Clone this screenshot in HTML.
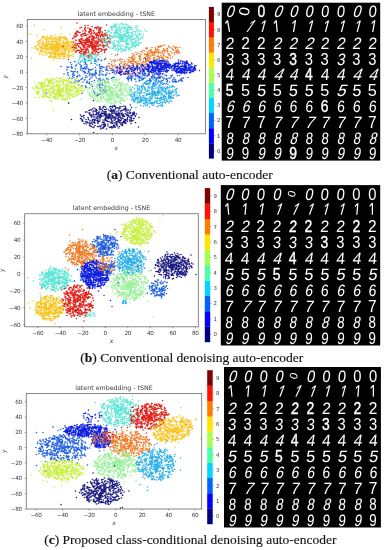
<!DOCTYPE html><html><head><meta charset="utf-8"><style>html,body{margin:0;padding:0;background:#fff;width:384px;height:550px;overflow:hidden}svg{display:block}.t{font-family:"DejaVu Sans",sans-serif;fill:#3a3a3a}.c{font-family:"Liberation Serif",serif;fill:#151515;stroke:#151515;stroke-width:.15px}.d{font-family:"Liberation Sans",sans-serif;fill:#fff;font-size:15.5px}</style></head><body>
<svg width="384" height="550" viewBox="0 0 384 550">
<text class="t" x="116.35" y="15.8" font-size="6.3" text-anchor="middle">latent embedding - tSNE</text>
<clipPath id="cp0"><rect x="27.3" y="19.5" width="178.1" height="114.3"/></clipPath>
<g stroke-linecap="round" fill="none" clip-path="url(#cp0)"><g transform="scale(.5)" stroke-width="3.2">
<path stroke="#f8c420" d="M131 101h0M91 104h0M105 95h0M119 97h0M115 108h0M142 92h0M137 101h0M100 115h0M118 88h0M99 89h0M139 103h0M114 98h0M86 82h0M103 107h0M81 82h0M132 86h0M135 109h0M115 79h0M106 87h0M81 82h0M82 79h0M81 96h0M94 73h0M110 90h0M103 112h0M102 82h0M115 96h0M113 90h0M121 90h0M103 95h0M134 83h0M96 97h0M125 106h0M113 101h0M110 103h0M111 94h0M106 83h0M94 82h0M121 75h0M126 74h0M98 83h0M119 96h0M127 98h0M112 94h0M119 91h0M129 110h0M124 102h0M151 97h0M132 104h0M109 106h0M148 92h0M128 108h0M142 95h0M101 73h0M115 85h0M119 79h0M133 95h0M128 74h0M76 88h0M133 98h0M111 92h0M71 97h0M80 109h0M113 103h0M125 90h0M72 93h0M96 77h0M122 74h0M122 77h0M120 84h0M150 91h0M127 113h0M117 88h0M119 88h0M74 83h0M123 96h0M149 89h0M129 86h0M100 113h0M97 87h0M127 90h0M90 95h0M140 88h0M86 88h0M122 110h0M112 93h0M100 90h0M91 90h0M86 85h0M108 103h0M116 76h0M74 98h0M103 78h0M87 88h0M133 85h0M107 115h0M131 109h0M102 95h0M108 90h0M142 85h0M119 100h0M148 94h0M95 93h0M134 77h0M105 99h0M105 101h0M77 98h0M110 95h0M143 96h0M148 94h0M114 89h0M124 103h0M109 108h0M123 92h0M139 103h0M82 99h0M115 90h0M118 91h0M107 97h0M138 90h0M112 105h0M117 100h0M109 97h0M101 112h0M139 99h0M130 97h0M79 93h0M142 111h0M131 79h0M88 91h0M131 79h0M91 78h0M127 105h0M112 89h0M123 87h0M95 73h0M93 95h0M99 95h0M93 89h0M129 94h0M96 100h0M86 91h0M110 102h0M104 96h0M112 97h0M83 88h0M138 84h0M101 104h0M87 73h0M116 91h0M128 77h0M101 92h0M127 82h0M135 87h0M144 101h0M104 98h0M105 89h0M101 78h0M113 78h0M86 88h0M110 113h0M111 99h0M147 95h0M89 102h0M94 83h0M137 104h0M107 100h0M144 99h0M110 90h0M101 112h0M130 106h0M122 116h0M71 96h0M148 94h0M136 92h0M98 88h0M119 99h0M76 89h0M144 85h0M137 99h0M112 95h0M104 99h0M113 83h0M138 111h0M100 114h0M95 99h0M75 100h0M129 99h0M122 93h0M109 103h0M139 93h0M130 75h0M80 85h0M142 103h0M94 78h0M130 99h0M87 110h0M112 83h0M97 114h0M86 102h0M124 91h0M116 110h0M137 114h0M124 100h0M110 106h0M136 86h0M79 88h0M99 104h0M117 97h0M92 80h0M110 115h0M88 96h0M154 102h0M111 91h0M148 98h0M134 90h0M110 116h0M117 99h0M109 79h0M116 79h0M119 81h0M127 91h0M110 111h0M103 76h0M102 90h0M115 107h0M81 95h0M89 74h0M111 114h0M103 71h0M103 83h0M109 107h0M144 101h0M93 98h0M112 75h0M119 110h0M114 116h0M114 84h0M119 105h0M97 97h0M85 103h0M128 94h0M102 97h0M143 83h0M92 111h0M126 92h0M84 105h0M100 104h0M103 99h0M139 113h0M132 75h0M76 99h0M118 93h0M101 99h0M130 75h0M146 103h0M111 97h0M142 85h0M97 85h0M109 83h0M114 83h0M87 75h0M70 93h0M152 92h0M89 92h0M127 117h0M119 75h0M98 106h0M129 101h0M113 85h0M96 89h0M133 95h0M146 109h0M102 93h0M83 100h0M99 77h0M137 111h0M100 112h0M119 109h0M111 104h0M105 100h0M135 96h0M97 80h0M147 113h0M136 89h0M110 97h0M102 90h0M79 108h0M120 75h0M143 111h0M91 104h0M115 101h0M116 103h0M111 95h0M120 113h0M77 84h0M105 92h0M138 107h0M108 101h0M131 93h0M95 98h0M149 97h0M117 107h0M114 94h0M132 87h0M124 107h0M115 93h0M106 90h0M106 105h0M138 90h0M122 94h0M122 101h0M151 106h0M80 105h0M130 113h0M116 113h0M121 108h0M99 98h0M111 109h0M141 85h0M117 95h0M137 110h0M101 108h0M92 85h0M89 97h0M109 92h0M119 80h0M123 109h0M87 98h0M103 95h0M137 105h0M120 76h0M90 103h0M137 114h0M130 75h0M127 95h0M126 110h0M145 89h0M116 98h0M103 116h0M146 87h0M110 103h0M122 109h0M125 92h0M121 77h0M102 92h0M85 86h0M137 85h0M103 97h0M107 113h0M118 73h0M122 107h0M109 115h0M145 96h0M141 97h0M115 96h0M136 87h0M113 101h0M91 106h0M105 98h0M116 103h0M82 93h0M119 100h0M106 89h0M106 115h0M111 93h0M85 97h0M110 70h0M95 90h0M112 107h0M105 92h0M135 114h0M103 87h0M126 113h0M128 89h0M106 74h0M110 94h0M81 96h0M128 98h0M113 82h0M107 113h0M86 97h0M92 77h0M118 117h0M113 116h0M145 91h0M95 108h0M128 90h0M143 95h0M126 84h0M108 75h0M100 107h0M126 91h0M124 96h0M118 99h0M116 95h0M111 77h0M106 91h0M131 88h0M117 92h0M121 116h0M122 96h0M132 77h0M104 109h0M114 100h0M92 97h0M111 92h0M101 105h0M86 77h0M108 95h0M106 80h0M116 109h0M130 116h0M112 94h0M76 91h0M121 81h0M120 88h0M129 92h0M93 92h0M105 88h0M115 89h0M93 105h0M130 102h0M152 102h0M96 92h0M132 87h0M113 85h0M92 76h0M125 85h0M112 76h0M101 89h0M100 94h0M98 113h0M133 80h0M105 100h0M126 109h0M110 82h0M123 94h0M115 90h0M76 99h0M115 102h0M134 99h0M88 91h0M83 95h0M112 87h0M77 99h0M114 110h0M137 84h0M99 75h0M84 96h0M94 97h0M106 74h0M81 96h0M83 101h0M95 77h0M84 104h0M86 87h0M115 87h0M78 81h0M108 78h0M87 89h0M134 92h0M114 86h0M123 95h0M93 99h0M109 95h0M108 107h0M112 85h0M126 75h0M116 107h0M105 88h0M91 87h0M102 86h0M129 77h0M129 106h0M86 109h0M109 114h0M121 108h0M112 95h0M93 93h0M96 102h0M137 80h0M114 90h0M118 89h0M143 92h0M110 112h0M114 89h0M124 105h0M144 84h0M120 79h0M132 80h0M108 86h0M134 86h0M108 109h0M128 99h0M128 108h0M130 85h0M113 93h0M126 84h0M92 98h0M85 73h0M109 92h0M146 95h0M85 93h0M84 75h0M127 86h0M116 83h0M97 96h0M105 105h0M81 102h0M139 94h0M123 77h0M95 86h0M121 77h0M107 93h0M110 97h0M111 93h0M69 50h0M74 71h0M51 56h0M61 68h0M88 59h0M64 96h0M122 55h0M162 106h0M122 68h0M63 116h0M140 68h0M107 120h0"/>
<path stroke="#e02018" d="M168 92h0M197 74h0M176 82h0M177 82h0M148 100h0M184 82h0M145 95h0M191 101h0M194 82h0M183 83h0M187 77h0M184 92h0M198 105h0M185 78h0M209 91h0M206 69h0M196 78h0M160 65h0M213 91h0M192 69h0M205 86h0M171 70h0M184 74h0M167 94h0M184 66h0M178 114h0M188 81h0M155 71h0M195 54h0M200 65h0M171 68h0M180 108h0M182 84h0M195 69h0M184 79h0M182 112h0M189 56h0M211 92h0M186 61h0M185 94h0M168 67h0M179 63h0M151 96h0M184 90h0M199 67h0M152 73h0M189 93h0M170 81h0M161 85h0M174 93h0M174 78h0M167 110h0M209 81h0M177 84h0M184 105h0M181 59h0M215 70h0M191 94h0M190 84h0M206 71h0M215 89h0M207 73h0M166 80h0M161 103h0M197 97h0M220 84h0M174 96h0M220 86h0M170 59h0M203 99h0M209 68h0M179 59h0M179 91h0M192 94h0M194 92h0M197 106h0M186 80h0M193 72h0M172 88h0M174 78h0M173 101h0M205 100h0M197 85h0M199 61h0M169 93h0M178 93h0M169 86h0M200 78h0M186 79h0M180 108h0M190 96h0M201 70h0M181 91h0M177 115h0M220 80h0M214 78h0M147 84h0M186 92h0M203 98h0M188 93h0M189 85h0M193 103h0M171 62h0M213 89h0M159 101h0M169 110h0M201 57h0M156 91h0M184 113h0M191 91h0M164 77h0M181 83h0M178 75h0M169 57h0M179 66h0M175 84h0M159 83h0M191 106h0M194 88h0M196 88h0M196 105h0M179 83h0M208 94h0M210 99h0M158 87h0M195 92h0M197 62h0M189 90h0M210 67h0M163 84h0M201 73h0M170 109h0M204 77h0M198 55h0M176 83h0M151 104h0M167 104h0M155 87h0M185 85h0M153 64h0M201 63h0M184 115h0M182 109h0M186 106h0M161 95h0M156 63h0M172 80h0M149 95h0M200 97h0M174 89h0M185 98h0M175 80h0M164 68h0M168 82h0M157 92h0M164 85h0M162 77h0M182 85h0M154 89h0M182 68h0M194 85h0M160 106h0M177 64h0M180 75h0M177 94h0M191 68h0M151 86h0M152 92h0M170 60h0M220 77h0M150 73h0M161 98h0M201 60h0M158 93h0M178 110h0M176 100h0M197 58h0M177 103h0M171 80h0M173 107h0M196 54h0M210 61h0M184 83h0M182 63h0M208 78h0M167 99h0M164 77h0M161 84h0M177 89h0M194 69h0M147 92h0M173 99h0M188 64h0M186 73h0M206 94h0M215 75h0M156 101h0M170 85h0M190 93h0M209 77h0M210 84h0M171 67h0M182 84h0M197 106h0M159 80h0M198 80h0M163 98h0M191 87h0M188 89h0M187 61h0M188 82h0M167 107h0M183 94h0M178 90h0M168 98h0M188 81h0M164 73h0M191 69h0M196 71h0M212 71h0M205 72h0M187 95h0M193 69h0M196 99h0M192 97h0M213 98h0M164 102h0M189 65h0M186 100h0M195 83h0M169 107h0M182 93h0M208 99h0M198 98h0M176 69h0M201 74h0M189 103h0M184 104h0M148 72h0M190 99h0M212 100h0M182 63h0M168 71h0M206 90h0M188 73h0M164 80h0M162 86h0M187 98h0M178 75h0M182 70h0M202 55h0M176 76h0M168 106h0M185 100h0M167 108h0M204 66h0M170 58h0M184 87h0M171 96h0M185 86h0M147 76h0M166 62h0M203 79h0M216 85h0M154 70h0M183 78h0M193 75h0M159 105h0M193 56h0M167 93h0M163 55h0M153 96h0M179 79h0M198 92h0M213 85h0M152 81h0M155 64h0M169 103h0M192 99h0M170 71h0M185 97h0M171 100h0M194 70h0M185 74h0M180 61h0M171 88h0M193 58h0M186 90h0M182 89h0M194 89h0M165 89h0M202 81h0M176 51h0M174 82h0M174 85h0M205 80h0M154 62h0M186 108h0M194 91h0M181 87h0M173 77h0M184 53h0M176 56h0M176 99h0M160 81h0M203 84h0M162 71h0M211 69h0M160 87h0M193 86h0M202 103h0M205 84h0M193 99h0M199 57h0M155 100h0M169 92h0M166 92h0M202 102h0M168 90h0M206 90h0M164 90h0M220 71h0M153 68h0M151 69h0M164 79h0M176 112h0M195 70h0M178 85h0M176 78h0M162 83h0M164 100h0M172 82h0M188 75h0M184 97h0M157 80h0M167 85h0M207 90h0M194 66h0M172 62h0M171 55h0M186 75h0M160 79h0M209 102h0M163 107h0M179 82h0M170 90h0M151 66h0M200 60h0M180 73h0M188 67h0M176 90h0M215 85h0M206 92h0M203 69h0M185 107h0M170 80h0M192 82h0M172 82h0M173 71h0M160 82h0M189 56h0M209 105h0M197 65h0M191 55h0M162 103h0M165 99h0M150 68h0M187 78h0M210 85h0M171 80h0M171 100h0M184 83h0M204 77h0M182 88h0M164 86h0M196 77h0M219 83h0M182 60h0M162 70h0M194 69h0M160 56h0M164 85h0M170 103h0M172 104h0M201 79h0M188 102h0M197 93h0M180 84h0M177 105h0M179 94h0M151 80h0M150 74h0M187 89h0M182 59h0M195 67h0M182 88h0M198 82h0M186 93h0M192 100h0M195 104h0M209 72h0M200 62h0M197 93h0M173 77h0M195 110h0M168 95h0M171 105h0M177 80h0M163 87h0M209 80h0M145 77h0M170 51h0M200 89h0M194 87h0M153 102h0M166 68h0M173 105h0M180 57h0M174 112h0M181 112h0M204 71h0M174 76h0M165 107h0M217 94h0M185 85h0M185 87h0M162 110h0M192 76h0M195 83h0M150 89h0M168 109h0M205 64h0M180 75h0M186 78h0M176 82h0M163 72h0M184 95h0M189 95h0M158 65h0M164 79h0M188 74h0M192 55h0M175 98h0M169 66h0M158 94h0M200 64h0M183 66h0M217 76h0M201 82h0M189 77h0M179 73h0M190 86h0M198 71h0M216 83h0M184 71h0M190 109h0M202 91h0M184 81h0M172 85h0M211 117h0M154 46h0M126 93h0M235 109h0M223 54h0M157 126h0M213 50h0M159 13h0M184 116h0M230 92h0M137 119h0"/>
<path stroke="#5ae6d4" d="M227 90h0M244 75h0M236 58h0M211 92h0M229 81h0M213 89h0M259 75h0M246 76h0M226 88h0M255 65h0M276 62h0M242 72h0M235 92h0M272 51h0M223 65h0M244 47h0M240 59h0M237 62h0M232 65h0M243 94h0M205 80h0M252 96h0M257 71h0M256 59h0M254 85h0M262 55h0M272 55h0M248 72h0M253 82h0M252 63h0M219 81h0M243 70h0M219 78h0M231 53h0M225 73h0M234 83h0M247 77h0M240 55h0M238 86h0M235 66h0M257 99h0M229 87h0M241 76h0M228 83h0M257 56h0M264 69h0M261 73h0M231 94h0M246 69h0M263 67h0M280 79h0M261 59h0M222 78h0M210 73h0M228 53h0M232 54h0M249 56h0M278 86h0M276 90h0M255 77h0M239 55h0M222 84h0M276 75h0M227 97h0M273 76h0M230 100h0M258 65h0M272 81h0M259 65h0M257 99h0M240 74h0M228 68h0M253 61h0M261 78h0M227 72h0M243 90h0M237 98h0M213 82h0M211 84h0M221 54h0M250 72h0M253 73h0M255 57h0M239 92h0M254 67h0M256 80h0M248 69h0M244 100h0M230 50h0M259 77h0M236 100h0M231 71h0M257 70h0M252 62h0M215 92h0M247 78h0M271 86h0M235 59h0M251 69h0M258 72h0M240 92h0M265 69h0M237 76h0M276 88h0M244 83h0M281 63h0M242 73h0M225 54h0M242 79h0M257 90h0M235 100h0M239 73h0M217 61h0M268 86h0M267 91h0M231 58h0M253 83h0M272 57h0M263 91h0M236 75h0M266 88h0M220 74h0M253 90h0M247 91h0M207 75h0M203 77h0M214 65h0M265 93h0M265 78h0M263 65h0M238 72h0M242 65h0M246 80h0M224 61h0M259 55h0M265 68h0M248 74h0M247 91h0M231 54h0M250 83h0M238 85h0M202 79h0M251 57h0M258 100h0M262 59h0M224 96h0M260 73h0M261 56h0M278 60h0M216 62h0M256 61h0M281 69h0M271 69h0M246 83h0M250 100h0M232 75h0M231 51h0M254 55h0M278 67h0M225 55h0M226 96h0M277 76h0M270 77h0M238 71h0M234 89h0M235 68h0M264 82h0M236 65h0M271 91h0M260 97h0M264 72h0M229 65h0M213 93h0M274 74h0M253 66h0M252 83h0M208 83h0M275 90h0M265 60h0M266 64h0M277 86h0M229 89h0M224 58h0M263 67h0M229 89h0M228 48h0M218 81h0M246 50h0M244 78h0M254 82h0M221 66h0M242 72h0M248 62h0M264 73h0M256 55h0M239 56h0M240 99h0M249 67h0M259 86h0M244 56h0M241 83h0M252 74h0M262 101h0M237 88h0M265 85h0M263 72h0M251 87h0M223 57h0M232 98h0M234 72h0M246 54h0M229 73h0M232 65h0M254 64h0M229 90h0M282 86h0M247 55h0M269 88h0M233 64h0M252 49h0M266 70h0M257 54h0M255 89h0M229 54h0M271 94h0M224 75h0M227 52h0M242 94h0M255 50h0M247 49h0M269 63h0M223 54h0M269 92h0M241 97h0M240 72h0M252 99h0M242 69h0M233 48h0M250 71h0M260 86h0M263 80h0M268 79h0M273 90h0M238 84h0M252 94h0M259 52h0M276 79h0M213 87h0M241 71h0M214 73h0M250 94h0M286 68h0M266 74h0M239 77h0M238 54h0M226 85h0M253 87h0M256 96h0M257 96h0M262 73h0M278 68h0M281 85h0M260 76h0M243 100h0M256 87h0M277 81h0M237 82h0M277 91h0M252 80h0M271 64h0M210 79h0M212 65h0M253 93h0M241 62h0M286 72h0M255 60h0M269 93h0M244 76h0M247 74h0M273 60h0M271 83h0M227 76h0M254 94h0M260 82h0M266 89h0M237 68h0M215 84h0M238 76h0M235 61h0M234 54h0M263 90h0M249 101h0M251 102h0M230 63h0M276 80h0M256 77h0M246 79h0M282 63h0M275 64h0M247 63h0M256 74h0M264 95h0M269 87h0M284 75h0M214 67h0M218 62h0M277 86h0M241 78h0M246 74h0M242 76h0M240 69h0M261 73h0M229 91h0M251 70h0M240 80h0M231 67h0M251 48h0M245 74h0M216 72h0M232 62h0M242 48h0M238 49h0M244 72h0M260 96h0M207 85h0M227 93h0M264 83h0M270 68h0M264 55h0M246 103h0M269 77h0M237 86h0M251 53h0M277 91h0M233 97h0M275 71h0M232 73h0M223 85h0M232 51h0M236 102h0M285 77h0M254 86h0M238 62h0M246 97h0M262 77h0M278 70h0M219 63h0M236 94h0M253 77h0M248 76h0M273 71h0M260 95h0M243 82h0M243 59h0M254 72h0M256 62h0M256 66h0M281 76h0M258 70h0M239 68h0M254 82h0M240 69h0M251 94h0M252 79h0M220 96h0M246 99h0M223 73h0M244 82h0M248 58h0M234 82h0M232 63h0M233 60h0M249 100h0M242 76h0M274 88h0M247 82h0M264 86h0M253 73h0M273 84h0M203 63h0M297 38h0M308 110h0M293 63h0M273 109h0M275 53h0M242 104h0M290 60h0M311 98h0"/>
<path stroke="#5ae6d4" d="M178 121h0M190 117h0M161 115h0M175 114h0M182 114h0M165 114h0M174 107h0M184 110h0M171 121h0M165 107h0M204 120h0M190 118h0M184 110h0M176 106h0M185 114h0M193 113h0M200 114h0M189 123h0M159 118h0M176 117h0M178 109h0M185 113h0M184 114h0M182 109h0M184 118h0M188 117h0M170 110h0M195 124h0M167 117h0M193 108h0M181 125h0M204 108h0M190 114h0M191 110h0M168 113h0M162 113h0M184 117h0M198 109h0M192 124h0M186 116h0M183 123h0M180 110h0M184 112h0M189 106h0M183 114h0M192 122h0M223 109h0"/>
<path stroke="#5ae6d4" d="M181 118h0M157 122h0M162 110h0M159 116h0M168 128h0M173 121h0M169 121h0M178 117h0M152 123h0M157 120h0M163 121h0M166 111h0M159 112h0M170 129h0M171 112h0M173 114h0M182 121h0M162 113h0M168 124h0M180 120h0M172 120h0M165 121h0M154 128h0M158 126h0M175 122h0M166 122h0M164 122h0M162 112h0"/>
<path stroke="#f07c28" d="M331 101h0M344 106h0M304 106h0M313 103h0M329 121h0M320 94h0M282 103h0M334 114h0M295 108h0M308 117h0M336 106h0M319 122h0M289 109h0M324 121h0M323 114h0M309 103h0M318 93h0M300 118h0M349 109h0M300 112h0M291 115h0M322 111h0M299 101h0M311 98h0M294 113h0M295 106h0M302 105h0M278 128h0M280 108h0M296 114h0M347 100h0M345 114h0M338 108h0M311 95h0M337 110h0M359 105h0M328 111h0M314 112h0M327 117h0M270 124h0M335 103h0M308 115h0M262 123h0M268 109h0M304 103h0M314 113h0M282 131h0M309 118h0M327 97h0M322 115h0M272 125h0M337 92h0M274 109h0M355 95h0M307 119h0M291 120h0M314 118h0M267 128h0M312 123h0M321 93h0M325 91h0M295 107h0M279 114h0M318 100h0M328 99h0M321 105h0M349 105h0M264 115h0M312 99h0M323 123h0M297 120h0M309 108h0M305 104h0M289 115h0M298 122h0M334 97h0M297 123h0M265 112h0M296 112h0M281 121h0M279 128h0M334 102h0M353 104h0M272 123h0M266 117h0M316 93h0M315 100h0M324 102h0M292 97h0M327 122h0M319 115h0M269 118h0M352 101h0M317 95h0M308 104h0M280 128h0M258 120h0M347 92h0M265 114h0M297 109h0M308 124h0M287 118h0M342 103h0M301 103h0M264 118h0M292 110h0M295 96h0M294 98h0M344 96h0M317 107h0M315 98h0M336 115h0M295 121h0M312 122h0M292 109h0M323 114h0M301 118h0M324 117h0M279 117h0M256 124h0M318 113h0M304 108h0M265 127h0M296 104h0M279 112h0M309 109h0M343 96h0M280 120h0M304 103h0M341 116h0M282 110h0M290 125h0M331 120h0M318 105h0M261 122h0M287 123h0M350 94h0M267 121h0M312 101h0M293 119h0M281 114h0M297 120h0M357 102h0M327 108h0M353 106h0M304 103h0M262 115h0M349 109h0M304 95h0M273 128h0M297 110h0M356 104h0M305 108h0M340 112h0M299 107h0M276 131h0M310 126h0M329 104h0M333 120h0M299 116h0M286 101h0M302 112h0M338 94h0M291 124h0M335 99h0M332 114h0M325 107h0M316 93h0M277 123h0M269 112h0M345 99h0M265 107h0M328 101h0M316 93h0M290 129h0M308 125h0M267 120h0M330 101h0M316 112h0M268 112h0M350 95h0M309 106h0M316 105h0M301 101h0M327 110h0M300 101h0M295 117h0M352 95h0M323 92h0M265 123h0M266 121h0M307 105h0M324 106h0M303 99h0M309 115h0M352 104h0M335 97h0M301 112h0M292 122h0M329 120h0M315 113h0M293 123h0M311 104h0M326 102h0M329 104h0M276 106h0M340 110h0M321 92h0M268 122h0M351 97h0M258 115h0M326 115h0M307 115h0M280 113h0M339 94h0M335 102h0M360 95h0M278 113h0M328 112h0M290 108h0M284 125h0M272 105h0M286 124h0M299 123h0M357 106h0M305 110h0M317 103h0M289 102h0M292 96h0M309 110h0M278 112h0M306 111h0M354 102h0M317 114h0M306 127h0M256 119h0M297 104h0M312 106h0M305 129h0M298 116h0M355 99h0M285 105h0M298 116h0M310 125h0M294 110h0M336 117h0M281 121h0M241 118h0M255 131h0M316 126h0M329 90h0M317 132h0M252 139h0"/>
<path stroke="#f07c28" d="M258 123h0M240 134h0M279 127h0M284 139h0M275 137h0M224 131h0M258 150h0M267 129h0M223 139h0M265 127h0M275 144h0M238 144h0M255 128h0M239 120h0M242 123h0M258 136h0M264 142h0M251 135h0M248 126h0M241 135h0M269 135h0M283 140h0M228 133h0M262 126h0M274 129h0M219 134h0M251 127h0M286 136h0M267 119h0M246 130h0M235 144h0M250 145h0M214 139h0M257 132h0M275 144h0M227 143h0M290 132h0M262 132h0M276 127h0M295 129h0M286 128h0M225 133h0M239 139h0M251 143h0M228 132h0M231 130h0M258 124h0M256 147h0M217 131h0M250 123h0M215 134h0M233 144h0M242 139h0M260 147h0M235 120h0M251 145h0M251 134h0M253 130h0M270 116h0M261 125h0M219 133h0M250 123h0M281 118h0M241 146h0M274 148h0M264 128h0M271 124h0M262 116h0M274 139h0M223 123h0M275 133h0M239 139h0M237 145h0M290 134h0M230 123h0M274 127h0M239 128h0M242 143h0M229 124h0M245 143h0M239 140h0M259 151h0M258 150h0M265 120h0M251 148h0M286 136h0M259 142h0M224 128h0M263 123h0M246 134h0M296 143h0M279 138h0M249 135h0M249 122h0M285 131h0M246 136h0M266 148h0M226 121h0M249 145h0M263 135h0M223 129h0M245 139h0M283 129h0M244 124h0M223 137h0M232 135h0M226 144h0M292 128h0M240 119h0M269 142h0M244 119h0M242 127h0M242 132h0M235 133h0M221 119h0M231 111h0"/>
<path stroke="#1020e0" d="M303 127h0M297 138h0M296 129h0M338 132h0M303 123h0M323 133h0M314 120h0M322 128h0M334 135h0M309 122h0M329 126h0M327 135h0M329 137h0M320 136h0M315 141h0M344 133h0M321 126h0M316 127h0M325 137h0M332 124h0M315 130h0M322 143h0M312 148h0M310 122h0M319 142h0M306 134h0M333 136h0M303 144h0M312 138h0M296 132h0M324 132h0M322 142h0M304 144h0M301 124h0M305 141h0M336 134h0M316 148h0M302 125h0M318 130h0M311 127h0M297 139h0M334 141h0M302 133h0M311 137h0M321 139h0M299 131h0M301 134h0M325 148h0M317 132h0M320 124h0M315 127h0M310 138h0M332 138h0M298 130h0M334 141h0M317 148h0M317 137h0M315 137h0M306 141h0M321 147h0M316 135h0M323 134h0M326 135h0M302 141h0M329 137h0M295 139h0M328 123h0M330 128h0M309 126h0M318 144h0M329 126h0M322 134h0M316 133h0M331 143h0M314 127h0M305 124h0M338 136h0M309 141h0M313 130h0M305 132h0M333 142h0M340 136h0M302 143h0M310 137h0M310 133h0M305 137h0M327 133h0M307 138h0M313 145h0M322 131h0M308 136h0M295 132h0M332 131h0M296 141h0M314 135h0M311 121h0M321 133h0M323 134h0M328 140h0M320 144h0M322 136h0M321 129h0M317 143h0M316 128h0M323 133h0M328 139h0M315 132h0M298 134h0M309 136h0M315 141h0M334 140h0M333 142h0M300 134h0M333 127h0M329 133h0M316 150h0M300 126h0M321 128h0M333 139h0M299 125h0M308 135h0M335 142h0M307 126h0M338 131h0M304 138h0M309 128h0M305 131h0M335 132h0M342 133h0M316 124h0M336 130h0M323 121h0M311 143h0M325 127h0M326 143h0M313 138h0M321 137h0M307 145h0M309 148h0M307 137h0M331 135h0M340 131h0M317 140h0M315 133h0M317 144h0M330 134h0M334 144h0M326 120h0M297 130h0M315 148h0M323 142h0M304 126h0M333 129h0M337 128h0M328 139h0M309 128h0M334 130h0M318 122h0M327 139h0M309 124h0M333 144h0M324 133h0M293 139h0M339 132h0M325 136h0M303 139h0M295 142h0M319 148h0M305 134h0M311 141h0M335 134h0M325 137h0M313 135h0M329 123h0M303 129h0M316 133h0M312 133h0M328 139h0M324 122h0M331 126h0M318 118h0M316 136h0M328 122h0M299 144h0M318 127h0M334 129h0M334 128h0M299 137h0M314 124h0M301 123h0M312 125h0M336 123h0M318 131h0M317 136h0M319 142h0M308 144h0M335 131h0M294 133h0M309 141h0M321 121h0M343 136h0M322 139h0M298 142h0M308 143h0M322 138h0M326 139h0M296 133h0M319 139h0M325 122h0M322 128h0M318 130h0M338 133h0M323 128h0M307 121h0M294 128h0M325 139h0M336 125h0M325 138h0M319 122h0M319 127h0M324 125h0M323 131h0M325 136h0M337 141h0M311 128h0M339 137h0M318 142h0M295 131h0M330 142h0M316 126h0M312 139h0M305 135h0M329 130h0M332 124h0M316 141h0M320 137h0M332 133h0M329 128h0M328 140h0M307 124h0M306 133h0M327 131h0M339 128h0M332 129h0M331 126h0M326 127h0M301 143h0M294 137h0M322 143h0M339 132h0M310 138h0M330 131h0M291 117h0M344 141h0M287 132h0M355 132h0M289 144h0M333 151h0"/>
<path stroke="#1020e0" d="M348 128h0M362 143h0M353 138h0M390 139h0M364 138h0M372 124h0M354 133h0M360 127h0M354 142h0M389 140h0M359 128h0M378 136h0M354 127h0M372 140h0M371 131h0M373 128h0M359 128h0M381 134h0M350 133h0M370 145h0M390 136h0M365 127h0M369 141h0M357 143h0M348 130h0M390 134h0M369 134h0M368 134h0M371 141h0M349 136h0M368 133h0M367 140h0M370 125h0M360 127h0M359 134h0M362 144h0M378 139h0M374 141h0M382 142h0M368 146h0M366 144h0M368 123h0M351 131h0M379 136h0M363 141h0M376 136h0M360 146h0M368 136h0M364 137h0M362 133h0M363 143h0M359 142h0M373 124h0M379 141h0M351 127h0M374 136h0M369 145h0M351 135h0M374 144h0M374 143h0M388 138h0M357 134h0M370 131h0M372 137h0M369 130h0M355 140h0M355 145h0M345 131h0M385 143h0M350 128h0M373 134h0M366 138h0M353 140h0M351 143h0M347 137h0M388 137h0M382 139h0M389 133h0M389 132h0M364 133h0M370 135h0M366 142h0M370 134h0M379 135h0M373 146h0M361 133h0M362 137h0M391 140h0M387 143h0M391 138h0M350 135h0M373 127h0M373 132h0M354 137h0M351 131h0M389 134h0M377 136h0M358 138h0M371 134h0M366 126h0M362 145h0M351 129h0M379 145h0M381 134h0M369 138h0M364 132h0M349 134h0M358 127h0M351 135h0M350 140h0M355 138h0M353 139h0M381 134h0M363 137h0M356 131h0M377 130h0M363 147h0M380 130h0M369 147h0M358 136h0M369 142h0M385 143h0M384 134h0M386 139h0M386 140h0M384 128h0M352 127h0M368 138h0M365 123h0M362 133h0M356 138h0M357 145h0M392 131h0M358 138h0M357 128h0M356 132h0M365 139h0M367 145h0M365 144h0M348 139h0M380 146h0M364 139h0M369 128h0M370 128h0M348 141h0M345 133h0M352 143h0M361 140h0M348 138h0M360 143h0M349 132h0M369 135h0M370 140h0M368 146h0M366 141h0M364 128h0M356 126h0M368 138h0M375 127h0M385 134h0M357 144h0M370 133h0M364 132h0M379 139h0M371 131h0M363 147h0M377 138h0M353 146h0M360 137h0M352 126h0M349 134h0M372 139h0M358 135h0M379 130h0M382 137h0M382 144h0M372 126h0M366 132h0M365 132h0M357 126h0M376 140h0M362 138h0M352 132h0M361 142h0M383 126h0M373 123h0M380 141h0M363 140h0M354 133h0M370 132h0M360 145h0M363 138h0M374 140h0M358 144h0M356 134h0M361 124h0M377 130h0M365 145h0M375 124h0M380 134h0M369 133h0M355 139h0M382 140h0M357 124h0M374 126h0M387 136h0M370 130h0M372 138h0M381 130h0M365 145h0M373 122h0M350 136h0M353 144h0M348 130h0M348 133h0M362 121h0M377 128h0M371 132h0M382 135h0M385 140h0M361 143h0M377 132h0M348 131h0M360 141h0M392 131h0M382 143h0M377 140h0M383 133h0M370 140h0M399 141h0M343 133h0M341 129h0M334 122h0M357 120h0"/>
<path stroke="#1020e0" d="M234 142h0M244 142h0M280 148h0M284 129h0M279 146h0M281 143h0M267 140h0M279 135h0M285 137h0M287 139h0M282 132h0M275 140h0M298 147h0M290 138h0M285 141h0M243 149h0M296 136h0M285 129h0M265 140h0M234 134h0M264 135h0M298 144h0M248 148h0M272 136h0M275 132h0M262 152h0M294 139h0M242 145h0M283 134h0M254 139h0M285 147h0M237 146h0M242 144h0M269 140h0M274 135h0M305 140h0M241 134h0M270 147h0M297 139h0M281 143h0M253 142h0M230 142h0M257 142h0M280 148h0M261 138h0M267 133h0M247 147h0M258 141h0M259 133h0M240 142h0M290 135h0M275 151h0M266 131h0M256 143h0M239 144h0M250 148h0M303 145h0M256 136h0M249 130h0M267 140h0M264 140h0M241 145h0M241 150h0M273 132h0M268 140h0M288 141h0M254 137h0M239 147h0M243 144h0M291 136h0M258 131h0M262 137h0M256 148h0M286 141h0M256 145h0M271 138h0M267 140h0M270 137h0M291 147h0M269 139h0M271 148h0M306 140h0M233 146h0M303 139h0M297 136h0M274 152h0M257 145h0M297 149h0M227 140h0M253 148h0M267 133h0M287 132h0M239 136h0M286 144h0M282 144h0M263 139h0M266 136h0M236 136h0M265 147h0M280 138h0M267 144h0M241 138h0M290 136h0M274 132h0M288 140h0M298 148h0M260 136h0M280 140h0M255 144h0M269 145h0M251 143h0M279 135h0M235 140h0M267 140h0M275 135h0M232 136h0M263 143h0M247 134h0M287 143h0M271 139h0M269 138h0M276 137h0M286 131h0M248 137h0M271 149h0M277 146h0M308 154h0M239 130h0M201 137h0"/>
<path stroke="#2462e0" d="M134 140h0M181 156h0M192 140h0M215 158h0M199 148h0M169 143h0M182 169h0M142 142h0M155 153h0M199 129h0M169 117h0M216 141h0M134 134h0M184 163h0M135 148h0M171 128h0M196 118h0M169 135h0M158 162h0M175 147h0M145 148h0M185 151h0M150 143h0M200 159h0M179 148h0M169 160h0M219 147h0M184 154h0M206 143h0M151 138h0M203 121h0M204 149h0M223 157h0M150 164h0M154 162h0M200 137h0M200 145h0M184 154h0M190 119h0M192 122h0M186 138h0M205 134h0M147 146h0M184 150h0M205 166h0M149 150h0M178 139h0M151 132h0M228 155h0M204 169h0M161 140h0M147 150h0M174 154h0M220 137h0M141 165h0M179 164h0M136 145h0M218 127h0M147 144h0M198 171h0M162 137h0M180 139h0M203 133h0M200 149h0M192 145h0M174 130h0M185 148h0M145 153h0M200 157h0M191 148h0M200 144h0M210 163h0M225 145h0M206 160h0M165 137h0M230 148h0M180 148h0M216 164h0M143 129h0M178 145h0M209 161h0M169 137h0M183 140h0M157 163h0M135 135h0M149 166h0M163 134h0M165 141h0M204 148h0M166 164h0M153 130h0M179 159h0M183 127h0M159 161h0M202 141h0M198 151h0M161 124h0M155 152h0M190 122h0M143 133h0M193 147h0M143 136h0M137 151h0M173 165h0M214 146h0M189 161h0M213 137h0M217 159h0M177 143h0M211 150h0M212 151h0M191 142h0M213 136h0M149 123h0M198 120h0M197 158h0M224 157h0M214 140h0M145 136h0M171 155h0M171 138h0M213 133h0M134 139h0M128 148h0M191 145h0M208 135h0M172 128h0M175 165h0M196 161h0M163 131h0M179 151h0M163 173h0M182 140h0M178 142h0M144 143h0M174 136h0M167 143h0M171 125h0M212 149h0M207 150h0M210 173h0M171 172h0M178 121h0M191 135h0M179 167h0M163 158h0M169 146h0M205 133h0M171 145h0M178 167h0M199 142h0M226 141h0M165 156h0M170 146h0M172 175h0M225 155h0M225 138h0M150 160h0M200 134h0M158 170h0M178 145h0M189 149h0M226 141h0M167 137h0M185 150h0M222 141h0M170 119h0M194 130h0M199 168h0M169 159h0M228 145h0M188 148h0M162 159h0M199 132h0M147 151h0M172 174h0M201 162h0M190 127h0M202 161h0M228 154h0M144 157h0M139 156h0M174 162h0M199 174h0M177 138h0M177 142h0M154 153h0M155 143h0M174 133h0M158 150h0M148 155h0M188 150h0M172 138h0M203 137h0M193 156h0M143 134h0M160 152h0M160 129h0M211 140h0M161 133h0M172 151h0M155 145h0M171 134h0M214 140h0M209 119h0M183 148h0M141 125h0M154 154h0M191 152h0M138 134h0M172 173h0M193 173h0M213 157h0M148 143h0M164 171h0M185 173h0M170 124h0M206 159h0M93 187h0M122 133h0M256 158h0M230 120h0M164 187h0"/>
<path stroke="#2462e0" d="M329 156h0M262 155h0M333 159h0M361 159h0M313 159h0M288 151h0M346 159h0M361 161h0M257 160h0M290 156h0M303 153h0M305 154h0M295 168h0M330 150h0M266 152h0M338 156h0M322 153h0M263 161h0M319 152h0M351 160h0M306 158h0M321 156h0M326 161h0M270 152h0M348 155h0M278 162h0M346 164h0M260 155h0M335 161h0M318 156h0M310 154h0M328 167h0M279 157h0M342 151h0M280 161h0M296 161h0M263 158h0M306 158h0M326 169h0M317 156h0M350 160h0M301 163h0M257 162h0M286 157h0M348 163h0M280 153h0M262 150h0M318 154h0M300 159h0M287 156h0M315 148h0M284 159h0M290 151h0M302 162h0M363 157h0M341 156h0M332 159h0M363 158h0M299 161h0M309 156h0M348 156h0M355 151h0M264 156h0M317 162h0M289 166h0M350 163h0M258 157h0M272 163h0M264 153h0M327 158h0M263 155h0M263 159h0M357 163h0M308 166h0M313 163h0M305 148h0M283 156h0M313 158h0M271 158h0M277 152h0M315 156h0M345 150h0M364 163h0M289 148h0M343 153h0M257 153h0M286 149h0M317 164h0M325 154h0M257 157h0M290 151h0M311 158h0M345 162h0M318 153h0M345 150h0M284 160h0M255 155h0M306 167h0M317 155h0M320 163h0M290 167h0M320 149h0M294 150h0M308 152h0M339 164h0M334 159h0M334 163h0M326 147h0M280 156h0M367 156h0M334 157h0M294 153h0M289 147h0M287 158h0M352 165h0M289 150h0M300 158h0M285 159h0M276 154h0M332 168h0M319 155h0M359 151h0M366 156h0M310 170h0M350 159h0M323 162h0M302 161h0M314 155h0M364 161h0M293 168h0M353 163h0M318 157h0M358 161h0M303 156h0M315 167h0M284 152h0M272 151h0M299 158h0M269 158h0M262 157h0M333 158h0M321 166h0M278 154h0M295 151h0M254 157h0M307 168h0M293 163h0M306 151h0M298 151h0M258 147h0M376 155h0M344 138h0"/>
<path stroke="#2462e0" d="M205 185h0M187 182h0M211 174h0M190 188h0M200 181h0M206 185h0M189 185h0M207 181h0M200 170h0M195 170h0M205 179h0M197 189h0M209 179h0M205 179h0M205 171h0M213 182h0M210 184h0M201 176h0M208 179h0M202 176h0M201 177h0M211 182h0M199 177h0M198 188h0M203 176h0M213 182h0M200 188h0M204 189h0"/>
<path stroke="#2cb0ea" d="M304 185h0M342 174h0M283 186h0M269 186h0M269 189h0M305 191h0M313 202h0M286 191h0M335 203h0M284 199h0M322 186h0M334 200h0M281 198h0M269 178h0M333 203h0M325 211h0M305 183h0M270 190h0M283 172h0M356 190h0M271 184h0M314 184h0M298 188h0M350 179h0M315 202h0M304 180h0M263 179h0M352 188h0M337 190h0M304 195h0M277 185h0M303 190h0M297 189h0M319 201h0M299 186h0M262 182h0M333 186h0M273 196h0M285 200h0M343 186h0M280 187h0M278 203h0M319 207h0M325 206h0M306 174h0M312 187h0M274 172h0M336 169h0M309 185h0M340 198h0M284 178h0M346 184h0M317 177h0M268 200h0M328 199h0M316 185h0M327 178h0M299 169h0M309 203h0M339 193h0M287 206h0M332 187h0M332 185h0M322 210h0M267 190h0M293 166h0M330 201h0M338 186h0M326 199h0M312 204h0M296 180h0M265 175h0M281 196h0M307 189h0M281 211h0M263 189h0M324 175h0M295 188h0M336 184h0M343 203h0M267 185h0M314 196h0M338 188h0M301 194h0M358 191h0M323 194h0M339 174h0M261 191h0M321 195h0M322 196h0M327 193h0M352 182h0M320 211h0M291 182h0M313 170h0M338 183h0M300 188h0M315 182h0M342 183h0M318 172h0M326 195h0M354 177h0M345 181h0M314 207h0M308 183h0M305 205h0M324 180h0M275 195h0M284 194h0M300 201h0M316 206h0M307 189h0M299 165h0M323 198h0M270 197h0M288 186h0M330 193h0M280 200h0M348 190h0M294 187h0M289 186h0M309 187h0M303 184h0M290 176h0M289 166h0M287 212h0M320 163h0M261 184h0M345 196h0M291 202h0M305 170h0M291 198h0M279 190h0M275 202h0M330 205h0M271 200h0M304 190h0M276 177h0M339 191h0M317 197h0M304 205h0M308 170h0M337 197h0M339 181h0M323 177h0M317 179h0M280 192h0M297 173h0M343 195h0M302 200h0M285 201h0M315 213h0M293 191h0M327 193h0M311 190h0M292 198h0M348 183h0M338 206h0M335 175h0M345 174h0M311 167h0M307 183h0M290 208h0M307 188h0M298 198h0M316 212h0M265 199h0M336 186h0M328 174h0M333 186h0M296 166h0M262 183h0M333 189h0M340 187h0M329 183h0M306 186h0M268 190h0M297 189h0M318 172h0M305 172h0M288 207h0M280 203h0M352 179h0M272 197h0M343 192h0M334 177h0M342 188h0M274 198h0M315 183h0M264 188h0M288 201h0M289 178h0M349 174h0M294 183h0M306 171h0M313 176h0M290 175h0M346 172h0M288 174h0M352 186h0M304 174h0M280 205h0M286 195h0M320 162h0M286 173h0M291 196h0M313 203h0M288 192h0M322 205h0M309 189h0M292 205h0M307 177h0M281 203h0M303 186h0M274 182h0M270 170h0M331 180h0M276 171h0M283 181h0M291 211h0M329 191h0M319 186h0M304 197h0M296 176h0M322 190h0M341 193h0M341 196h0M270 201h0M315 190h0M309 173h0M279 179h0M283 198h0M295 209h0M293 200h0M287 196h0M315 197h0M301 205h0M274 190h0M298 181h0M296 207h0M327 180h0M265 194h0M292 190h0M324 213h0M294 211h0M275 186h0M300 165h0M275 176h0M315 186h0M341 197h0M313 170h0M295 189h0M271 200h0M260 182h0M276 194h0M307 210h0M280 184h0M272 195h0M317 181h0M284 175h0M347 196h0M313 201h0M312 190h0M293 190h0M305 188h0M320 197h0M322 201h0M330 176h0M331 194h0M310 161h0M333 177h0M319 183h0M272 196h0M307 206h0M310 191h0M299 194h0M291 165h0M300 204h0M266 200h0M346 173h0M310 183h0M277 196h0M260 178h0M291 164h0M286 171h0M310 190h0M317 190h0M277 198h0M303 161h0M285 178h0M344 172h0M298 175h0M320 169h0M336 203h0M286 168h0M304 194h0M299 214h0M299 202h0M301 164h0M308 168h0M339 193h0M296 180h0M289 197h0M266 196h0M338 187h0M345 174h0M313 191h0M293 169h0M322 183h0M322 165h0M320 175h0M276 206h0M283 203h0M293 189h0M306 182h0M295 181h0M319 207h0M321 205h0M323 174h0M334 175h0M300 189h0M333 199h0M266 195h0M327 194h0M311 165h0M301 197h0M309 170h0M276 180h0M312 190h0M346 195h0M317 188h0M327 197h0M292 197h0M325 208h0M332 180h0M324 188h0M306 185h0M330 196h0M294 205h0M331 206h0M296 168h0M309 206h0M320 171h0M329 185h0M341 185h0M265 194h0M319 171h0M280 186h0M315 195h0M291 179h0M316 174h0M292 204h0M310 190h0M275 205h0M335 173h0M269 204h0M312 163h0M320 179h0M317 184h0M282 201h0M302 174h0M332 196h0M311 187h0M311 197h0M305 189h0M300 207h0M308 164h0M303 178h0M294 198h0M308 171h0M339 194h0M290 196h0M286 201h0M322 183h0M298 186h0M331 177h0M331 193h0M308 178h0M297 200h0M326 204h0M299 176h0M340 202h0M290 206h0M303 208h0M299 167h0M324 165h0M304 177h0M312 204h0M269 193h0M353 185h0M307 188h0M329 204h0M303 207h0M320 200h0M282 173h0M310 194h0M294 197h0M280 180h0M306 207h0M312 176h0M337 195h0M288 197h0M341 193h0M276 198h0M305 211h0M284 199h0M331 182h0M269 193h0M325 178h0M283 184h0M326 182h0M293 200h0M338 181h0M279 174h0M315 182h0M311 169h0M295 203h0M334 166h0M281 201h0M263 199h0M337 193h0M263 193h0M347 191h0M291 200h0M338 176h0M322 175h0M280 194h0M312 186h0M305 192h0M290 175h0M344 186h0M305 194h0M326 190h0M324 167h0M353 192h0M279 176h0M241 206h0M272 215h0M233 189h0M278 158h0M334 164h0M267 203h0M313 161h0M281 155h0M241 180h0M294 162h0"/>
<path stroke="#c8f040" d="M105 173h0M151 175h0M146 165h0M113 170h0M86 188h0M108 157h0M131 174h0M136 186h0M120 194h0M116 164h0M146 193h0M116 175h0M149 172h0M76 177h0M138 182h0M79 177h0M143 172h0M120 165h0M169 176h0M87 179h0M125 165h0M113 188h0M122 198h0M78 182h0M128 169h0M167 182h0M116 164h0M102 161h0M101 184h0M115 182h0M100 176h0M76 187h0M125 170h0M110 190h0M149 176h0M107 187h0M86 186h0M81 170h0M88 189h0M133 179h0M75 175h0M140 188h0M157 183h0M143 164h0M102 189h0M112 164h0M118 156h0M89 171h0M143 173h0M155 191h0M149 171h0M113 169h0M100 172h0M72 175h0M111 187h0M149 185h0M105 171h0M99 188h0M138 190h0M100 164h0M132 177h0M126 194h0M88 166h0M107 167h0M135 176h0M160 177h0M128 190h0M120 187h0M159 180h0M116 194h0M126 193h0M117 180h0M86 193h0M143 167h0M137 159h0M150 194h0M81 173h0M97 170h0M136 188h0M121 158h0M87 182h0M104 185h0M93 191h0M97 182h0M130 173h0M103 175h0M161 182h0M77 188h0M141 185h0M136 172h0M156 168h0M113 184h0M140 179h0M116 193h0M135 193h0M149 193h0M108 193h0M116 184h0M115 169h0M126 199h0M89 171h0M140 181h0M107 181h0M108 173h0M83 165h0M159 169h0M136 162h0M85 180h0M129 160h0M90 192h0M114 179h0M152 180h0M132 195h0M74 175h0M125 197h0M77 165h0M86 167h0M72 173h0M97 185h0M108 166h0M111 193h0M135 198h0M103 160h0M103 189h0M98 164h0M119 178h0M120 183h0M147 174h0M127 175h0M117 175h0M92 194h0M125 155h0M128 199h0M143 172h0M92 182h0M117 185h0M135 156h0M144 189h0M161 173h0M74 186h0M143 171h0M152 190h0M117 186h0M122 186h0M87 193h0M119 178h0M152 181h0M124 191h0M160 175h0M85 195h0M90 186h0M76 184h0M153 177h0M137 169h0M106 177h0M89 167h0M164 174h0M114 163h0M99 161h0M121 191h0M107 176h0M107 183h0M148 176h0M87 174h0M75 175h0M125 193h0M116 183h0M123 180h0M77 184h0M103 164h0M105 176h0M122 188h0M124 178h0M131 180h0M89 184h0M101 195h0M120 182h0M119 177h0M117 184h0M158 187h0M120 182h0M134 162h0M118 179h0M106 167h0M103 189h0M85 175h0M99 163h0M94 170h0M101 200h0M85 173h0M128 188h0M117 191h0M89 171h0M122 183h0M137 180h0M92 171h0M152 182h0M116 175h0M116 192h0M107 182h0M116 183h0M149 166h0M144 180h0M135 183h0M101 184h0M83 175h0M140 180h0M142 164h0M95 160h0M111 180h0M137 182h0M74 182h0M145 194h0M130 161h0M78 195h0M149 174h0M169 177h0M155 167h0M144 171h0M102 160h0M117 186h0M138 178h0M71 177h0M78 176h0M119 184h0M119 189h0M133 171h0M134 198h0M134 166h0M81 167h0M118 179h0M82 170h0M100 190h0M108 180h0M136 162h0M158 183h0M78 184h0M81 168h0M117 173h0M127 167h0M106 195h0M84 166h0M84 164h0M77 166h0M111 193h0M142 176h0M82 177h0M144 174h0M89 190h0M96 183h0M145 182h0M117 163h0M96 162h0M87 170h0M66 176h0M103 189h0M139 192h0M124 170h0M100 180h0M102 184h0M124 190h0M133 183h0M93 182h0M165 174h0M77 183h0M90 180h0M149 189h0M100 190h0M126 159h0M125 191h0M131 162h0M107 184h0M102 164h0M94 179h0M89 172h0M124 183h0M108 163h0M91 185h0M129 200h0M116 179h0M103 189h0M114 188h0M87 182h0M132 178h0M154 166h0M136 185h0M137 195h0M146 164h0M86 183h0M104 156h0M92 181h0M115 189h0M131 172h0M107 168h0M133 176h0M142 158h0M154 181h0M143 174h0M139 162h0M164 178h0M158 189h0M97 167h0M125 198h0M139 179h0M139 174h0M135 171h0M83 192h0M91 191h0M142 191h0M125 179h0M127 180h0M113 188h0M102 191h0M156 178h0M131 200h0M115 194h0M125 160h0M73 171h0M112 190h0M117 163h0M98 171h0M110 187h0M147 178h0M108 181h0M156 182h0M73 187h0M86 167h0M121 173h0M101 161h0M131 180h0M153 190h0M151 173h0M114 160h0M149 184h0M123 190h0M121 193h0M139 173h0M114 160h0M115 171h0M135 173h0M162 181h0M113 186h0M82 169h0M131 185h0M109 159h0M105 184h0M96 176h0M68 180h0M169 177h0M119 179h0M104 178h0M160 164h0M153 186h0M149 194h0M65 176h0M120 162h0M154 176h0M115 162h0M145 167h0M117 189h0M134 168h0M121 161h0M120 191h0M127 165h0M94 157h0M132 178h0M134 188h0M133 181h0M74 188h0M108 185h0M144 188h0M92 178h0M80 167h0M127 183h0M115 178h0M131 173h0M111 172h0M98 194h0M100 159h0M108 179h0M101 179h0M154 184h0M143 171h0M97 167h0M162 172h0M114 197h0M84 169h0M140 197h0M146 189h0M100 166h0M89 166h0M126 176h0M97 165h0M163 183h0M117 176h0M77 185h0M120 157h0M118 171h0M135 172h0M137 188h0M166 181h0M123 191h0M150 160h0M138 167h0M84 171h0M150 175h0M131 174h0M109 195h0M92 172h0M91 159h0M102 201h0M105 160h0M90 164h0M153 176h0M167 184h0M128 188h0M133 198h0M95 172h0M119 168h0M127 177h0M106 168h0M123 177h0M156 185h0M149 166h0M95 193h0M119 182h0M122 181h0M111 197h0M114 155h0M136 163h0M72 174h0M136 177h0M113 189h0M125 162h0M142 180h0M130 200h0M90 162h0M121 181h0M80 166h0M128 161h0M119 180h0M120 174h0M124 164h0M86 195h0M97 195h0M116 199h0M109 198h0M136 188h0M122 185h0M132 160h0M99 178h0M118 179h0M129 198h0M103 166h0M144 182h0M113 173h0M97 161h0M75 174h0M119 185h0M71 195h0M103 203h0M107 221h0M172 159h0M69 164h0M139 206h0M137 207h0M175 179h0M181 145h0M155 158h0M152 158h0"/>
<path stroke="#98f098" d="M206 194h0M240 198h0M217 175h0M178 178h0M201 183h0M195 190h0M246 200h0M202 197h0M228 159h0M179 190h0M190 165h0M204 195h0M226 189h0M201 178h0M180 189h0M194 190h0M219 166h0M182 194h0M185 192h0M219 191h0M198 200h0M226 163h0M209 160h0M237 165h0M186 169h0M239 166h0M220 184h0M236 171h0M215 205h0M235 189h0M181 170h0M221 200h0M231 204h0M216 194h0M213 163h0M205 188h0M201 194h0M210 175h0M196 165h0M190 178h0M218 200h0M228 168h0M210 178h0M204 189h0M191 193h0M181 192h0M187 197h0M217 170h0M213 166h0M195 202h0M233 175h0M185 194h0M232 205h0M207 186h0M196 186h0M225 183h0M244 172h0M183 183h0M224 183h0M242 196h0M185 177h0M194 174h0M250 169h0M212 185h0M228 170h0M237 195h0M223 183h0M236 193h0M180 175h0M206 161h0M242 186h0M216 190h0M212 176h0M179 177h0M228 192h0M223 204h0M223 189h0M211 173h0M218 193h0M242 190h0M219 181h0M215 180h0M203 189h0M234 195h0M223 190h0M227 195h0M209 165h0M193 187h0M235 184h0M249 192h0M232 176h0M220 199h0M232 176h0M204 184h0M243 178h0M227 207h0M226 183h0M256 176h0M237 180h0M240 182h0M194 203h0M243 172h0M222 195h0M241 169h0M204 182h0M234 161h0M211 168h0M232 164h0M261 180h0M234 171h0M203 184h0M239 182h0M226 187h0M248 191h0M197 170h0M223 197h0M190 198h0M214 202h0M242 167h0M255 197h0M208 188h0M243 200h0M234 193h0M229 192h0M235 175h0M210 200h0M256 184h0M254 188h0M221 179h0M213 174h0M211 171h0M204 161h0M204 160h0M220 207h0M228 199h0M217 188h0M241 176h0M239 159h0M228 182h0M225 178h0M236 169h0M246 187h0M247 177h0M179 191h0M242 201h0M219 177h0M256 180h0M223 186h0M228 181h0M199 163h0M206 185h0M206 180h0M261 183h0M232 194h0M242 179h0M230 200h0M252 178h0M223 188h0M239 167h0M224 190h0M250 181h0M222 184h0M250 176h0M236 170h0M199 203h0M232 176h0M223 175h0M212 187h0M206 169h0M186 194h0M218 197h0M221 181h0M185 190h0M246 182h0M193 193h0M195 190h0M241 173h0M227 206h0M250 202h0M191 186h0M222 184h0M246 187h0M207 193h0M210 181h0M255 184h0M210 167h0M201 164h0M202 183h0M257 189h0M232 159h0M205 182h0M221 184h0M239 193h0M215 204h0M221 198h0M193 173h0M239 179h0M224 182h0M221 207h0M196 163h0M244 169h0M204 203h0M241 201h0M204 166h0M247 178h0M231 183h0M239 192h0M175 175h0M232 179h0M237 197h0M241 185h0M221 173h0M224 189h0M228 198h0M212 187h0M207 194h0M229 202h0M217 186h0M201 185h0M216 172h0M232 171h0M240 205h0M233 156h0M243 188h0M245 190h0M217 199h0M205 179h0M191 186h0M201 193h0M225 190h0M198 180h0M259 187h0M204 196h0M214 187h0M195 166h0M213 179h0M224 200h0M198 180h0M208 175h0M230 165h0M261 173h0M210 163h0M209 196h0M221 176h0M224 189h0M252 173h0M217 203h0M202 167h0M246 172h0M248 168h0M209 165h0M224 195h0M228 208h0M184 171h0M242 181h0M246 195h0M191 179h0M229 171h0M218 201h0M260 186h0M178 176h0M253 168h0M219 180h0M224 161h0M214 200h0M205 181h0M204 180h0M225 186h0M241 196h0M256 170h0M210 210h0M206 161h0M224 185h0M222 176h0M229 169h0M222 183h0M197 162h0M249 200h0M241 173h0M201 196h0M221 184h0M221 173h0M206 157h0M191 198h0M223 208h0M219 194h0M229 161h0M178 187h0M195 172h0M184 185h0M245 185h0M200 187h0M219 189h0M185 169h0M246 187h0M202 177h0M214 179h0M250 174h0M188 165h0M212 165h0M199 177h0M194 195h0M208 171h0M214 197h0M244 168h0M210 175h0M194 193h0M218 181h0M196 160h0M242 196h0M176 184h0M246 182h0M230 185h0M252 182h0M212 199h0M236 192h0M216 156h0M240 172h0M228 177h0M191 189h0M218 181h0M234 175h0M228 170h0M196 199h0M222 193h0M225 176h0M218 182h0M228 199h0M239 202h0M244 201h0M231 189h0M202 190h0M253 192h0M225 187h0M219 173h0M181 188h0M213 191h0M239 189h0M217 166h0M217 179h0M225 191h0M236 160h0M234 186h0M239 165h0M233 192h0M212 166h0M211 187h0M215 191h0M255 168h0M203 199h0M194 177h0M243 181h0M244 165h0M198 182h0M216 160h0M259 190h0M207 196h0M226 157h0M185 179h0M194 175h0M245 202h0M245 197h0M241 169h0M226 191h0M192 184h0M241 177h0M259 175h0M195 189h0M251 181h0M228 181h0M214 173h0M190 191h0M207 188h0M213 181h0M198 181h0M230 187h0M236 191h0M256 191h0M234 204h0M292 165h0M256 161h0M162 198h0M256 219h0M314 189h0M202 150h0M133 190h0M220 215h0M201 154h0"/>
<path stroke="#1c1c82" d="M242 236h0M234 229h0M233 230h0M211 232h0M226 254h0M219 255h0M207 213h0M184 230h0M263 215h0M240 216h0M255 243h0M219 229h0M201 216h0M223 246h0M216 248h0M197 253h0M204 249h0M238 220h0M225 214h0M222 229h0M259 224h0M208 247h0M224 221h0M245 234h0M241 222h0M262 231h0M212 236h0M207 227h0M259 234h0M193 222h0M229 251h0M252 220h0M268 224h0M163 233h0M251 227h0M166 232h0M229 221h0M167 232h0M203 233h0M245 249h0M252 217h0M187 245h0M195 244h0M192 234h0M217 220h0M183 230h0M187 222h0M179 227h0M236 240h0M235 216h0M180 226h0M215 243h0M181 231h0M219 232h0M260 242h0M223 226h0M245 221h0M206 215h0M226 232h0M195 232h0M255 239h0M168 236h0M200 238h0M208 253h0M180 220h0M235 237h0M251 244h0M232 236h0M244 246h0M217 230h0M271 233h0M210 241h0M226 226h0M210 230h0M223 240h0M188 216h0M161 230h0M206 232h0M230 223h0M226 232h0M222 253h0M246 237h0M166 243h0M232 230h0M203 232h0M207 256h0M231 218h0M200 230h0M171 224h0M238 239h0M215 234h0M233 247h0M199 230h0M190 238h0M262 239h0M233 247h0M235 244h0M266 241h0M224 221h0M192 222h0M234 222h0M227 220h0M222 237h0M194 221h0M191 229h0M212 233h0M196 226h0M240 213h0M227 254h0M231 217h0M244 226h0M188 244h0M222 232h0M266 228h0M208 247h0M201 234h0M240 217h0M249 219h0M185 242h0M199 219h0M262 247h0M241 248h0M208 224h0M218 228h0M248 212h0M200 232h0M189 246h0M209 226h0M256 228h0M205 227h0M217 234h0M268 229h0M183 232h0M251 222h0M184 246h0M177 238h0M216 237h0M245 251h0M190 239h0M202 233h0M203 227h0M231 234h0M236 237h0M257 220h0M200 235h0M262 237h0M236 230h0M183 220h0M234 228h0M226 212h0M185 249h0M172 243h0M229 211h0M193 226h0M218 235h0M201 228h0M190 222h0M218 227h0M205 221h0M194 241h0M250 243h0M186 255h0M207 256h0M220 232h0M180 242h0M233 250h0M180 229h0M225 236h0M188 245h0M242 237h0M255 231h0M227 251h0M221 245h0M224 227h0M267 237h0M264 232h0M252 247h0M240 230h0M251 213h0M224 254h0M231 238h0M214 241h0M222 255h0M212 219h0M255 235h0M269 226h0M192 223h0M212 225h0M237 235h0M244 221h0M249 244h0M260 227h0M198 224h0M210 236h0M247 243h0M178 226h0M215 236h0M243 250h0M248 219h0M214 230h0M227 226h0M200 219h0M207 250h0M198 230h0M240 226h0M213 218h0M247 232h0M184 234h0M206 240h0M229 246h0M177 239h0M244 213h0M190 251h0M251 240h0M233 227h0M211 227h0M202 252h0M196 244h0M226 244h0M248 242h0M198 234h0M246 237h0M210 248h0M214 231h0M200 242h0M231 254h0M259 224h0M195 237h0M218 236h0M240 230h0M227 222h0M239 227h0M187 228h0M206 216h0M187 229h0M244 231h0M259 234h0M237 232h0M264 241h0M268 225h0M197 226h0M236 216h0M225 223h0M186 224h0M220 213h0M200 252h0M261 235h0M211 252h0M209 219h0M251 215h0M254 224h0M228 252h0M211 249h0M270 231h0M179 251h0M183 253h0M221 217h0M234 243h0M201 254h0M210 251h0M211 230h0M194 236h0M199 214h0M240 242h0M196 228h0M269 227h0M227 253h0M225 247h0M207 214h0M263 236h0M258 233h0M184 242h0M240 245h0M230 240h0M238 230h0M172 248h0M218 237h0M208 254h0M246 229h0M212 241h0M193 229h0M181 252h0M172 245h0M212 238h0M204 224h0M238 216h0M229 213h0M209 227h0M229 226h0M261 225h0M185 218h0M244 245h0M250 240h0M222 239h0M206 255h0M255 231h0M254 220h0M245 228h0M228 240h0M230 235h0M196 247h0M265 226h0M196 241h0M263 231h0M194 237h0M234 232h0M263 231h0M191 218h0M210 239h0M163 238h0M194 226h0M180 241h0M208 213h0M224 213h0M240 235h0M232 215h0M231 228h0M247 219h0M223 237h0M252 239h0M263 241h0M174 224h0M207 244h0M196 233h0M237 240h0M182 246h0M212 223h0M195 253h0M201 258h0M212 232h0M196 241h0M188 232h0M262 235h0M229 254h0M180 247h0M251 240h0M168 247h0M225 222h0M242 241h0M257 231h0M164 241h0M252 247h0M233 248h0M225 215h0M165 240h0M165 242h0M243 227h0M190 246h0M222 234h0M175 244h0M224 256h0M219 235h0M250 217h0M200 213h0M209 230h0M243 238h0M221 213h0M215 234h0M236 231h0M239 227h0M217 235h0M232 226h0M237 241h0M183 234h0M228 250h0M200 236h0M246 246h0M217 233h0M210 241h0M211 223h0M230 235h0M233 227h0M193 219h0M271 245h0M237 243h0M254 240h0M193 225h0M208 223h0M179 246h0M224 241h0M201 230h0M179 228h0M259 240h0M251 246h0M178 221h0M180 248h0M228 236h0M268 237h0M265 230h0M218 237h0M248 231h0M231 213h0M249 233h0M191 240h0M198 243h0M261 226h0M225 234h0M237 224h0M256 226h0M196 238h0M237 229h0M209 253h0M199 224h0M235 252h0M247 229h0M185 239h0M222 223h0M260 227h0M242 222h0M252 240h0M194 236h0M262 243h0M187 239h0M203 219h0M188 234h0M232 245h0M218 243h0M176 246h0M267 226h0M240 233h0M244 229h0M221 232h0M238 245h0M223 244h0M197 228h0M239 240h0M180 247h0M223 219h0M219 232h0M211 214h0M168 231h0M240 213h0M227 254h0M189 244h0M220 222h0M216 252h0M234 248h0M208 245h0M205 245h0M208 250h0M231 237h0M261 220h0M232 244h0M228 236h0M249 239h0M237 230h0M222 245h0M228 234h0M203 233h0M249 240h0M213 228h0M188 254h0M189 241h0M236 226h0M273 228h0M241 241h0M217 235h0M172 239h0M232 248h0M254 231h0M250 246h0M239 253h0M234 249h0M253 229h0M176 235h0M210 250h0M202 230h0M204 257h0M255 237h0M250 241h0M200 236h0M248 245h0M227 219h0M213 235h0M236 237h0M199 218h0M180 247h0M222 221h0M184 233h0M208 244h0M225 231h0M207 255h0M278 235h0M195 191h0M161 237h0M187 265h0M213 258h0M277 254h0M143 239h0M137 206h0M261 210h0M187 201h0M237 256h0M195 268h0"/>
</g></g>
<rect x="27.3" y="19.5" width="178.1" height="114.3" fill="none" stroke="#6a6a6a" stroke-width="0.8"/>
<path d="M27.3 26h-1.4" stroke="#555" stroke-width="0.6"/>
<text class="t" x="23" y="28.1" font-size="5.7" letter-spacing="-.25" text-anchor="end">60</text>
<path d="M27.3 41.4h-1.4" stroke="#555" stroke-width="0.6"/>
<text class="t" x="23" y="43.5" font-size="5.7" letter-spacing="-.25" text-anchor="end">40</text>
<path d="M27.3 56.8h-1.4" stroke="#555" stroke-width="0.6"/>
<text class="t" x="23" y="58.9" font-size="5.7" letter-spacing="-.25" text-anchor="end">20</text>
<path d="M27.3 72.2h-1.4" stroke="#555" stroke-width="0.6"/>
<text class="t" x="23" y="74.3" font-size="5.7" letter-spacing="-.25" text-anchor="end">0</text>
<path d="M27.3 87.6h-1.4" stroke="#555" stroke-width="0.6"/>
<text class="t" x="23" y="89.7" font-size="5.7" letter-spacing="-.25" text-anchor="end">−20</text>
<path d="M27.3 103h-1.4" stroke="#555" stroke-width="0.6"/>
<text class="t" x="23" y="105.1" font-size="5.7" letter-spacing="-.25" text-anchor="end">−40</text>
<path d="M27.3 118.4h-1.4" stroke="#555" stroke-width="0.6"/>
<text class="t" x="23" y="120.5" font-size="5.7" letter-spacing="-.25" text-anchor="end">−60</text>
<path d="M27.3 133.8h-1.4" stroke="#555" stroke-width="0.6"/>
<text class="t" x="23" y="135.9" font-size="5.7" letter-spacing="-.25" text-anchor="end">−80</text>
<path d="M46.8 133.8v1.4" stroke="#555" stroke-width="0.6"/>
<text class="t" x="46.8" y="141.6" font-size="5.7" letter-spacing="-.25" text-anchor="middle">−40</text>
<path d="M79.6 133.8v1.4" stroke="#555" stroke-width="0.6"/>
<text class="t" x="79.6" y="141.6" font-size="5.7" letter-spacing="-.25" text-anchor="middle">−20</text>
<path d="M112.4 133.8v1.4" stroke="#555" stroke-width="0.6"/>
<text class="t" x="112.4" y="141.6" font-size="5.7" letter-spacing="-.25" text-anchor="middle">0</text>
<path d="M145.2 133.8v1.4" stroke="#555" stroke-width="0.6"/>
<text class="t" x="145.2" y="141.6" font-size="5.7" letter-spacing="-.25" text-anchor="middle">20</text>
<path d="M178 133.8v1.4" stroke="#555" stroke-width="0.6"/>
<text class="t" x="178" y="141.6" font-size="5.7" letter-spacing="-.25" text-anchor="middle">40</text>
<text class="t" x="116.35" y="149.7" font-size="6" text-anchor="middle" font-style="italic">x</text>
<text class="t" font-size="6" text-anchor="middle" font-style="italic" transform="translate(6.7 76.65) rotate(-90)">y</text>
<rect x="208.9" y="143.25" width="5" height="15.35" fill="#00007f"/>
<path d="M213.9 150.82h1.2" stroke="#555" stroke-width="0.5"/>
<text class="t" x="217.1" y="152.77" font-size="5.4">0</text>
<rect x="208.9" y="128.1" width="5" height="15.35" fill="#0000ff"/>
<path d="M213.9 135.67h1.2" stroke="#555" stroke-width="0.5"/>
<text class="t" x="217.1" y="137.62" font-size="5.4">1</text>
<rect x="208.9" y="112.95" width="5" height="15.35" fill="#0063ff"/>
<path d="M213.9 120.53h1.2" stroke="#555" stroke-width="0.5"/>
<text class="t" x="217.1" y="122.48" font-size="5.4">2</text>
<rect x="208.9" y="97.8" width="5" height="15.35" fill="#00d4ff"/>
<path d="M213.9 105.38h1.2" stroke="#555" stroke-width="0.5"/>
<text class="t" x="217.1" y="107.33" font-size="5.4">3</text>
<rect x="208.9" y="82.65" width="5" height="15.35" fill="#4dffa9"/>
<path d="M213.9 90.23h1.2" stroke="#555" stroke-width="0.5"/>
<text class="t" x="217.1" y="92.18" font-size="5.4">4</text>
<rect x="208.9" y="67.5" width="5" height="15.35" fill="#a9ff4d"/>
<path d="M213.9 75.08h1.2" stroke="#555" stroke-width="0.5"/>
<text class="t" x="217.1" y="77.03" font-size="5.4">5</text>
<rect x="208.9" y="52.35" width="5" height="15.35" fill="#ffe500"/>
<path d="M213.9 59.93h1.2" stroke="#555" stroke-width="0.5"/>
<text class="t" x="217.1" y="61.88" font-size="5.4">6</text>
<rect x="208.9" y="37.2" width="5" height="15.35" fill="#ff7c00"/>
<path d="M213.9 44.78h1.2" stroke="#555" stroke-width="0.5"/>
<text class="t" x="217.1" y="46.73" font-size="5.4">7</text>
<rect x="208.9" y="22.05" width="5" height="15.35" fill="#ff1300"/>
<path d="M213.9 29.62h1.2" stroke="#555" stroke-width="0.5"/>
<text class="t" x="217.1" y="31.57" font-size="5.4">8</text>
<rect x="208.9" y="6.9" width="5" height="15.35" fill="#7f0000"/>
<path d="M213.9 14.48h1.2" stroke="#555" stroke-width="0.5"/>
<text class="t" x="217.1" y="16.43" font-size="5.4">9</text>
<rect x="221.7" y="2.7" width="158.5" height="157.9" fill="#000"/>
<text class="d" text-anchor="middle" transform="translate(229.62 17.3) skewX(-15) scale(0.95 1.06)">0</text>
<text class="d" text-anchor="middle" transform="translate(245.47 11.6) rotate(-80) scale(1 0.95) translate(0 4.1)">0</text>
<text class="d" style="stroke:#fff;stroke-width:.35px" text-anchor="middle" transform="translate(261.32 17.3) skewX(0) scale(0.9 1.06)">0</text>
<text class="d" text-anchor="middle" transform="translate(277.18 17.3) skewX(-20) scale(0.95 1.06)">0</text>
<text class="d" text-anchor="middle" transform="translate(293.02 17.3) skewX(-15) scale(0.95 1.06)">0</text>
<text class="d" text-anchor="middle" transform="translate(308.88 17.3) skewX(-10) scale(0.95 1.06)">0</text>
<text class="d" text-anchor="middle" transform="translate(324.72 17.3) skewX(-5) scale(0.95 1.06)">0</text>
<text class="d" text-anchor="middle" transform="translate(340.57 17.3) skewX(-5) scale(0.95 1.06)">0</text>
<text class="d" text-anchor="middle" transform="translate(356.42 17.3) skewX(-15) scale(0.95 1.06)">0</text>
<text class="d" text-anchor="middle" transform="translate(372.27 17.3) skewX(-5) scale(0.95 1.06)">0</text>
<text class="d" text-anchor="middle" transform="translate(229.62 34.19) skewX(10) scale(0.85 1.28)">1</text>
<text class="d" text-anchor="middle" transform="translate(245.47 34.19) skewX(-35) scale(0.85 1.28)">1</text>
<text class="d" text-anchor="middle" transform="translate(261.32 34.19) skewX(-15) scale(0.85 1.28)">1</text>
<text class="d" text-anchor="middle" transform="translate(277.18 34.19) skewX(5) scale(0.85 1.28)">1</text>
<text class="d" text-anchor="middle" transform="translate(293.02 34.19) skewX(-10) scale(0.85 1.28)">1</text>
<text class="d" text-anchor="middle" transform="translate(308.88 34.19) skewX(-15) scale(0.85 1.28)">1</text>
<text class="d" text-anchor="middle" transform="translate(324.72 34.19) skewX(-15) scale(0.85 1.28)">1</text>
<text class="d" text-anchor="middle" transform="translate(340.57 34.19) skewX(-15) scale(0.85 1.28)">1</text>
<text class="d" text-anchor="middle" transform="translate(356.42 34.19) skewX(-15) scale(0.85 1.28)">1</text>
<text class="d" text-anchor="middle" transform="translate(372.27 34.19) skewX(-10) scale(0.85 1.28)">1</text>
<rect x="222.7" y="31.99" width="156.5" height="2.8" fill="#000"/>
<text class="d" text-anchor="middle" transform="translate(229.62 48.88) skewX(-5) scale(1 1.06)">2</text>
<text class="d" text-anchor="middle" transform="translate(245.47 48.88) skewX(0) scale(1 1.06)">2</text>
<text class="d" text-anchor="middle" transform="translate(261.32 48.88) skewX(0) scale(1 1.06)">2</text>
<text class="d" text-anchor="middle" transform="translate(277.18 48.88) skewX(-10) scale(1 1.06)">2</text>
<text class="d" text-anchor="middle" transform="translate(293.02 48.88) skewX(-10) scale(1 1.06)">2</text>
<text class="d" text-anchor="middle" transform="translate(308.88 48.88) skewX(-15) scale(1 1.06)">2</text>
<text class="d" text-anchor="middle" transform="translate(324.72 48.88) skewX(-5) scale(1 1.06)">2</text>
<text class="d" text-anchor="middle" transform="translate(340.57 48.88) skewX(-10) scale(1 1.06)">2</text>
<text class="d" text-anchor="middle" transform="translate(356.42 48.88) skewX(-10) scale(1 1.06)">2</text>
<text class="d" text-anchor="middle" transform="translate(372.27 48.88) skewX(-5) scale(1 1.06)">2</text>
<text class="d" text-anchor="middle" transform="translate(229.62 64.67) skewX(-5) scale(0.95 1.06)">3</text>
<text class="d" text-anchor="middle" transform="translate(245.47 64.67) skewX(0) scale(0.95 1.06)">3</text>
<text class="d" text-anchor="middle" transform="translate(261.32 64.67) skewX(0) scale(0.95 1.06)">3</text>
<text class="d" text-anchor="middle" transform="translate(277.18 64.67) skewX(0) scale(0.95 1.06)">3</text>
<text class="d" style="stroke:#fff;stroke-width:.35px" text-anchor="middle" transform="translate(293.02 64.67) skewX(0) scale(0.9 1.06)">3</text>
<text class="d" text-anchor="middle" transform="translate(308.88 64.67) skewX(0) scale(0.95 1.06)">3</text>
<text class="d" text-anchor="middle" transform="translate(324.72 64.67) skewX(0) scale(0.95 1.06)">3</text>
<text class="d" text-anchor="middle" transform="translate(340.57 64.67) skewX(-10) scale(0.95 1.06)">3</text>
<text class="d" text-anchor="middle" transform="translate(356.42 64.67) skewX(0) scale(0.95 1.06)">3</text>
<text class="d" text-anchor="middle" transform="translate(372.27 64.67) skewX(0) scale(0.95 1.06)">3</text>
<text class="d" text-anchor="middle" transform="translate(229.62 80.46) skewX(-5) scale(1 1.06)">4</text>
<text class="d" text-anchor="middle" transform="translate(245.47 80.46) skewX(-10) scale(1 1.06)">4</text>
<text class="d" text-anchor="middle" transform="translate(261.32 80.46) skewX(-10) scale(1 1.06)">4</text>
<text class="d" text-anchor="middle" transform="translate(277.18 80.46) skewX(-25) scale(1 1.06)">4</text>
<text class="d" text-anchor="middle" transform="translate(293.02 80.46) skewX(-15) scale(1 1.06)">4</text>
<text class="d" style="stroke:#fff;stroke-width:.35px" text-anchor="middle" transform="translate(308.88 80.46) skewX(0) scale(0.9 1.06)">4</text>
<text class="d" text-anchor="middle" transform="translate(324.72 80.46) skewX(-5) scale(1 1.06)">4</text>
<text class="d" text-anchor="middle" transform="translate(340.57 80.46) skewX(-10) scale(1 1.06)">4</text>
<text class="d" text-anchor="middle" transform="translate(356.42 80.46) skewX(-20) scale(1 1.06)">4</text>
<text class="d" text-anchor="middle" transform="translate(372.27 80.46) skewX(-20) scale(1 1.06)">4</text>
<text class="d" style="stroke:#fff;stroke-width:.35px" text-anchor="middle" transform="translate(229.62 96.25) skewX(0) scale(0.9 1.06)">5</text>
<text class="d" text-anchor="middle" transform="translate(245.47 96.25) skewX(0) scale(1.05 1.06)">5</text>
<text class="d" text-anchor="middle" transform="translate(261.32 96.25) skewX(-5) scale(1.05 1.06)">5</text>
<text class="d" text-anchor="middle" transform="translate(277.18 96.25) skewX(0) scale(1.05 1.06)">5</text>
<text class="d" text-anchor="middle" transform="translate(293.02 96.25) skewX(-5) scale(1.05 1.06)">5</text>
<text class="d" text-anchor="middle" transform="translate(308.88 96.25) skewX(-5) scale(1.05 1.06)">5</text>
<text class="d" text-anchor="middle" transform="translate(324.72 96.25) skewX(0) scale(1.05 1.06)">5</text>
<text class="d" text-anchor="middle" transform="translate(340.57 96.25) skewX(-20) scale(1.05 1.06)">5</text>
<text class="d" text-anchor="middle" transform="translate(356.42 96.25) skewX(-5) scale(1.05 1.06)">5</text>
<text class="d" text-anchor="middle" transform="translate(372.27 96.25) skewX(0) scale(1.05 1.06)">5</text>
<text class="d" text-anchor="middle" transform="translate(229.62 112.04) skewX(-15) scale(0.9 1.06)">6</text>
<text class="d" text-anchor="middle" transform="translate(245.47 112.04) skewX(-15) scale(0.9 1.06)">6</text>
<text class="d" text-anchor="middle" transform="translate(261.32 112.04) skewX(-10) scale(0.9 1.06)">6</text>
<text class="d" text-anchor="middle" transform="translate(277.18 112.04) skewX(-10) scale(0.9 1.06)">6</text>
<text class="d" text-anchor="middle" transform="translate(293.02 112.04) skewX(-5) scale(0.9 1.06)">6</text>
<text class="d" text-anchor="middle" transform="translate(308.88 112.04) skewX(-5) scale(0.9 1.06)">6</text>
<text class="d" style="stroke:#fff;stroke-width:.35px" text-anchor="middle" transform="translate(324.72 112.04) skewX(0) scale(0.9 1.06)">6</text>
<text class="d" text-anchor="middle" transform="translate(340.57 112.04) skewX(-5) scale(0.9 1.06)">6</text>
<text class="d" text-anchor="middle" transform="translate(356.42 112.04) skewX(-5) scale(0.9 1.06)">6</text>
<text class="d" text-anchor="middle" transform="translate(372.27 112.04) skewX(-5) scale(0.9 1.06)">6</text>
<text class="d" text-anchor="middle" transform="translate(229.62 127.83) skewX(0) scale(1 1.06)">7</text>
<text class="d" text-anchor="middle" transform="translate(245.47 127.83) skewX(-5) scale(1 1.06)">7</text>
<text class="d" text-anchor="middle" transform="translate(261.32 127.83) skewX(0) scale(1 1.06)">7</text>
<text class="d" text-anchor="middle" transform="translate(277.18 127.83) skewX(-10) scale(1 1.06)">7</text>
<text class="d" text-anchor="middle" transform="translate(293.02 127.83) skewX(-15) scale(1 1.06)">7</text>
<text class="d" text-anchor="middle" transform="translate(308.88 127.83) skewX(-20) scale(1 1.06)">7</text>
<text class="d" text-anchor="middle" transform="translate(324.72 127.83) skewX(-10) scale(1 1.06)">7</text>
<text class="d" text-anchor="middle" transform="translate(340.57 127.83) skewX(-10) scale(1 1.06)">7</text>
<text class="d" text-anchor="middle" transform="translate(356.42 127.83) skewX(-10) scale(1 1.06)">7</text>
<text class="d" text-anchor="middle" transform="translate(372.27 127.83) skewX(0) scale(1 1.06)">7</text>
<text class="d" text-anchor="middle" transform="translate(229.62 143.61) skewX(-5) scale(0.86 1.06)">8</text>
<text class="d" text-anchor="middle" transform="translate(245.47 143.61) skewX(-10) scale(0.86 1.06)">8</text>
<text class="d" text-anchor="middle" transform="translate(261.32 143.61) skewX(-10) scale(0.86 1.06)">8</text>
<text class="d" text-anchor="middle" transform="translate(277.18 143.61) skewX(-10) scale(0.86 1.06)">8</text>
<text class="d" text-anchor="middle" transform="translate(293.02 143.61) skewX(-15) scale(0.86 1.06)">8</text>
<text class="d" text-anchor="middle" transform="translate(308.88 143.61) skewX(-5) scale(0.86 1.06)">8</text>
<text class="d" text-anchor="middle" transform="translate(324.72 143.61) skewX(-5) scale(0.86 1.06)">8</text>
<text class="d" text-anchor="middle" transform="translate(340.57 143.61) skewX(-10) scale(0.86 1.06)">8</text>
<text class="d" text-anchor="middle" transform="translate(356.42 143.61) skewX(-10) scale(0.86 1.06)">8</text>
<text class="d" text-anchor="middle" transform="translate(372.27 143.61) skewX(-15) scale(0.86 1.06)">8</text>
<text class="d" text-anchor="middle" transform="translate(229.62 159.4) skewX(-5) scale(0.86 1.06)">9</text>
<text class="d" text-anchor="middle" transform="translate(245.47 159.4) skewX(0) scale(0.86 1.06)">9</text>
<text class="d" text-anchor="middle" transform="translate(261.32 159.4) skewX(-10) scale(0.86 1.06)">9</text>
<text class="d" text-anchor="middle" transform="translate(277.18 159.4) skewX(-10) scale(0.86 1.06)">9</text>
<text class="d" style="stroke:#fff;stroke-width:.35px" text-anchor="middle" transform="translate(293.02 159.4) skewX(0) scale(0.9 1.06)">9</text>
<text class="d" text-anchor="middle" transform="translate(308.88 159.4) skewX(-5) scale(0.86 1.06)">9</text>
<text class="d" text-anchor="middle" transform="translate(324.72 159.4) skewX(-5) scale(0.86 1.06)">9</text>
<text class="d" text-anchor="middle" transform="translate(340.57 159.4) skewX(-10) scale(0.86 1.06)">9</text>
<text class="d" text-anchor="middle" transform="translate(356.42 159.4) skewX(-10) scale(0.86 1.06)">9</text>
<text class="d" text-anchor="middle" transform="translate(372.27 159.4) skewX(-5) scale(0.86 1.06)">9</text>
<text class="c" x="106.7" y="179.3" font-size="13.5" textLength="166.1" lengthAdjust="spacingAndGlyphs">(<tspan font-weight="bold">a</tspan>) Conventional auto-encoder</text>
<text class="t" x="111.5" y="210.05" font-size="6.3" text-anchor="middle">latent embedding - tSNE</text>
<clipPath id="cp1"><rect x="24.7" y="213.75" width="173.6" height="113.05"/></clipPath>
<g stroke-linecap="round" fill="none" clip-path="url(#cp1)"><g transform="scale(.5)" stroke-width="3.2">
<path stroke="#c8f040" d="M286 478h0M301 470h0M296 474h0M268 488h0M262 486h0M281 456h0M275 479h0M297 473h0M280 474h0M269 458h0M268 446h0M290 477h0M292 464h0M294 441h0M297 455h0M252 476h0M245 468h0M293 456h0M282 448h0M245 464h0M291 458h0M260 444h0M294 479h0M289 471h0M267 465h0M277 465h0M272 473h0M272 444h0M285 446h0M261 481h0M281 457h0M283 470h0M287 482h0M261 462h0M284 442h0M247 464h0M285 451h0M270 446h0M251 470h0M288 443h0M285 473h0M256 451h0M287 471h0M248 459h0M253 453h0M275 467h0M249 464h0M278 439h0M269 442h0M304 469h0M273 474h0M291 477h0M268 475h0M280 470h0M253 477h0M247 459h0M296 462h0M266 476h0M301 452h0M275 463h0M274 449h0M283 457h0M255 477h0M279 485h0M261 445h0M283 437h0M278 451h0M269 488h0M268 473h0M266 443h0M286 485h0M294 445h0M265 465h0M251 457h0M257 463h0M271 488h0M270 464h0M269 466h0M286 463h0M272 454h0M282 457h0M264 452h0M275 448h0M284 450h0M273 465h0M259 454h0M281 469h0M296 459h0M262 446h0M249 467h0M296 447h0M277 463h0M277 458h0M277 480h0M253 481h0M264 477h0M280 481h0M274 477h0M293 480h0M286 468h0M279 439h0M293 479h0M279 464h0M293 470h0M282 466h0M295 467h0M286 480h0M273 473h0M270 472h0M273 481h0M274 462h0M292 459h0M272 443h0M280 460h0M302 470h0M243 468h0M306 455h0M298 479h0M290 475h0M290 470h0M279 452h0M268 454h0M302 454h0M289 457h0M293 456h0M283 467h0M282 490h0M252 452h0M292 448h0M273 463h0M280 453h0M279 447h0M246 464h0M279 463h0M293 478h0M282 487h0M245 467h0M298 460h0M291 466h0M290 468h0M282 437h0M266 442h0M290 485h0M258 466h0M277 490h0M274 483h0M272 459h0M269 477h0M269 459h0M287 462h0M283 485h0M286 439h0M255 456h0M304 454h0M292 472h0M278 462h0M276 488h0M286 469h0M275 468h0M278 446h0M248 456h0M266 484h0M287 447h0M266 456h0M269 465h0M271 472h0M274 435h0M285 446h0M266 461h0M280 451h0M248 474h0M269 470h0M247 459h0M263 475h0M294 469h0M276 475h0M271 461h0M276 453h0M264 487h0M305 468h0M267 471h0M280 478h0M275 464h0M282 457h0M264 462h0M285 444h0M268 455h0M252 461h0M254 471h0M253 472h0M281 470h0M271 475h0M268 461h0M270 471h0M290 444h0M259 457h0M282 475h0M281 486h0M268 456h0M282 448h0M280 448h0M257 451h0M286 471h0M248 472h0M282 491h0M279 460h0M280 469h0M290 476h0M273 465h0M274 455h0M263 480h0M304 453h0M280 467h0M288 449h0M253 451h0M261 457h0M283 451h0M281 445h0M267 480h0M293 451h0M261 470h0M286 479h0M297 465h0M264 475h0M254 446h0M291 463h0M272 448h0M249 461h0M260 468h0M279 441h0M251 450h0M285 481h0M264 442h0M282 457h0M266 473h0M288 450h0M309 463h0M276 470h0M259 475h0M288 468h0M285 450h0M294 480h0M278 439h0M270 471h0M277 453h0M266 481h0M287 483h0M291 475h0M268 444h0M253 462h0M289 450h0M284 451h0M288 485h0M284 439h0M258 449h0M270 473h0M294 444h0M289 441h0M302 451h0M301 476h0M285 455h0M298 471h0M284 457h0M303 468h0M270 489h0M266 464h0M288 483h0M299 449h0M273 440h0M251 460h0M291 485h0M271 445h0M250 477h0M269 478h0M268 455h0M299 459h0M262 452h0M269 479h0M261 462h0M295 462h0M299 462h0M263 467h0M279 479h0M243 467h0M271 477h0M251 476h0M253 455h0M264 448h0M276 463h0M291 467h0M272 470h0M300 457h0M296 468h0M288 481h0M278 479h0M251 462h0M279 443h0M271 476h0M262 449h0M282 482h0M292 454h0M280 488h0M267 441h0M281 455h0M283 452h0M266 470h0M284 451h0M270 484h0M299 469h0M250 468h0M261 476h0M266 439h0M267 485h0M281 457h0M279 461h0M282 442h0M276 484h0M274 458h0M302 456h0M281 450h0M311 465h0M285 486h0M277 444h0M299 452h0M279 459h0M282 445h0M277 485h0M280 486h0M281 478h0M273 463h0M293 474h0M273 487h0M292 455h0M264 471h0M303 473h0M300 474h0M301 447h0M250 460h0M272 438h0M276 463h0M276 461h0M302 465h0M275 459h0M273 485h0M265 459h0M279 475h0M254 469h0M279 458h0M268 454h0M253 458h0M277 470h0M294 486h0M281 464h0M260 484h0M266 453h0M275 475h0M272 457h0M292 445h0M267 446h0M296 485h0M250 449h0M270 440h0M263 463h0M278 443h0M262 450h0M272 459h0M256 479h0M295 461h0M266 442h0M280 478h0M262 445h0M261 485h0M276 477h0M297 478h0M262 449h0M269 461h0M284 462h0M277 448h0M249 472h0M277 477h0M259 444h0M276 447h0M271 475h0M291 474h0M264 482h0M279 476h0M247 470h0M260 453h0M272 454h0M277 463h0M293 454h0M286 485h0M257 454h0M286 459h0M266 452h0M274 470h0M275 443h0M272 479h0M281 457h0M250 461h0M256 473h0M263 477h0M270 457h0M255 478h0M288 467h0M276 466h0M284 479h0M267 446h0M300 457h0M262 457h0M276 466h0M286 448h0M269 460h0M276 474h0M274 479h0M276 438h0M277 454h0M276 439h0M288 442h0M259 477h0M286 451h0M285 440h0M262 483h0M263 466h0M285 472h0M249 458h0M273 466h0M265 463h0M296 465h0M250 453h0M293 444h0M297 486h0M307 461h0M254 472h0M269 464h0M265 487h0M289 503h0M233 466h0M243 449h0M234 485h0M233 463h0M326 431h0M247 448h0M294 487h0M259 498h0M320 442h0"/>
<path stroke="#2462e0" d="M214 508h0M215 496h0M210 471h0M235 481h0M223 509h0M217 500h0M212 481h0M226 478h0M219 510h0M217 481h0M207 486h0M207 491h0M206 486h0M225 490h0M216 494h0M225 493h0M210 499h0M211 504h0M211 480h0M229 493h0M212 505h0M220 496h0M214 495h0M208 480h0M218 498h0M212 476h0M223 488h0M188 479h0M194 490h0M187 492h0M210 489h0M204 489h0M206 482h0M229 490h0M211 496h0M215 505h0M203 504h0M213 487h0M207 495h0M204 487h0M206 492h0M224 490h0M197 490h0M226 494h0M235 488h0M202 506h0M208 493h0M199 488h0M200 513h0M212 487h0M215 481h0M204 489h0M193 494h0M218 481h0M197 487h0M225 492h0M234 498h0M207 498h0M224 485h0M211 506h0M209 485h0M200 473h0M209 499h0M185 484h0M198 503h0M225 486h0M203 494h0M230 476h0M208 482h0M204 493h0M202 495h0M228 484h0M204 499h0M214 479h0M197 476h0M220 497h0M227 510h0M216 498h0M188 490h0M206 486h0M220 477h0M207 469h0M222 475h0M216 506h0M203 486h0M214 505h0M197 484h0M215 509h0M212 477h0M206 500h0M218 509h0M187 495h0M223 502h0M222 486h0M222 484h0M200 486h0M220 475h0M214 490h0M217 483h0M212 499h0M216 471h0M197 478h0M208 471h0M204 509h0M201 478h0M206 507h0M207 504h0M217 486h0M220 489h0M210 473h0M218 509h0M207 507h0M224 504h0M217 492h0M219 491h0M194 484h0M208 478h0M229 489h0M227 503h0M209 492h0M195 477h0M197 502h0M201 502h0M210 511h0M186 489h0M197 497h0M207 496h0M207 496h0M221 478h0M194 473h0M194 488h0M198 499h0M199 496h0M213 510h0M236 492h0M211 503h0M189 491h0M209 496h0M225 489h0M194 478h0M195 505h0M208 508h0M206 503h0M194 481h0M215 472h0M224 485h0M215 475h0M213 487h0M222 507h0M186 483h0M225 487h0M208 494h0M208 485h0M208 493h0M225 473h0M214 477h0M231 487h0M210 511h0M206 486h0M211 488h0M200 489h0M211 494h0M205 497h0M222 496h0M190 492h0M213 476h0M195 502h0M190 483h0M206 491h0M214 495h0M205 484h0M213 505h0M225 495h0M210 495h0M204 497h0M219 475h0M211 476h0M224 504h0M196 504h0M207 505h0M204 496h0M198 496h0M212 491h0M203 489h0M230 492h0M217 497h0M219 495h0M190 484h0M209 505h0M228 487h0M202 494h0M201 505h0M197 504h0M226 480h0M201 491h0M215 503h0M216 497h0M188 492h0M197 491h0M209 494h0M193 477h0M196 485h0M203 508h0M200 491h0M209 491h0M205 512h0M212 475h0M223 490h0M209 493h0M201 488h0M213 507h0M227 493h0M186 490h0M221 510h0M212 471h0M193 499h0M204 492h0M226 487h0M221 472h0M221 487h0M219 495h0M235 489h0M228 492h0M221 496h0M195 493h0M203 495h0M198 510h0M225 509h0M209 495h0M207 474h0M223 478h0M231 486h0M196 473h0M209 485h0M215 511h0M212 492h0M220 481h0M226 493h0M218 501h0M227 476h0M186 493h0M236 490h0M207 482h0M192 504h0M203 491h0M208 510h0M201 478h0M192 504h0M216 474h0M212 472h0M200 506h0M190 501h0M191 481h0M219 500h0M202 483h0M206 499h0M209 498h0M225 488h0M232 480h0M195 475h0M216 501h0M232 488h0M204 479h0M227 475h0M221 481h0M213 503h0M216 473h0M220 478h0M200 476h0M225 474h0M217 493h0M231 482h0M200 491h0M206 493h0M222 505h0M233 495h0M204 483h0M189 496h0M206 506h0M206 499h0M204 499h0M199 503h0M200 501h0M210 488h0M192 505h0M197 489h0M224 500h0M201 498h0M222 475h0M205 499h0M219 477h0M214 484h0M206 491h0M211 498h0M229 479h0M202 502h0M206 512h0M201 509h0M229 497h0M214 480h0M227 487h0M212 498h0M201 499h0M214 479h0M188 505h0M237 496h0M230 459h0M170 490h0M242 473h0M250 503h0M182 489h0"/>
<path stroke="#f07c28" d="M163 515h0M155 506h0M184 506h0M145 528h0M179 500h0M187 501h0M174 514h0M153 496h0M129 504h0M159 522h0M159 515h0M165 503h0M151 488h0M170 494h0M142 525h0M164 534h0M158 503h0M132 508h0M147 489h0M188 497h0M168 526h0M188 516h0M155 522h0M187 522h0M171 482h0M165 526h0M181 514h0M170 500h0M153 523h0M148 519h0M167 533h0M145 518h0M153 504h0M146 506h0M151 514h0M138 519h0M175 529h0M175 527h0M141 503h0M175 502h0M140 504h0M169 508h0M148 492h0M159 495h0M140 517h0M178 507h0M145 512h0M147 497h0M164 509h0M155 506h0M182 498h0M194 503h0M170 501h0M138 499h0M162 512h0M174 507h0M181 488h0M137 514h0M160 494h0M143 519h0M165 531h0M157 507h0M151 530h0M173 486h0M167 494h0M151 490h0M186 509h0M162 526h0M150 485h0M172 485h0M160 480h0M161 492h0M170 523h0M168 510h0M132 513h0M154 488h0M166 510h0M149 525h0M138 504h0M138 519h0M180 519h0M175 508h0M162 509h0M164 514h0M135 496h0M142 507h0M160 500h0M185 521h0M163 510h0M170 492h0M181 497h0M180 523h0M135 499h0M176 514h0M164 494h0M147 519h0M164 527h0M163 517h0M190 494h0M160 503h0M164 523h0M160 487h0M169 522h0M172 507h0M174 516h0M160 523h0M131 500h0M167 508h0M163 531h0M164 516h0M153 497h0M173 501h0M157 484h0M132 502h0M168 505h0M176 495h0M166 482h0M164 529h0M156 505h0M147 515h0M153 494h0M173 498h0M145 486h0M173 483h0M172 502h0M149 514h0M187 508h0M180 509h0M162 483h0M158 513h0M179 523h0M155 513h0M154 491h0M141 503h0M138 500h0M174 494h0M154 497h0M184 520h0M163 492h0M159 498h0M172 492h0M138 490h0M169 500h0M151 511h0M177 509h0M172 511h0M158 490h0M171 506h0M159 504h0M153 491h0M144 513h0M159 499h0M165 499h0M172 527h0M156 530h0M186 504h0M159 496h0M163 505h0M159 493h0M183 489h0M143 507h0M151 498h0M166 490h0M156 505h0M181 507h0M167 527h0M157 497h0M145 491h0M156 510h0M144 506h0M165 505h0M156 495h0M192 499h0M142 499h0M138 506h0M134 497h0M168 519h0M177 504h0M163 521h0M187 517h0M162 527h0M165 497h0M173 513h0M159 484h0M135 507h0M186 520h0M144 511h0M144 507h0M161 525h0M152 516h0M162 517h0M190 519h0M156 518h0M158 495h0M172 518h0M163 525h0M178 492h0M158 519h0M161 524h0M151 499h0M158 500h0M159 515h0M148 526h0M165 488h0M156 492h0M180 499h0M159 516h0M150 525h0M171 511h0M135 522h0M168 519h0M155 504h0M169 486h0M185 514h0M161 496h0M161 511h0M170 503h0M155 529h0M165 495h0M169 499h0M149 520h0M190 500h0M166 480h0M153 529h0M154 523h0M180 521h0M178 507h0M144 494h0M185 512h0M183 510h0M156 497h0M152 505h0M179 499h0M161 535h0M159 508h0M166 495h0M140 504h0M136 498h0M184 493h0M154 490h0M157 524h0M168 500h0M162 533h0M155 486h0M147 506h0M145 510h0M160 510h0M178 504h0M147 514h0M153 527h0M152 504h0M158 483h0M170 523h0M171 493h0M160 495h0M166 510h0M137 494h0M172 486h0M183 497h0M148 509h0M153 505h0M177 510h0M142 491h0M145 485h0M138 495h0M143 520h0M140 491h0M187 504h0M150 510h0M171 486h0M145 508h0M155 521h0M163 505h0M179 519h0M170 512h0M133 507h0M166 499h0M166 522h0M165 506h0M173 510h0M158 524h0M167 498h0M160 525h0M163 504h0M185 496h0M157 494h0M149 529h0M182 529h0M151 508h0M176 526h0M149 509h0M153 498h0M186 497h0M165 493h0M156 492h0M151 518h0M158 496h0M147 526h0M156 503h0M144 486h0M147 516h0M189 493h0M147 491h0M187 517h0M192 510h0M160 490h0M170 515h0M167 528h0M145 525h0M185 515h0M143 514h0M192 512h0M173 483h0M143 492h0M132 509h0M177 506h0M166 514h0M189 512h0M186 494h0M158 485h0M175 530h0M175 515h0M181 520h0M144 495h0M178 509h0M133 500h0M156 519h0M174 493h0M180 499h0M168 520h0M149 490h0M170 521h0M161 506h0M139 509h0M140 482h0M183 497h0M156 515h0M141 496h0M133 499h0M162 506h0M161 503h0M151 499h0M157 499h0M169 503h0M158 486h0M189 505h0M157 496h0M154 501h0M158 493h0M171 519h0M175 503h0M164 504h0M156 486h0M166 524h0M175 489h0M189 505h0M169 501h0M180 519h0M157 522h0M157 516h0M165 517h0M183 525h0M159 503h0M187 493h0M159 505h0M181 522h0M146 491h0M144 523h0M168 503h0M142 500h0M156 500h0M159 512h0M183 509h0M138 521h0M144 523h0M147 505h0M173 491h0M152 499h0M175 520h0M188 517h0M146 485h0M165 483h0M158 495h0M150 519h0M141 518h0M149 525h0M166 508h0M165 505h0M141 500h0M180 511h0M177 517h0M160 505h0M161 506h0M174 520h0M153 501h0M156 519h0M131 536h0M136 541h0M212 499h0M165 459h0M157 478h0M139 470h0M205 506h0M128 504h0M196 501h0"/>
<path stroke="#2cb0ea" d="M255 517h0M258 499h0M253 524h0M270 527h0M234 525h0M235 533h0M239 524h0M272 519h0M238 520h0M268 502h0M235 515h0M245 532h0M257 521h0M259 502h0M274 543h0M279 526h0M264 530h0M253 546h0M239 534h0M270 516h0M258 507h0M266 500h0M255 521h0M259 535h0M270 508h0M274 498h0M274 534h0M273 532h0M258 515h0M284 510h0M250 504h0M282 530h0M251 504h0M255 526h0M266 528h0M237 520h0M266 512h0M266 498h0M267 503h0M270 525h0M273 540h0M280 517h0M246 540h0M269 524h0M248 514h0M265 537h0M262 542h0M256 546h0M262 520h0M249 514h0M252 546h0M278 521h0M270 511h0M263 523h0M263 536h0M270 538h0M265 524h0M257 517h0M283 533h0M275 516h0M253 513h0M252 518h0M263 528h0M253 532h0M244 517h0M251 515h0M244 507h0M260 517h0M258 498h0M243 516h0M254 536h0M257 535h0M279 531h0M265 547h0M254 506h0M239 527h0M249 532h0M256 539h0M280 537h0M264 545h0M279 505h0M275 520h0M278 513h0M234 531h0M245 512h0M256 523h0M258 532h0M256 547h0M273 540h0M259 539h0M252 526h0M268 517h0M252 522h0M249 520h0M247 512h0M286 515h0M269 534h0M252 546h0M282 544h0M258 507h0M277 543h0M262 551h0M251 517h0M264 524h0M276 537h0M250 516h0M265 501h0M245 541h0M248 514h0M253 509h0M265 519h0M264 529h0M267 541h0M256 527h0M250 544h0M259 503h0M251 531h0M255 529h0M240 537h0M243 529h0M266 547h0M230 521h0M277 544h0M261 530h0M241 511h0M272 527h0M246 514h0M252 520h0M249 529h0M261 549h0M258 539h0M266 498h0M249 503h0M268 500h0M237 529h0M287 528h0M283 532h0M283 544h0M276 529h0M269 544h0M269 518h0M237 534h0M266 532h0M256 522h0M257 522h0M246 534h0M260 500h0M265 503h0M255 525h0M257 537h0M240 524h0M266 545h0M254 533h0M255 529h0M265 511h0M239 513h0M281 516h0M264 511h0M256 545h0M246 536h0M247 546h0M256 519h0M254 523h0M246 519h0M284 541h0M267 525h0M275 505h0M261 525h0M289 537h0M254 536h0M252 505h0M279 541h0M261 522h0M241 536h0M258 525h0M256 521h0M281 504h0M261 502h0M241 518h0M260 518h0M267 500h0M261 520h0M242 529h0M246 527h0M275 540h0M252 525h0M250 537h0M253 548h0M254 543h0M244 529h0M265 505h0M257 525h0M288 513h0M243 509h0M261 517h0M249 523h0M274 514h0M242 524h0M255 540h0M253 538h0M241 514h0M285 515h0M266 531h0M274 511h0M241 530h0M244 526h0M250 505h0M262 518h0M269 519h0M258 516h0M237 520h0M262 519h0M263 510h0M256 512h0M277 539h0M245 509h0M263 541h0M245 502h0M237 528h0M266 513h0M282 524h0M250 521h0M269 527h0M264 542h0M244 503h0M263 528h0M255 512h0M286 516h0M240 506h0M279 504h0M271 513h0M247 519h0M278 537h0M258 520h0M291 515h0M270 527h0M268 520h0M246 510h0M255 525h0M289 536h0M271 540h0M268 523h0M253 527h0M251 531h0M281 544h0M252 502h0M282 523h0M259 521h0M287 532h0M240 520h0M250 504h0M264 539h0M267 515h0M283 521h0M245 538h0M256 526h0M263 530h0M284 539h0M285 511h0M259 545h0M281 524h0M260 511h0M254 539h0M282 512h0M253 527h0M268 525h0M275 529h0M254 503h0M282 507h0M261 539h0M250 542h0M286 514h0M284 528h0M258 501h0M259 529h0M276 523h0M281 518h0M268 513h0M253 535h0M280 507h0M265 531h0M270 508h0M273 542h0M255 544h0M245 524h0M270 524h0M271 510h0M283 535h0M288 519h0M250 547h0M262 533h0M259 529h0M279 508h0M245 512h0M284 524h0M269 499h0M276 536h0M248 548h0M262 525h0M244 503h0M256 524h0M292 519h0M255 526h0M238 513h0M253 509h0M265 549h0M253 510h0M284 536h0M288 528h0M264 524h0M254 534h0M264 518h0M254 504h0M236 519h0M267 512h0M271 533h0M278 502h0M246 520h0M273 517h0M255 542h0M276 519h0M281 531h0M266 506h0M269 525h0M238 538h0M258 547h0M256 540h0M242 535h0M236 518h0M279 523h0M269 528h0M249 542h0M258 503h0M244 516h0M266 536h0M252 534h0M273 523h0M260 520h0M260 521h0M262 521h0M256 516h0M265 525h0M238 513h0M287 528h0M251 547h0M249 541h0M270 504h0M235 523h0M252 507h0M266 502h0M275 506h0M257 528h0M272 526h0M238 530h0M252 526h0M249 505h0M241 516h0M249 525h0M247 526h0M258 519h0M263 523h0M251 522h0M263 524h0M280 522h0M264 526h0M270 525h0M265 498h0M266 513h0M273 521h0M248 507h0M264 522h0M259 507h0M268 547h0M249 533h0M257 499h0M262 507h0M276 530h0M252 499h0M245 535h0M240 534h0M281 502h0M255 533h0M266 531h0M260 521h0M251 500h0M254 551h0M259 522h0M277 519h0M256 513h0M274 508h0M265 517h0M237 509h0M256 522h0M261 536h0M270 516h0M279 514h0M230 539h0M238 557h0M235 554h0M302 541h0M297 503h0M239 542h0M219 529h0M241 548h0M230 517h0"/>
<path stroke="#1c1c82" d="M334 517h0M327 545h0M367 528h0M367 545h0M354 511h0M339 521h0M368 547h0M323 519h0M366 531h0M352 525h0M310 536h0M330 525h0M353 536h0M350 519h0M373 530h0M370 552h0M332 551h0M370 522h0M335 519h0M334 514h0M350 536h0M347 539h0M331 553h0M360 525h0M344 540h0M336 557h0M351 528h0M318 528h0M330 541h0M337 528h0M337 521h0M368 524h0M356 538h0M338 555h0M342 538h0M343 523h0M328 549h0M338 548h0M318 526h0M343 525h0M315 520h0M358 539h0M322 531h0M359 526h0M345 550h0M343 541h0M344 548h0M347 530h0M317 542h0M334 541h0M346 532h0M362 548h0M366 531h0M347 532h0M386 528h0M354 518h0M354 525h0M334 513h0M372 522h0M334 513h0M334 527h0M363 545h0M348 532h0M357 531h0M351 521h0M330 518h0M353 534h0M373 526h0M352 515h0M358 539h0M336 541h0M334 545h0M355 513h0M357 526h0M317 543h0M361 533h0M338 526h0M363 542h0M383 526h0M322 541h0M338 535h0M344 520h0M367 535h0M370 525h0M318 525h0M371 535h0M359 525h0M331 549h0M311 529h0M333 539h0M372 526h0M364 543h0M372 529h0M341 529h0M332 530h0M357 528h0M314 525h0M358 528h0M325 514h0M357 540h0M355 539h0M345 537h0M342 531h0M375 521h0M373 533h0M355 507h0M353 512h0M312 543h0M337 520h0M354 551h0M346 550h0M331 535h0M345 523h0M360 543h0M366 538h0M362 536h0M364 544h0M341 526h0M352 535h0M319 545h0M328 528h0M371 544h0M328 538h0M322 532h0M358 549h0M348 546h0M349 546h0M365 547h0M360 553h0M370 536h0M354 546h0M373 542h0M323 534h0M341 520h0M337 552h0M360 515h0M314 525h0M345 530h0M371 549h0M359 545h0M363 529h0M316 519h0M321 549h0M352 543h0M366 515h0M372 537h0M347 551h0M317 523h0M327 540h0M361 547h0M318 549h0M352 536h0M367 531h0M369 517h0M326 526h0M337 519h0M360 526h0M349 516h0M349 532h0M318 540h0M341 536h0M337 531h0M339 533h0M341 536h0M346 532h0M336 517h0M341 531h0M350 531h0M326 534h0M358 538h0M331 510h0M362 525h0M340 531h0M351 510h0M348 520h0M348 533h0M342 534h0M368 521h0M366 530h0M377 518h0M372 527h0M355 545h0M343 535h0M352 519h0M325 533h0M339 533h0M363 532h0M366 521h0M338 546h0M360 525h0M347 557h0M344 530h0M342 515h0M365 550h0M347 520h0M344 534h0M378 528h0M336 508h0M375 536h0M368 532h0M340 535h0M362 544h0M374 539h0M333 534h0M326 523h0M341 525h0M329 543h0M331 539h0M353 548h0M327 526h0M343 529h0M347 513h0M341 528h0M323 550h0M315 526h0M342 509h0M378 523h0M336 528h0M342 523h0M362 549h0M354 519h0M372 548h0M344 536h0M336 513h0M328 531h0M353 547h0M354 532h0M368 515h0M322 528h0M341 513h0M334 525h0M330 527h0M335 509h0M316 533h0M336 551h0M334 541h0M350 540h0M337 533h0M339 533h0M346 539h0M362 509h0M365 549h0M360 527h0M361 545h0M346 535h0M346 513h0M346 533h0M341 527h0M355 533h0M357 538h0M337 547h0M330 529h0M355 514h0M373 543h0M357 549h0M337 531h0M326 527h0M362 521h0M349 523h0M334 528h0M317 532h0M355 549h0M355 544h0M343 550h0M351 531h0M344 522h0M371 517h0M346 536h0M374 536h0M378 523h0M368 531h0M330 533h0M352 512h0M334 546h0M339 556h0M327 536h0M344 517h0M365 523h0M365 516h0M331 509h0M332 544h0M365 518h0M362 524h0M378 533h0M372 540h0M367 535h0M322 523h0M357 532h0M366 513h0M363 520h0M343 538h0M345 514h0M329 543h0M322 530h0M348 535h0M319 538h0M376 521h0M362 529h0M354 514h0M369 550h0M343 544h0M337 522h0M314 543h0M333 548h0M334 532h0M384 535h0M335 527h0M354 538h0M370 533h0M359 532h0M334 551h0M347 535h0M375 526h0M338 552h0M333 544h0M349 529h0M324 536h0M332 541h0M325 535h0M358 510h0M373 539h0M330 512h0M343 530h0M343 529h0M353 514h0M381 532h0M338 542h0M360 518h0M375 529h0M351 539h0M383 532h0M356 553h0M349 517h0M332 537h0M379 527h0M376 524h0M356 548h0M356 542h0M357 514h0M315 531h0M373 549h0M347 524h0M340 512h0M343 551h0M366 537h0M326 526h0M334 515h0M335 518h0M349 506h0M338 540h0M349 528h0M357 516h0M357 513h0M351 516h0M363 538h0M364 526h0M366 550h0M366 540h0M333 551h0M328 543h0M330 514h0M359 537h0M352 538h0M344 533h0M342 530h0M342 543h0M355 544h0M328 518h0M317 520h0M350 530h0M369 542h0M353 529h0M326 533h0M330 540h0M367 536h0M339 513h0M379 529h0M356 522h0M312 530h0M342 549h0M324 521h0M345 547h0M321 516h0M363 555h0M331 554h0M354 527h0M320 539h0M367 549h0M349 544h0M359 534h0M363 545h0M331 521h0M342 529h0M327 545h0M322 531h0M342 535h0M340 534h0M321 542h0M346 534h0M353 555h0M316 543h0M359 547h0M311 531h0M375 544h0M346 539h0M348 520h0M359 547h0M346 532h0M357 543h0M371 546h0M333 518h0M337 523h0M354 531h0M320 537h0M318 533h0M352 543h0M333 524h0M347 528h0M346 523h0M341 526h0M331 522h0M324 532h0M328 520h0M350 543h0M322 540h0M317 544h0M336 541h0M379 537h0M356 534h0M327 521h0M344 530h0M337 525h0M383 535h0M347 519h0M328 537h0M346 523h0M325 528h0M359 516h0M349 514h0M370 544h0M345 509h0M337 526h0M345 528h0M350 517h0M344 541h0M377 522h0M343 514h0M341 515h0M370 526h0M276 533h0M345 558h0M412 515h0M392 549h0M382 510h0M327 554h0M334 504h0M331 557h0M309 552h0M334 565h0M377 519h0"/>
<path stroke="#1020e0" d="M185 548h0M167 550h0M211 565h0M208 559h0M214 543h0M172 568h0M193 541h0M181 548h0M203 559h0M188 549h0M181 559h0M206 560h0M189 549h0M217 560h0M196 553h0M200 547h0M175 553h0M190 527h0M209 557h0M173 536h0M169 531h0M191 559h0M192 556h0M209 535h0M182 551h0M210 537h0M171 530h0M189 548h0M187 544h0M192 544h0M185 539h0M184 567h0M204 558h0M200 573h0M193 528h0M192 525h0M197 546h0M215 551h0M171 561h0M176 566h0M181 556h0M189 554h0M184 571h0M191 569h0M201 560h0M177 537h0M188 549h0M190 549h0M205 538h0M195 551h0M169 547h0M162 551h0M207 544h0M177 565h0M172 559h0M190 542h0M193 561h0M214 551h0M187 524h0M176 539h0M178 541h0M174 524h0M176 560h0M193 545h0M187 540h0M174 556h0M183 542h0M215 553h0M171 564h0M197 524h0M185 576h0M192 545h0M164 537h0M187 543h0M195 560h0M177 546h0M198 558h0M211 550h0M207 550h0M206 538h0M199 536h0M162 554h0M197 557h0M206 565h0M183 562h0M206 537h0M212 559h0M201 550h0M213 544h0M205 538h0M186 539h0M201 544h0M187 560h0M162 553h0M196 544h0M190 543h0M214 533h0M211 540h0M166 550h0M183 553h0M192 546h0M199 552h0M183 567h0M176 555h0M166 540h0M200 558h0M177 562h0M186 569h0M200 571h0M175 567h0M182 550h0M168 564h0M180 543h0M188 570h0M201 553h0M217 559h0M217 545h0M186 535h0M179 530h0M187 561h0M197 550h0M189 551h0M207 540h0M165 554h0M195 553h0M177 564h0M205 528h0M175 557h0M209 560h0M171 532h0M193 557h0M193 535h0M195 527h0M189 526h0M168 546h0M168 550h0M182 537h0M187 551h0M186 564h0M195 549h0M204 551h0M206 525h0M197 553h0M192 559h0M177 562h0M192 549h0M194 534h0M184 565h0M184 532h0M192 543h0M178 526h0M216 545h0M215 540h0M178 525h0M195 547h0M167 538h0M171 552h0M164 557h0M171 554h0M188 549h0M180 554h0M196 534h0M178 540h0M208 533h0M182 544h0M189 552h0M186 572h0M163 546h0M209 550h0M197 524h0M211 561h0M187 539h0M198 545h0M175 565h0M197 549h0M202 561h0M202 556h0M176 547h0M207 571h0M179 529h0M191 551h0M182 553h0M190 549h0M206 536h0M203 537h0M194 541h0M213 532h0M181 559h0M198 558h0M178 542h0M181 569h0M171 533h0M181 566h0M207 542h0M192 564h0M196 570h0M170 538h0M165 533h0M183 540h0M217 558h0M197 537h0M195 540h0M205 543h0M218 545h0M169 538h0M182 566h0M199 548h0M197 573h0M167 563h0M184 546h0M177 555h0M195 573h0M170 563h0M181 564h0M171 558h0M201 562h0M208 556h0M190 549h0M206 547h0M205 535h0M202 548h0M179 569h0M196 567h0M218 545h0M174 542h0M193 532h0M214 551h0M180 540h0M201 525h0M183 530h0M212 556h0M213 555h0M201 532h0M176 548h0M172 534h0M215 561h0M193 532h0M197 561h0M190 526h0M213 547h0M173 528h0M182 560h0M218 543h0M170 535h0M201 545h0M178 557h0M175 538h0M192 551h0M181 559h0M207 549h0M211 536h0M170 536h0M168 533h0M183 529h0M180 566h0M187 556h0M178 539h0M174 551h0M213 557h0M195 527h0M174 565h0M195 572h0M212 550h0M184 569h0M213 546h0M179 535h0M211 541h0M161 560h0M187 568h0M205 535h0M199 534h0M177 569h0M172 546h0M213 562h0M172 544h0M195 524h0M180 552h0M195 545h0M210 556h0M198 559h0M204 550h0M213 552h0M188 547h0M215 555h0M196 526h0M174 536h0M176 537h0M184 549h0M188 559h0M206 551h0M165 553h0M181 558h0M169 554h0M179 571h0M212 542h0M175 547h0M182 537h0M209 559h0M173 563h0M183 523h0M217 556h0M199 541h0M194 548h0M192 522h0M201 525h0M188 571h0M213 544h0M184 541h0M199 557h0M178 554h0M196 537h0M170 544h0M200 566h0M193 520h0M168 554h0M211 558h0M206 556h0M217 540h0M206 570h0M183 524h0M193 538h0M194 545h0M203 560h0M185 526h0M187 550h0M172 538h0M181 525h0M216 535h0M200 563h0M179 550h0M206 533h0M208 528h0M213 558h0M164 560h0M189 546h0M200 552h0M184 529h0M198 534h0M162 551h0M176 567h0M216 548h0M205 555h0M206 536h0M180 522h0M168 544h0M181 562h0M174 536h0M188 534h0M209 560h0M192 545h0M192 536h0M214 557h0M199 548h0M205 556h0M169 531h0M211 559h0M192 550h0M188 539h0M203 559h0M174 546h0M187 532h0M179 565h0M173 561h0M188 526h0M185 570h0M182 565h0M195 559h0M204 558h0M185 569h0M171 549h0M214 542h0M207 556h0M214 547h0M209 569h0M189 554h0M188 565h0M207 536h0M218 540h0M201 553h0M202 563h0M199 572h0M165 546h0M200 540h0M182 546h0M193 536h0M195 537h0M200 545h0M186 522h0M199 559h0M167 561h0M190 576h0M164 539h0M192 547h0M211 560h0M173 553h0M202 543h0M183 544h0M188 523h0M182 567h0M196 545h0M168 558h0M201 558h0M171 562h0M200 538h0M178 549h0M196 537h0M176 537h0M191 548h0M180 536h0M189 546h0M202 555h0M192 556h0M192 523h0M218 546h0M177 553h0M190 547h0M200 542h0M183 547h0M210 537h0M190 554h0M172 532h0M185 553h0M216 561h0M198 551h0M173 534h0M185 573h0M197 564h0M164 547h0M184 523h0M168 534h0M174 570h0M163 543h0M165 548h0M190 573h0M183 530h0M196 563h0M182 540h0M196 571h0M180 529h0M185 577h0M192 545h0M204 568h0M207 544h0M198 561h0M193 527h0M215 538h0M210 558h0M179 561h0M176 555h0M182 560h0M192 529h0M209 535h0M194 573h0M176 533h0M202 549h0M181 539h0M202 545h0M192 548h0M178 555h0M216 544h0M165 558h0M203 556h0M174 557h0M188 547h0M202 540h0M176 542h0M186 575h0M199 546h0M205 536h0M177 541h0M204 539h0M201 551h0M180 547h0M173 566h0M174 541h0M177 560h0M213 532h0M187 521h0M199 560h0M191 561h0M173 556h0M175 566h0M199 552h0M211 556h0M192 526h0M213 542h0M205 544h0M204 566h0M207 537h0M203 546h0M171 558h0M175 528h0M180 572h0M198 556h0M193 555h0M189 560h0M176 546h0M194 523h0M170 543h0M204 548h0M173 550h0M198 544h0M204 558h0M172 543h0M196 541h0M205 533h0M180 565h0M200 563h0M207 528h0M201 572h0M176 571h0M189 546h0M205 534h0M182 529h0M168 536h0M197 537h0M202 568h0M188 524h0M167 542h0M190 565h0M182 524h0M191 538h0M184 553h0M218 546h0M198 529h0M178 558h0M182 564h0M181 561h0M192 551h0M184 529h0M176 568h0M187 525h0M201 560h0M182 544h0M195 529h0M189 552h0M190 546h0M210 529h0M202 571h0M190 570h0M217 538h0M201 542h0M169 541h0M193 546h0M173 562h0M179 574h0M192 551h0M208 561h0M170 533h0M171 530h0M195 544h0M201 526h0M175 532h0M209 566h0M196 526h0M195 569h0M161 548h0M188 556h0M203 527h0M186 554h0M215 544h0M198 529h0M178 573h0M200 537h0M177 574h0M186 531h0M186 556h0M207 539h0M164 551h0M203 547h0M188 548h0M169 553h0M188 549h0M187 564h0M190 535h0M204 537h0M193 545h0M205 562h0M189 528h0M167 552h0M188 558h0M181 535h0M183 539h0M179 532h0M199 534h0M211 556h0M180 538h0M170 533h0M219 545h0M182 539h0M212 547h0M173 532h0M185 554h0M183 540h0M172 565h0M180 537h0M185 555h0M200 526h0M174 533h0M171 527h0M177 552h0M169 551h0M202 539h0M176 526h0M191 547h0M173 551h0M205 541h0M203 548h0M198 560h0M184 565h0M201 552h0M175 530h0M208 535h0M190 571h0M180 570h0M175 550h0M210 565h0M181 550h0M206 550h0M195 550h0M190 546h0M202 557h0M201 564h0M212 560h0M177 547h0M204 555h0M187 531h0M189 559h0M189 536h0M175 555h0M184 565h0M192 525h0M185 571h0M201 564h0M131 576h0M164 534h0M170 527h0M237 565h0M248 558h0M149 562h0M181 576h0M197 512h0M155 539h0M179 577h0M202 576h0M208 496h0M168 525h0M221 601h0M197 582h0"/>
<path stroke="#f07c28" d="M229 524h0M209 530h0M213 529h0M212 535h0M222 516h0M223 542h0M224 523h0M197 528h0M205 523h0M213 516h0M210 538h0M204 517h0M219 531h0M217 529h0M205 532h0M225 541h0M205 524h0M205 538h0M207 513h0M205 523h0M200 541h0M208 538h0M204 530h0M206 521h0M225 536h0M219 546h0M222 539h0M216 532h0M201 521h0M227 527h0M225 532h0M196 534h0M198 520h0M200 541h0M211 547h0M208 521h0M201 541h0M224 534h0M218 524h0M225 540h0M200 535h0M204 541h0M206 518h0M217 537h0M205 537h0M211 544h0M195 521h0M222 531h0M197 532h0M208 518h0M214 535h0M221 536h0M205 533h0M196 538h0M196 532h0M205 532h0M208 528h0M196 529h0M208 518h0M211 530h0M205 519h0M210 533h0M224 515h0M216 516h0M206 536h0M230 526h0M204 517h0M208 532h0M206 534h0M216 530h0M219 520h0M205 515h0M209 537h0M217 537h0M225 523h0M217 538h0M219 530h0M223 530h0M207 541h0M211 536h0M212 523h0M209 539h0M205 540h0M229 530h0M216 522h0M196 527h0M207 515h0M222 544h0M205 537h0M217 547h0M205 526h0M214 531h0M238 504h0M181 522h0"/>
<path stroke="#2462e0" d="M221 535h0M224 533h0M222 526h0M221 544h0M209 543h0M209 530h0M221 530h0M219 547h0M225 528h0M228 540h0M216 534h0M227 534h0M219 534h0M222 526h0M210 533h0M216 548h0M220 550h0M222 547h0M227 548h0M211 528h0M228 526h0M221 533h0M230 532h0M228 535h0M223 533h0M220 531h0M223 522h0M223 522h0M221 535h0M209 540h0M222 544h0M229 534h0M223 532h0M212 529h0M221 536h0M228 540h0M213 527h0M210 544h0M224 533h0M223 523h0M227 533h0M219 539h0M226 530h0M215 546h0M212 529h0M217 538h0M216 534h0M221 532h0M218 530h0M222 528h0M222 545h0M223 530h0M239 536h0"/>
<path stroke="#5ae6d4" d="M117 544h0M105 554h0M128 549h0M87 558h0M109 568h0M110 540h0M110 537h0M125 556h0M99 549h0M104 566h0M123 554h0M125 572h0M106 574h0M91 566h0M133 573h0M119 553h0M123 557h0M104 570h0M100 546h0M138 560h0M124 564h0M93 579h0M105 563h0M107 561h0M93 554h0M114 577h0M98 562h0M133 565h0M134 570h0M128 541h0M103 560h0M130 555h0M89 553h0M110 558h0M87 571h0M125 554h0M109 568h0M129 544h0M126 573h0M98 569h0M131 573h0M119 549h0M107 564h0M130 554h0M82 562h0M121 547h0M94 576h0M129 558h0M119 563h0M105 576h0M100 542h0M97 567h0M80 566h0M116 581h0M114 567h0M117 544h0M100 557h0M110 537h0M108 560h0M79 551h0M104 560h0M79 558h0M110 558h0M89 569h0M92 558h0M111 583h0M133 546h0M125 547h0M116 556h0M99 553h0M88 558h0M106 554h0M132 562h0M131 558h0M132 562h0M116 563h0M103 551h0M125 565h0M131 566h0M107 537h0M127 556h0M87 569h0M136 556h0M106 580h0M143 552h0M113 550h0M105 567h0M118 549h0M123 575h0M109 579h0M104 580h0M134 568h0M86 570h0M106 559h0M91 552h0M113 573h0M106 550h0M104 552h0M106 546h0M93 555h0M111 554h0M121 556h0M100 552h0M114 555h0M135 565h0M102 568h0M108 568h0M114 566h0M113 538h0M105 570h0M99 562h0M133 559h0M114 546h0M110 561h0M100 536h0M132 556h0M94 568h0M80 569h0M131 550h0M107 561h0M109 581h0M81 551h0M109 572h0M130 564h0M89 555h0M122 575h0M85 546h0M112 554h0M120 577h0M111 567h0M112 542h0M108 536h0M100 550h0M103 558h0M122 547h0M127 552h0M120 577h0M124 573h0M103 545h0M134 545h0M100 539h0M129 559h0M120 574h0M111 568h0M94 567h0M93 562h0M108 547h0M88 565h0M96 545h0M102 550h0M104 551h0M100 577h0M94 546h0M118 560h0M92 546h0M91 541h0M117 556h0M104 563h0M102 561h0M108 546h0M118 539h0M91 548h0M118 565h0M90 549h0M130 554h0M123 542h0M99 558h0M95 568h0M115 548h0M132 556h0M129 569h0M94 548h0M108 579h0M94 566h0M132 562h0M116 553h0M85 571h0M110 576h0M111 557h0M126 570h0M97 551h0M82 562h0M136 552h0M84 570h0M85 545h0M104 579h0M81 558h0M128 546h0M95 569h0M142 560h0M91 571h0M110 545h0M101 567h0M119 568h0M105 574h0M88 573h0M121 543h0M85 558h0M122 566h0M102 562h0M139 550h0M96 556h0M117 568h0M127 566h0M117 560h0M140 561h0M119 541h0M105 560h0M111 566h0M124 574h0M118 556h0M94 563h0M97 573h0M118 557h0M86 550h0M98 569h0M120 576h0M127 578h0M102 547h0M124 543h0M105 550h0M94 555h0M107 557h0M90 551h0M120 553h0M126 552h0M105 559h0M102 558h0M117 555h0M135 566h0M129 552h0M114 539h0M124 572h0M114 556h0M84 556h0M135 565h0M85 574h0M98 546h0M111 569h0M128 573h0M107 575h0M84 568h0M106 543h0M136 564h0M108 555h0M95 575h0M97 546h0M105 559h0M105 547h0M85 561h0M85 566h0M118 556h0M93 564h0M126 563h0M102 546h0M106 575h0M129 543h0M125 566h0M99 545h0M122 553h0M114 563h0M120 574h0M120 568h0M90 546h0M123 561h0M81 570h0M103 543h0M135 551h0M92 577h0M104 542h0M87 569h0M85 548h0M110 539h0M107 549h0M136 550h0M94 553h0M96 553h0M128 542h0M110 564h0M97 542h0M91 572h0M131 562h0M120 556h0M107 551h0M93 550h0M103 573h0M131 568h0M129 571h0M136 547h0M108 558h0M119 577h0M112 540h0M105 548h0M110 554h0M94 568h0M91 561h0M101 561h0M104 559h0M89 563h0M116 580h0M104 557h0M112 545h0M130 546h0M113 566h0M111 539h0M96 560h0M98 545h0M97 560h0M96 547h0M89 563h0M84 544h0M136 556h0M109 542h0M108 562h0M98 555h0M109 560h0M103 581h0M116 564h0M117 541h0M97 548h0M119 561h0M83 570h0M111 553h0M118 544h0M117 557h0M136 561h0M96 564h0M129 568h0M127 559h0M86 568h0M116 570h0M87 551h0M102 559h0M98 563h0M120 566h0M98 554h0M108 562h0M98 539h0M93 571h0M131 543h0M105 543h0M111 557h0M83 547h0M109 565h0M127 559h0M85 559h0M103 548h0M133 555h0M105 539h0M119 552h0M118 561h0M132 549h0M109 566h0M132 562h0M95 545h0M104 550h0M107 571h0M135 555h0M111 557h0M108 573h0M88 574h0M90 571h0M125 538h0M101 562h0M117 548h0M119 564h0M110 559h0M112 576h0M90 556h0M89 556h0M124 577h0M129 566h0M101 557h0M107 557h0M109 538h0M108 557h0M108 574h0M90 574h0M128 559h0M108 548h0M101 545h0M131 561h0M125 554h0M141 563h0M116 567h0M110 547h0M90 562h0M129 565h0M117 542h0M95 549h0M103 557h0M93 578h0M105 576h0M134 561h0M84 568h0M103 579h0M82 592h0M67 562h0M159 540h0M56 556h0M138 538h0M146 563h0M102 534h0M163 560h0M105 592h0"/>
<path stroke="#98f098" d="M273 562h0M259 586h0M254 555h0M256 566h0M286 573h0M250 551h0M238 560h0M242 553h0M280 583h0M257 576h0M260 583h0M245 584h0M269 566h0M249 544h0M253 593h0M272 596h0M238 569h0M240 558h0M291 554h0M287 574h0M249 552h0M265 568h0M277 570h0M274 582h0M228 560h0M256 550h0M243 543h0M237 592h0M269 586h0M265 595h0M265 575h0M246 587h0M287 583h0M261 574h0M235 573h0M234 560h0M246 589h0M239 571h0M260 578h0M243 592h0M268 549h0M225 583h0M256 569h0M239 568h0M260 599h0M245 560h0M243 590h0M271 580h0M285 583h0M235 585h0M273 565h0M263 572h0M274 570h0M258 563h0M280 573h0M277 589h0M247 598h0M282 581h0M261 568h0M270 559h0M278 547h0M270 550h0M262 557h0M263 572h0M279 558h0M292 559h0M252 561h0M262 550h0M273 563h0M283 548h0M285 577h0M276 589h0M253 592h0M241 590h0M246 554h0M269 580h0M273 592h0M283 553h0M238 582h0M235 567h0M253 590h0M256 580h0M254 566h0M251 579h0M225 578h0M275 555h0M236 586h0M279 587h0M262 570h0M268 584h0M240 556h0M254 596h0M269 579h0M267 582h0M271 546h0M267 550h0M263 580h0M266 585h0M265 566h0M221 564h0M266 596h0M261 565h0M258 589h0M271 596h0M240 584h0M244 564h0M265 561h0M252 586h0M261 569h0M264 551h0M258 575h0M251 549h0M267 572h0M225 575h0M266 563h0M245 575h0M270 559h0M250 590h0M278 548h0M260 596h0M282 589h0M231 560h0M248 563h0M222 571h0M252 597h0M244 552h0M293 587h0M266 549h0M272 575h0M272 588h0M239 589h0M240 573h0M255 558h0M271 552h0M264 566h0M287 584h0M291 558h0M290 564h0M291 578h0M252 576h0M268 573h0M242 579h0M271 557h0M248 564h0M256 597h0M259 589h0M284 589h0M243 554h0M236 548h0M271 587h0M238 549h0M274 571h0M247 548h0M254 575h0M228 565h0M234 579h0M235 557h0M254 585h0M254 571h0M247 558h0M260 570h0M235 561h0M265 569h0M260 561h0M251 548h0M246 554h0M244 570h0M284 563h0M288 568h0M281 590h0M237 583h0M276 569h0M281 587h0M274 587h0M270 596h0M274 595h0M260 587h0M288 553h0M233 560h0M267 589h0M251 544h0M260 592h0M231 588h0M259 569h0M282 575h0M268 539h0M231 576h0M267 558h0M259 584h0M280 559h0M234 560h0M227 571h0M253 570h0M227 560h0M267 569h0M275 571h0M255 569h0M260 552h0M258 566h0M254 585h0M264 595h0M237 567h0M229 562h0M252 565h0M282 585h0M251 597h0M250 562h0M257 570h0M296 564h0M238 572h0M280 548h0M240 590h0M230 557h0M267 575h0M256 570h0M268 568h0M287 593h0M229 572h0M246 578h0M253 592h0M293 565h0M259 570h0M268 567h0M223 575h0M249 595h0M232 577h0M278 595h0M282 569h0M247 562h0M225 556h0M257 540h0M250 578h0M265 592h0M256 590h0M269 598h0M256 542h0M265 558h0M270 599h0M247 567h0M271 584h0M268 563h0M262 564h0M245 558h0M278 577h0M281 574h0M252 547h0M225 578h0M282 558h0M250 572h0M241 586h0M228 571h0M234 556h0M278 553h0M244 586h0M279 591h0M225 569h0M264 542h0M252 589h0M250 552h0M289 554h0M267 600h0M242 578h0M255 575h0M260 576h0M234 582h0M231 568h0M237 591h0M252 543h0M248 562h0M296 561h0M234 559h0M265 567h0M263 564h0M254 579h0M263 570h0M287 568h0M289 557h0M293 567h0M236 594h0M239 585h0M278 556h0M255 573h0M248 574h0M231 572h0M250 585h0M232 577h0M260 576h0M263 575h0M257 592h0M261 587h0M259 580h0M269 570h0M251 569h0M261 581h0M252 554h0M261 571h0M284 566h0M256 577h0M281 584h0M275 553h0M271 576h0M263 578h0M256 574h0M270 548h0M230 588h0M263 581h0M247 590h0M245 550h0M248 556h0M254 572h0M236 552h0M265 568h0M276 562h0M262 586h0M234 569h0M292 567h0M264 570h0M233 569h0M256 592h0M265 562h0M283 549h0M245 589h0M277 590h0M276 581h0M242 576h0M299 571h0M250 543h0M256 572h0M253 591h0M263 540h0M274 550h0M233 565h0M247 590h0M255 552h0M264 587h0M249 565h0M268 549h0M239 572h0M262 568h0M289 563h0M276 565h0M271 575h0M284 587h0M271 567h0M288 579h0M244 557h0M245 555h0M277 579h0M253 574h0M253 600h0M292 566h0M282 548h0M261 584h0M250 573h0M223 562h0M262 586h0M288 568h0M269 560h0M248 587h0M257 573h0M268 568h0M268 546h0M246 585h0M229 576h0M254 547h0M257 572h0M260 556h0M280 582h0M264 552h0M247 577h0M284 544h0M250 593h0M253 592h0M272 568h0M275 589h0M287 564h0M236 571h0M273 565h0M234 566h0M233 566h0M272 574h0M233 554h0M274 592h0M244 555h0M237 555h0M235 586h0M228 572h0M235 579h0M253 585h0M272 594h0M248 564h0M260 549h0M249 548h0M245 578h0M269 582h0M270 600h0M296 562h0M232 551h0M245 543h0M267 554h0M228 559h0M272 564h0M249 552h0M271 574h0M241 573h0M272 561h0M253 590h0M260 574h0M283 564h0M276 541h0M271 569h0M295 573h0M269 596h0M258 565h0M260 567h0M249 562h0M231 555h0M278 563h0M248 558h0M263 557h0M247 571h0M262 579h0M262 564h0M267 585h0M274 598h0M242 550h0M284 566h0M257 562h0M245 574h0M279 592h0M236 574h0M292 588h0M263 583h0M261 589h0M251 548h0M271 591h0M295 603h0M307 634h0M215 573h0M297 542h0M260 606h0M209 543h0M216 539h0M321 588h0M310 575h0M319 575h0"/>
<path stroke="#2462e0" d="M309 581h0M310 583h0M325 580h0M315 565h0M299 574h0M322 568h0M325 582h0M323 587h0M312 575h0M329 581h0M302 581h0M325 582h0M332 573h0M303 566h0M306 567h0M303 573h0M305 578h0M327 580h0M299 578h0M327 565h0M306 579h0M318 589h0M304 581h0M316 569h0M313 578h0M327 573h0M325 589h0M310 562h0M305 580h0M318 579h0M315 565h0M313 584h0M315 566h0M300 574h0M317 560h0M323 579h0M321 579h0M328 572h0M309 581h0M308 582h0M319 577h0M333 571h0M323 592h0M308 571h0M329 585h0M322 566h0M326 587h0M321 591h0M324 583h0M315 590h0M321 586h0M331 580h0M323 562h0M328 577h0M309 578h0M328 591h0M313 589h0M311 573h0M323 593h0M323 576h0M313 584h0M317 591h0M328 589h0M302 588h0M313 591h0M306 585h0M303 588h0M329 585h0M325 574h0M305 582h0M317 590h0M309 582h0M307 587h0M303 576h0M325 580h0M322 589h0M332 573h0M318 583h0M313 563h0M309 587h0M325 567h0M312 570h0M322 582h0M314 575h0M323 596h0M315 583h0M314 577h0M305 574h0M308 567h0M319 582h0M330 575h0M313 577h0M321 565h0M324 577h0M307 580h0M319 581h0M306 567h0M320 565h0M311 563h0M310 563h0M333 587h0M315 560h0M329 581h0M314 586h0M318 578h0M310 578h0M305 571h0M299 572h0M315 571h0M310 591h0M305 582h0M319 577h0M310 580h0M326 578h0M335 577h0M319 591h0M324 592h0M318 579h0M310 593h0M330 563h0M295 586h0"/>
<path stroke="#2cb0ea" d="M246 604h0M253 606h0M251 607h0M247 606h0M252 605h0M251 602h0M245 606h0M251 604h0M247 607h0M251 601h0M247 601h0M245 604h0M247 601h0M247 602h0M250 602h0"/>
<path stroke="#5ae6d4" d="M189 628h0M157 629h0M169 635h0M173 628h0M180 625h0M184 627h0M176 628h0M188 632h0M169 625h0M159 632h0M174 633h0M180 632h0M187 626h0M172 630h0M156 630h0M168 628h0M178 630h0M182 632h0M181 629h0M175 632h0M190 632h0"/>
<path stroke="#e02018" d="M167 587h0M144 585h0M142 575h0M144 591h0M173 625h0M166 602h0M180 619h0M158 578h0M158 624h0M178 609h0M182 589h0M130 592h0M157 599h0M161 581h0M148 613h0M134 609h0M149 632h0M181 607h0M172 585h0M148 615h0M140 608h0M173 611h0M160 629h0M141 598h0M184 616h0M137 602h0M147 578h0M154 604h0M155 581h0M172 588h0M182 612h0M157 592h0M155 571h0M139 575h0M177 614h0M146 617h0M171 632h0M156 625h0M139 628h0M138 594h0M166 626h0M156 590h0M170 621h0M138 623h0M155 621h0M153 572h0M151 622h0M160 582h0M176 576h0M138 586h0M150 608h0M158 611h0M170 630h0M135 617h0M146 592h0M181 622h0M178 614h0M136 591h0M177 587h0M144 582h0M158 625h0M152 584h0M153 622h0M146 617h0M140 623h0M156 603h0M148 591h0M134 589h0M145 579h0M155 631h0M158 622h0M137 604h0M170 585h0M165 592h0M153 637h0M147 605h0M129 588h0M168 625h0M139 578h0M151 624h0M132 584h0M166 605h0M135 621h0M137 606h0M152 598h0M159 626h0M154 618h0M157 595h0M148 599h0M179 618h0M145 617h0M169 612h0M152 591h0M172 603h0M158 599h0M159 581h0M140 619h0M166 582h0M147 628h0M146 581h0M156 628h0M154 576h0M141 627h0M126 599h0M131 600h0M149 621h0M138 593h0M161 619h0M169 581h0M147 609h0M165 614h0M127 601h0M170 589h0M143 582h0M147 578h0M154 592h0M154 612h0M150 589h0M127 601h0M161 597h0M173 620h0M151 590h0M153 613h0M150 600h0M161 609h0M138 591h0M178 595h0M178 620h0M164 611h0M147 573h0M157 618h0M166 594h0M146 625h0M156 599h0M178 587h0M149 595h0M137 578h0M144 587h0M137 619h0M145 580h0M162 615h0M136 597h0M174 590h0M162 596h0M178 582h0M169 597h0M151 599h0M138 599h0M142 613h0M180 611h0M156 570h0M159 581h0M147 595h0M179 608h0M137 612h0M163 623h0M131 593h0M159 593h0M156 603h0M177 585h0M180 594h0M138 621h0M147 577h0M163 596h0M132 607h0M186 611h0M150 603h0M149 590h0M132 619h0M136 601h0M160 575h0M184 591h0M156 620h0M147 624h0M144 617h0M161 595h0M159 601h0M146 588h0M176 596h0M171 618h0M135 626h0M138 586h0M154 597h0M145 622h0M150 604h0M132 597h0M135 590h0M136 624h0M150 594h0M140 610h0M182 588h0M187 601h0M180 619h0M141 606h0M151 583h0M170 589h0M149 602h0M143 576h0M175 596h0M158 626h0M147 618h0M137 617h0M155 596h0M171 599h0M148 585h0M141 584h0M164 604h0M152 602h0M158 595h0M146 614h0M168 591h0M168 595h0M152 590h0M166 609h0M157 617h0M132 614h0M162 608h0M165 605h0M162 628h0M164 590h0M161 594h0M162 614h0M134 583h0M132 587h0M153 583h0M128 613h0M135 587h0M159 607h0M185 596h0M169 591h0M126 611h0M150 580h0M182 613h0M146 631h0M129 607h0M136 600h0M186 615h0M161 592h0M162 626h0M137 607h0M142 596h0M132 596h0M129 612h0M147 617h0M133 624h0M149 594h0M126 600h0M139 603h0M165 627h0M153 602h0M131 608h0M163 610h0M132 588h0M138 600h0M155 618h0M146 602h0M141 586h0M173 595h0M150 619h0M154 574h0M139 580h0M162 607h0M185 615h0M161 592h0M152 620h0M159 609h0M151 590h0M154 625h0M127 618h0M183 604h0M152 603h0M159 600h0M145 616h0M180 588h0M174 576h0M150 573h0M167 605h0M141 586h0M124 604h0M150 630h0M176 608h0M150 590h0M149 601h0M157 596h0M170 619h0M166 594h0M168 602h0M135 585h0M168 599h0M179 612h0M183 612h0M167 608h0M155 600h0M161 601h0M170 624h0M128 586h0M156 618h0M141 622h0M169 597h0M174 625h0M148 573h0M171 621h0M159 572h0M147 602h0M152 584h0M171 593h0M152 603h0M163 596h0M147 601h0M157 616h0M148 587h0M157 598h0M156 581h0M156 626h0M162 596h0M155 602h0M174 594h0M166 595h0M172 586h0M162 621h0M157 627h0M164 624h0M128 607h0M173 585h0M168 591h0M186 596h0M178 621h0M161 619h0M167 609h0M146 589h0M137 619h0M177 596h0M158 585h0M141 619h0M148 610h0M180 594h0M168 599h0M170 616h0M142 605h0M157 611h0M144 626h0M158 578h0M146 607h0M164 588h0M142 601h0M173 584h0M143 617h0M152 613h0M175 619h0M142 616h0M155 589h0M175 589h0M151 610h0M145 619h0M148 632h0M139 604h0M161 582h0M137 587h0M135 586h0M160 606h0M151 607h0M137 599h0M159 582h0M171 626h0M134 611h0M148 595h0M152 585h0M168 581h0M131 600h0M161 602h0M161 598h0M163 578h0M172 589h0M140 595h0M164 614h0M144 586h0M177 593h0M161 573h0M160 633h0M171 611h0M171 586h0M142 587h0M182 610h0M162 622h0M184 611h0M160 611h0M149 570h0M156 582h0M140 616h0M146 596h0M172 591h0M142 631h0M155 602h0M154 575h0M134 597h0M135 611h0M169 600h0M128 607h0M151 575h0M138 606h0M158 595h0M151 605h0M149 584h0M170 586h0M159 611h0M153 620h0M168 604h0M168 612h0M132 620h0M145 617h0M160 612h0M164 571h0M136 624h0M175 611h0M177 588h0M156 627h0M133 583h0M156 602h0M143 634h0M172 603h0M147 588h0M152 615h0M173 610h0M151 587h0M148 595h0M166 583h0M173 620h0M149 622h0M141 588h0M146 596h0M156 592h0M130 594h0M152 603h0M144 626h0M151 598h0M161 581h0M136 608h0M168 599h0M129 609h0M164 630h0M174 588h0M138 613h0M165 583h0M170 594h0M147 576h0M161 600h0M150 613h0M139 619h0M136 598h0M148 586h0M158 591h0M161 589h0M171 610h0M186 611h0M149 598h0M126 601h0M150 610h0M134 611h0M141 600h0M140 600h0M172 611h0M144 591h0M166 598h0M175 597h0M158 613h0M151 620h0M168 579h0M159 621h0M171 586h0M136 609h0M158 616h0M173 626h0M182 609h0M132 604h0M168 601h0M177 608h0M129 577h0M168 642h0M83 576h0M162 572h0M123 580h0M124 598h0M224 613h0M104 612h0M208 591h0M134 631h0M136 571h0"/>
<path stroke="#f8c420" d="M124 626h0M99 607h0M94 629h0M97 604h0M118 618h0M106 599h0M100 616h0M110 637h0M84 602h0M92 604h0M93 619h0M122 618h0M88 623h0M121 613h0M73 626h0M97 601h0M90 628h0M117 603h0M107 600h0M115 632h0M102 633h0M99 617h0M118 633h0M73 610h0M86 628h0M87 634h0M120 626h0M110 623h0M107 596h0M92 597h0M72 613h0M91 630h0M90 618h0M106 617h0M88 593h0M109 638h0M104 610h0M86 596h0M101 591h0M106 627h0M85 630h0M123 622h0M117 614h0M123 620h0M81 605h0M110 621h0M117 619h0M102 594h0M104 616h0M71 620h0M97 595h0M75 620h0M116 606h0M108 632h0M126 617h0M114 600h0M82 627h0M114 622h0M85 599h0M99 616h0M88 609h0M99 607h0M77 625h0M99 612h0M80 613h0M93 624h0M121 624h0M112 626h0M102 591h0M102 624h0M79 631h0M99 625h0M79 612h0M99 613h0M118 628h0M78 615h0M83 606h0M109 614h0M101 625h0M91 614h0M110 633h0M113 600h0M91 611h0M102 623h0M95 604h0M81 631h0M76 614h0M109 612h0M93 606h0M102 638h0M81 603h0M84 627h0M90 597h0M92 616h0M102 614h0M81 626h0M92 621h0M87 632h0M110 599h0M123 626h0M118 605h0M92 625h0M117 630h0M93 614h0M92 625h0M121 604h0M105 626h0M85 629h0M102 611h0M111 620h0M90 630h0M73 608h0M106 607h0M77 606h0M78 628h0M88 619h0M82 620h0M73 616h0M86 626h0M100 637h0M84 608h0M84 617h0M94 637h0M102 603h0M111 625h0M81 598h0M73 622h0M100 609h0M122 616h0M98 630h0M88 635h0M80 614h0M96 626h0M89 639h0M81 609h0M98 611h0M99 621h0M102 608h0M94 627h0M93 606h0M86 638h0M88 635h0M90 619h0M101 615h0M86 614h0M99 620h0M114 596h0M107 606h0M90 614h0M127 621h0M99 619h0M94 630h0M81 619h0M83 596h0M104 592h0M102 639h0M114 625h0M90 595h0M76 606h0M93 611h0M72 628h0M118 605h0M121 625h0M102 623h0M101 604h0M94 599h0M75 625h0M75 623h0M108 595h0M122 602h0M102 602h0M113 634h0M125 613h0M88 616h0M90 606h0M110 605h0M111 608h0M90 624h0M103 640h0M93 592h0M102 613h0M92 593h0M89 627h0M97 615h0M96 619h0M101 596h0M123 615h0M76 606h0M75 605h0M97 601h0M111 605h0M114 617h0M93 616h0M113 619h0M113 603h0M111 615h0M79 621h0M97 637h0M98 629h0M106 637h0M105 612h0M73 609h0M89 632h0M95 592h0M110 626h0M104 614h0M98 616h0M113 627h0M117 617h0M79 624h0M78 605h0M89 612h0M106 597h0M90 637h0M124 626h0M75 614h0M87 606h0M92 628h0M75 620h0M103 620h0M92 602h0M98 617h0M116 634h0M85 614h0M107 597h0M109 623h0M87 614h0M103 624h0M106 598h0M113 617h0M109 620h0M85 637h0M93 610h0M101 598h0M84 607h0M95 624h0M106 606h0M97 627h0M81 607h0M113 596h0M104 628h0M89 616h0M124 618h0M117 626h0M114 597h0M87 634h0M101 603h0M88 620h0M103 627h0M109 599h0M101 610h0M120 600h0M122 625h0M90 605h0M110 635h0M122 614h0M105 641h0M83 612h0M105 600h0M120 615h0M98 616h0M112 609h0M73 623h0M93 608h0M107 609h0M107 607h0M83 614h0M115 597h0M107 603h0M114 613h0M93 638h0M90 612h0M89 615h0M98 638h0M93 593h0M110 620h0M77 617h0M112 610h0M109 623h0M119 624h0M99 611h0M93 624h0M98 595h0M100 609h0M108 613h0M119 625h0M115 614h0M96 618h0M89 596h0M84 633h0M90 604h0M111 614h0M99 628h0M103 639h0M113 619h0M106 620h0M105 609h0M87 607h0M91 619h0M120 617h0M88 608h0M95 617h0M125 625h0M108 626h0M106 606h0M120 622h0M80 623h0M70 619h0M112 633h0M119 612h0M83 609h0M104 624h0M112 622h0M96 630h0M112 627h0M97 619h0M93 639h0M80 603h0M98 629h0M105 613h0M119 607h0M97 626h0M96 626h0M100 618h0M81 601h0M115 631h0M77 611h0M94 599h0M124 606h0M82 629h0M115 625h0M97 618h0M92 595h0M89 619h0M93 640h0M78 613h0M84 621h0M125 608h0M121 627h0M113 597h0M121 600h0M80 613h0M89 599h0M76 605h0M109 638h0M89 639h0M83 615h0M98 633h0M90 625h0M76 627h0M100 622h0M80 623h0M105 597h0M109 624h0M111 628h0M81 596h0M112 625h0M97 624h0M82 616h0M87 628h0M102 623h0M118 623h0M91 609h0M120 601h0M109 607h0M96 618h0M86 627h0M101 610h0M108 619h0M73 606h0M109 633h0M99 600h0M110 600h0M89 631h0M91 637h0M115 618h0M107 634h0M94 615h0M105 610h0M99 618h0M113 608h0M85 637h0M110 623h0M117 630h0M86 636h0M98 623h0M97 630h0M84 607h0M113 626h0M82 625h0M91 631h0M90 595h0M108 629h0M108 627h0M96 601h0M100 641h0M80 587h0M118 594h0M139 611h0M57 606h0M107 658h0M67 602h0M110 648h0M60 616h0M134 605h0"/>
</g></g>
<rect x="24.7" y="213.75" width="173.6" height="113.05" fill="none" stroke="#6a6a6a" stroke-width="0.8"/>
<path d="M24.7 223.11h-1.4" stroke="#555" stroke-width="0.6"/>
<text class="t" x="20.4" y="225.21" font-size="5.7" letter-spacing="-.25" text-anchor="end">60</text>
<path d="M24.7 240.04h-1.4" stroke="#555" stroke-width="0.6"/>
<text class="t" x="20.4" y="242.14" font-size="5.7" letter-spacing="-.25" text-anchor="end">40</text>
<path d="M24.7 256.97h-1.4" stroke="#555" stroke-width="0.6"/>
<text class="t" x="20.4" y="259.07" font-size="5.7" letter-spacing="-.25" text-anchor="end">20</text>
<path d="M24.7 273.9h-1.4" stroke="#555" stroke-width="0.6"/>
<text class="t" x="20.4" y="276" font-size="5.7" letter-spacing="-.25" text-anchor="end">0</text>
<path d="M24.7 290.83h-1.4" stroke="#555" stroke-width="0.6"/>
<text class="t" x="20.4" y="292.93" font-size="5.7" letter-spacing="-.25" text-anchor="end">−20</text>
<path d="M24.7 307.76h-1.4" stroke="#555" stroke-width="0.6"/>
<text class="t" x="20.4" y="309.86" font-size="5.7" letter-spacing="-.25" text-anchor="end">−40</text>
<path d="M24.7 324.69h-1.4" stroke="#555" stroke-width="0.6"/>
<text class="t" x="20.4" y="326.79" font-size="5.7" letter-spacing="-.25" text-anchor="end">−60</text>
<path d="M37.8 326.8v1.4" stroke="#555" stroke-width="0.6"/>
<text class="t" x="37.8" y="334.6" font-size="5.7" letter-spacing="-.25" text-anchor="middle">−60</text>
<path d="M60.3 326.8v1.4" stroke="#555" stroke-width="0.6"/>
<text class="t" x="60.3" y="334.6" font-size="5.7" letter-spacing="-.25" text-anchor="middle">−40</text>
<path d="M82.8 326.8v1.4" stroke="#555" stroke-width="0.6"/>
<text class="t" x="82.8" y="334.6" font-size="5.7" letter-spacing="-.25" text-anchor="middle">−20</text>
<path d="M105.3 326.8v1.4" stroke="#555" stroke-width="0.6"/>
<text class="t" x="105.3" y="334.6" font-size="5.7" letter-spacing="-.25" text-anchor="middle">0</text>
<path d="M127.8 326.8v1.4" stroke="#555" stroke-width="0.6"/>
<text class="t" x="127.8" y="334.6" font-size="5.7" letter-spacing="-.25" text-anchor="middle">20</text>
<path d="M150.3 326.8v1.4" stroke="#555" stroke-width="0.6"/>
<text class="t" x="150.3" y="334.6" font-size="5.7" letter-spacing="-.25" text-anchor="middle">40</text>
<path d="M172.8 326.8v1.4" stroke="#555" stroke-width="0.6"/>
<text class="t" x="172.8" y="334.6" font-size="5.7" letter-spacing="-.25" text-anchor="middle">60</text>
<path d="M195.3 326.8v1.4" stroke="#555" stroke-width="0.6"/>
<text class="t" x="195.3" y="334.6" font-size="5.7" letter-spacing="-.25" text-anchor="middle">80</text>
<text class="t" x="111.5" y="342.7" font-size="6" text-anchor="middle" font-style="italic">x</text>
<text class="t" font-size="6" text-anchor="middle" font-style="italic" transform="translate(4.1 270.27) rotate(-90)">y</text>
<rect x="204.8" y="326.61" width="5.4" height="15.59" fill="#00007f"/>
<path d="M210.2 334.31h1.2" stroke="#555" stroke-width="0.5"/>
<text class="t" x="213.4" y="336.25" font-size="5.4">0</text>
<rect x="204.8" y="311.22" width="5.4" height="15.59" fill="#0000ff"/>
<path d="M210.2 318.92h1.2" stroke="#555" stroke-width="0.5"/>
<text class="t" x="213.4" y="320.87" font-size="5.4">1</text>
<rect x="204.8" y="295.83" width="5.4" height="15.59" fill="#0063ff"/>
<path d="M210.2 303.52h1.2" stroke="#555" stroke-width="0.5"/>
<text class="t" x="213.4" y="305.47" font-size="5.4">2</text>
<rect x="204.8" y="280.44" width="5.4" height="15.59" fill="#00d4ff"/>
<path d="M210.2 288.13h1.2" stroke="#555" stroke-width="0.5"/>
<text class="t" x="213.4" y="290.08" font-size="5.4">3</text>
<rect x="204.8" y="265.05" width="5.4" height="15.59" fill="#4dffa9"/>
<path d="M210.2 272.75h1.2" stroke="#555" stroke-width="0.5"/>
<text class="t" x="213.4" y="274.69" font-size="5.4">4</text>
<rect x="204.8" y="249.66" width="5.4" height="15.59" fill="#a9ff4d"/>
<path d="M210.2 257.36h1.2" stroke="#555" stroke-width="0.5"/>
<text class="t" x="213.4" y="259.31" font-size="5.4">5</text>
<rect x="204.8" y="234.27" width="5.4" height="15.59" fill="#ffe500"/>
<path d="M210.2 241.96h1.2" stroke="#555" stroke-width="0.5"/>
<text class="t" x="213.4" y="243.91" font-size="5.4">6</text>
<rect x="204.8" y="218.88" width="5.4" height="15.59" fill="#ff7c00"/>
<path d="M210.2 226.57h1.2" stroke="#555" stroke-width="0.5"/>
<text class="t" x="213.4" y="228.52" font-size="5.4">7</text>
<rect x="204.8" y="203.49" width="5.4" height="15.59" fill="#ff1300"/>
<path d="M210.2 211.19h1.2" stroke="#555" stroke-width="0.5"/>
<text class="t" x="213.4" y="213.13" font-size="5.4">8</text>
<rect x="204.8" y="188.1" width="5.4" height="15.59" fill="#7f0000"/>
<path d="M210.2 195.79h1.2" stroke="#555" stroke-width="0.5"/>
<text class="t" x="213.4" y="197.74" font-size="5.4">9</text>
<rect x="220.8" y="185.1" width="159.4" height="160.4" fill="#000"/>
<text class="d" text-anchor="middle" transform="translate(228.77 199.82) skewX(-15) scale(0.95 1.06)">0</text>
<text class="d" text-anchor="middle" transform="translate(244.71 199.82) skewX(-10) scale(0.95 1.06)">0</text>
<text class="d" text-anchor="middle" transform="translate(260.65 199.82) skewX(-5) scale(0.95 1.06)">0</text>
<text class="d" text-anchor="middle" transform="translate(276.59 199.82) skewX(-10) scale(0.95 1.06)">0</text>
<text class="d" text-anchor="middle" transform="translate(292.53 194.12) rotate(-75) scale(0.7 0.7) translate(0 4.1)">0</text>
<text class="d" text-anchor="middle" transform="translate(308.47 199.82) skewX(-10) scale(0.95 1.06)">0</text>
<text class="d" text-anchor="middle" transform="translate(324.41 199.82) skewX(-5) scale(0.95 1.06)">0</text>
<text class="d" text-anchor="middle" transform="translate(340.35 199.82) skewX(-5) scale(0.95 1.06)">0</text>
<text class="d" text-anchor="middle" transform="translate(356.29 199.82) skewX(0) scale(0.95 1.06)">0</text>
<text class="d" text-anchor="middle" transform="translate(372.23 199.82) skewX(0) scale(0.95 1.06)">0</text>
<text class="d" text-anchor="middle" transform="translate(228.77 216.96) skewX(5) scale(0.85 1.28)">1</text>
<text class="d" text-anchor="middle" transform="translate(244.71 216.96) skewX(-5) scale(0.85 1.28)">1</text>
<text class="d" text-anchor="middle" transform="translate(260.65 216.96) skewX(-10) scale(0.85 1.28)">1</text>
<text class="d" text-anchor="middle" transform="translate(276.59 216.96) skewX(-20) scale(0.85 1.28)">1</text>
<text class="d" text-anchor="middle" transform="translate(292.53 216.96) skewX(-25) scale(0.85 1.28)">1</text>
<text class="d" text-anchor="middle" transform="translate(308.47 216.96) skewX(-20) scale(0.85 1.28)">1</text>
<text class="d" text-anchor="middle" transform="translate(324.41 216.96) skewX(-15) scale(0.85 1.28)">1</text>
<text class="d" text-anchor="middle" transform="translate(340.35 216.96) skewX(-15) scale(0.85 1.28)">1</text>
<text class="d" text-anchor="middle" transform="translate(356.29 216.96) skewX(-5) scale(0.85 1.28)">1</text>
<text class="d" text-anchor="middle" transform="translate(372.23 216.96) skewX(0) scale(0.85 1.28)">1</text>
<rect x="221.8" y="214.76" width="157.4" height="2.8" fill="#000"/>
<text class="d" text-anchor="middle" transform="translate(228.77 231.9) skewX(-10) scale(1 1.06)">2</text>
<text class="d" text-anchor="middle" transform="translate(244.71 231.9) skewX(-10) scale(1 1.06)">2</text>
<text class="d" text-anchor="middle" transform="translate(260.65 231.9) skewX(0) scale(1 1.06)">2</text>
<text class="d" text-anchor="middle" transform="translate(276.59 231.9) skewX(-5) scale(1 1.06)">2</text>
<text class="d" style="stroke:#fff;stroke-width:.35px" text-anchor="middle" transform="translate(292.53 231.9) skewX(-5) scale(0.9 1.06)">2</text>
<text class="d" style="stroke:#fff;stroke-width:.35px" text-anchor="middle" transform="translate(308.47 231.9) skewX(0) scale(0.9 1.06)">2</text>
<text class="d" text-anchor="middle" transform="translate(324.41 231.9) skewX(-5) scale(1 1.06)">2</text>
<text class="d" text-anchor="middle" transform="translate(340.35 231.9) skewX(-5) scale(1 1.06)">2</text>
<text class="d" style="stroke:#fff;stroke-width:.35px" text-anchor="middle" transform="translate(356.29 231.9) skewX(0) scale(0.9 1.06)">2</text>
<text class="d" text-anchor="middle" transform="translate(372.23 231.9) skewX(0) scale(1 1.06)">2</text>
<text class="d" text-anchor="middle" transform="translate(228.77 247.94) skewX(-5) scale(0.95 1.06)">3</text>
<text class="d" text-anchor="middle" transform="translate(244.71 247.94) skewX(0) scale(0.95 1.06)">3</text>
<text class="d" text-anchor="middle" transform="translate(260.65 247.94) skewX(0) scale(0.95 1.06)">3</text>
<text class="d" text-anchor="middle" transform="translate(276.59 247.94) skewX(-5) scale(0.95 1.06)">3</text>
<text class="d" text-anchor="middle" transform="translate(292.53 247.94) skewX(-5) scale(0.95 1.06)">3</text>
<text class="d" text-anchor="middle" transform="translate(308.47 247.94) skewX(-5) scale(0.95 1.06)">3</text>
<text class="d" style="stroke:#fff;stroke-width:.35px" text-anchor="middle" transform="translate(324.41 247.94) skewX(0) scale(0.9 1.06)">3</text>
<text class="d" text-anchor="middle" transform="translate(340.35 247.94) skewX(0) scale(0.95 1.06)">3</text>
<text class="d" text-anchor="middle" transform="translate(356.29 247.94) skewX(0) scale(0.95 1.06)">3</text>
<text class="d" text-anchor="middle" transform="translate(372.23 247.94) skewX(0) scale(0.95 1.06)">3</text>
<text class="d" text-anchor="middle" transform="translate(228.77 263.98) skewX(-5) scale(1 1.06)">4</text>
<text class="d" text-anchor="middle" transform="translate(244.71 263.98) skewX(-5) scale(1 1.06)">4</text>
<text class="d" text-anchor="middle" transform="translate(260.65 263.98) skewX(-10) scale(1 1.06)">4</text>
<text class="d" text-anchor="middle" transform="translate(276.59 263.98) skewX(-15) scale(1 1.06)">4</text>
<text class="d" style="stroke:#fff;stroke-width:.35px" text-anchor="middle" transform="translate(292.53 263.98) skewX(0) scale(0.9 1.06)">4</text>
<text class="d" text-anchor="middle" transform="translate(308.47 263.98) skewX(-10) scale(1 1.06)">4</text>
<text class="d" text-anchor="middle" transform="translate(324.41 263.98) skewX(-5) scale(1 1.06)">4</text>
<text class="d" text-anchor="middle" transform="translate(340.35 263.98) skewX(-5) scale(1 1.06)">4</text>
<text class="d" text-anchor="middle" transform="translate(356.29 263.98) skewX(-10) scale(1 1.06)">4</text>
<text class="d" text-anchor="middle" transform="translate(372.23 263.98) skewX(-5) scale(1 1.06)">4</text>
<text class="d" text-anchor="middle" transform="translate(228.77 280.02) skewX(-10) scale(1.05 1.06)">5</text>
<text class="d" text-anchor="middle" transform="translate(244.71 280.02) skewX(-5) scale(1.05 1.06)">5</text>
<text class="d" text-anchor="middle" transform="translate(260.65 280.02) skewX(-10) scale(1.05 1.06)">5</text>
<text class="d" style="stroke:#fff;stroke-width:.35px" text-anchor="middle" transform="translate(276.59 280.02) skewX(0) scale(0.9 1.06)">5</text>
<text class="d" text-anchor="middle" transform="translate(292.53 280.02) skewX(-5) scale(1.05 1.06)">5</text>
<text class="d" text-anchor="middle" transform="translate(308.47 280.02) skewX(-5) scale(1.05 1.06)">5</text>
<text class="d" text-anchor="middle" transform="translate(324.41 280.02) skewX(-5) scale(1.05 1.06)">5</text>
<text class="d" text-anchor="middle" transform="translate(340.35 280.02) skewX(-10) scale(1.05 1.06)">5</text>
<text class="d" text-anchor="middle" transform="translate(356.29 280.02) skewX(-5) scale(1.05 1.06)">5</text>
<text class="d" text-anchor="middle" transform="translate(372.23 280.02) skewX(-10) scale(1.05 1.06)">5</text>
<text class="d" text-anchor="middle" transform="translate(228.77 296.06) skewX(-10) scale(0.9 1.06)">6</text>
<text class="d" text-anchor="middle" transform="translate(244.71 296.06) skewX(-10) scale(0.9 1.06)">6</text>
<text class="d" text-anchor="middle" transform="translate(260.65 296.06) skewX(-10) scale(0.9 1.06)">6</text>
<text class="d" text-anchor="middle" transform="translate(276.59 296.06) skewX(-15) scale(0.9 1.06)">6</text>
<text class="d" text-anchor="middle" transform="translate(292.53 296.06) skewX(-10) scale(0.9 1.06)">6</text>
<text class="d" text-anchor="middle" transform="translate(308.47 296.06) skewX(-10) scale(0.9 1.06)">6</text>
<text class="d" text-anchor="middle" transform="translate(324.41 296.06) skewX(-5) scale(0.9 1.06)">6</text>
<text class="d" text-anchor="middle" transform="translate(340.35 296.06) skewX(-10) scale(0.9 1.06)">6</text>
<text class="d" text-anchor="middle" transform="translate(356.29 296.06) skewX(-10) scale(0.9 1.06)">6</text>
<text class="d" text-anchor="middle" transform="translate(372.23 296.06) skewX(-5) scale(0.9 1.06)">6</text>
<text class="d" text-anchor="middle" transform="translate(228.77 312.1) skewX(-5) scale(1 1.06)">7</text>
<text class="d" text-anchor="middle" transform="translate(244.71 312.1) skewX(-20) scale(1 1.06)">7</text>
<text class="d" text-anchor="middle" transform="translate(260.65 312.1) skewX(-10) scale(1 1.06)">7</text>
<text class="d" text-anchor="middle" transform="translate(276.59 312.1) skewX(-10) scale(1 1.06)">7</text>
<text class="d" text-anchor="middle" transform="translate(292.53 312.1) skewX(-10) scale(1 1.06)">7</text>
<text class="d" text-anchor="middle" transform="translate(308.47 312.1) skewX(-10) scale(1 1.06)">7</text>
<text class="d" text-anchor="middle" transform="translate(324.41 312.1) skewX(-10) scale(1 1.06)">7</text>
<text class="d" text-anchor="middle" transform="translate(340.35 312.1) skewX(-5) scale(1 1.06)">7</text>
<text class="d" text-anchor="middle" transform="translate(356.29 312.1) skewX(-5) scale(1 1.06)">7</text>
<text class="d" text-anchor="middle" transform="translate(372.23 312.1) skewX(0) scale(1 1.06)">7</text>
<text class="d" text-anchor="middle" transform="translate(228.77 328.14) skewX(-5) scale(0.86 1.06)">8</text>
<text class="d" text-anchor="middle" transform="translate(244.71 328.14) skewX(-5) scale(0.86 1.06)">8</text>
<text class="d" text-anchor="middle" transform="translate(260.65 328.14) skewX(-5) scale(0.86 1.06)">8</text>
<text class="d" text-anchor="middle" transform="translate(276.59 328.14) skewX(-10) scale(0.86 1.06)">8</text>
<text class="d" text-anchor="middle" transform="translate(292.53 328.14) skewX(-10) scale(0.86 1.06)">8</text>
<text class="d" text-anchor="middle" transform="translate(308.47 328.14) skewX(-10) scale(0.86 1.06)">8</text>
<text class="d" text-anchor="middle" transform="translate(324.41 328.14) skewX(-15) scale(0.86 1.06)">8</text>
<text class="d" text-anchor="middle" transform="translate(340.35 328.14) skewX(-5) scale(0.86 1.06)">8</text>
<text class="d" text-anchor="middle" transform="translate(356.29 328.14) skewX(-10) scale(0.86 1.06)">8</text>
<text class="d" text-anchor="middle" transform="translate(372.23 328.14) skewX(0) scale(0.86 1.06)">8</text>
<text class="d" text-anchor="middle" transform="translate(228.77 344.18) skewX(-10) scale(0.86 1.06)">9</text>
<text class="d" text-anchor="middle" transform="translate(244.71 344.18) skewX(-10) scale(0.86 1.06)">9</text>
<text class="d" text-anchor="middle" transform="translate(260.65 344.18) skewX(-10) scale(0.86 1.06)">9</text>
<text class="d" text-anchor="middle" transform="translate(276.59 344.18) skewX(-10) scale(0.86 1.06)">9</text>
<text class="d" text-anchor="middle" transform="translate(292.53 344.18) skewX(-10) scale(0.86 1.06)">9</text>
<text class="d" text-anchor="middle" transform="translate(308.47 344.18) skewX(-5) scale(0.86 1.06)">9</text>
<text class="d" text-anchor="middle" transform="translate(324.41 344.18) skewX(-5) scale(0.86 1.06)">9</text>
<text class="d" text-anchor="middle" transform="translate(340.35 344.18) skewX(-5) scale(0.86 1.06)">9</text>
<text class="d" text-anchor="middle" transform="translate(356.29 344.18) skewX(-10) scale(0.86 1.06)">9</text>
<text class="d" text-anchor="middle" transform="translate(372.23 344.18) skewX(0) scale(0.86 1.06)">9</text>
<text class="c" x="80.3" y="361.5" font-size="13.5" textLength="223" lengthAdjust="spacingAndGlyphs">(<tspan font-weight="bold">b</tspan>) Conventional denoising auto-encoder</text>
<text class="t" x="113.97" y="389.7" font-size="6.3" text-anchor="middle">latent embedding - tSNE</text>
<clipPath id="cp2"><rect x="26.25" y="393.4" width="175.45" height="115.6"/></clipPath>
<g stroke-linecap="round" fill="none" clip-path="url(#cp2)"><g transform="scale(.5)" stroke-width="3.2">
<path stroke="#5ae6d4" d="M266 814h0M262 827h0M215 816h0M261 821h0M249 846h0M253 817h0M227 812h0M246 808h0M255 801h0M235 827h0M234 847h0M240 798h0M231 826h0M247 799h0M223 848h0M267 838h0M217 848h0M229 852h0M254 826h0M249 821h0M260 811h0M241 819h0M245 822h0M211 844h0M241 817h0M262 850h0M240 819h0M254 837h0M226 801h0M224 825h0M242 818h0M232 839h0M219 800h0M238 820h0M210 825h0M242 814h0M224 826h0M226 833h0M263 844h0M276 826h0M236 815h0M233 849h0M220 814h0M235 828h0M241 826h0M227 808h0M240 831h0M233 818h0M225 805h0M262 803h0M258 804h0M245 845h0M263 835h0M260 810h0M258 820h0M248 847h0M242 839h0M219 812h0M260 841h0M203 832h0M254 840h0M216 813h0M247 825h0M235 797h0M243 828h0M271 812h0M235 842h0M214 844h0M228 810h0M217 837h0M273 810h0M238 823h0M259 834h0M246 818h0M267 830h0M235 811h0M231 817h0M245 802h0M276 818h0M215 820h0M231 828h0M262 832h0M260 808h0M248 825h0M219 842h0M264 838h0M220 845h0M253 805h0M238 832h0M262 820h0M228 806h0M202 823h0M247 818h0M231 829h0M241 820h0M267 820h0M233 820h0M257 825h0M242 826h0M228 816h0M221 829h0M217 836h0M248 804h0M230 823h0M274 830h0M217 825h0M256 827h0M259 836h0M209 841h0M239 815h0M230 821h0M245 840h0M224 830h0M255 800h0M249 834h0M245 818h0M223 840h0M237 828h0M244 820h0M211 812h0M255 811h0M230 828h0M254 805h0M241 822h0M231 843h0M208 839h0M250 801h0M209 808h0M229 822h0M264 828h0M242 793h0M256 804h0M209 816h0M243 803h0M276 821h0M249 824h0M256 826h0M238 845h0M223 820h0M243 847h0M247 813h0M237 824h0M220 833h0M257 848h0M225 811h0M260 806h0M233 809h0M234 840h0M205 817h0M266 814h0M222 818h0M234 824h0M214 823h0M206 811h0M241 843h0M244 811h0M237 847h0M230 844h0M259 830h0M230 807h0M200 825h0M232 836h0M258 808h0M230 815h0M234 820h0M256 829h0M262 841h0M249 822h0M261 819h0M252 821h0M234 811h0M243 813h0M213 831h0M251 828h0M231 814h0M224 816h0M252 823h0M273 821h0M250 817h0M205 835h0M257 836h0M225 817h0M273 810h0M262 832h0M221 840h0M234 853h0M215 835h0M222 845h0M236 828h0M235 798h0M245 836h0M266 814h0M218 833h0M271 838h0M204 835h0M237 828h0M234 826h0M227 812h0M248 815h0M245 820h0M263 845h0M236 806h0M245 828h0M248 796h0M255 845h0M234 832h0M239 815h0M217 836h0M260 828h0M253 815h0M258 824h0M245 847h0M249 823h0M221 847h0M208 818h0M253 841h0M243 826h0M269 840h0M249 850h0M250 847h0M239 828h0M211 830h0M234 821h0M220 836h0M261 821h0M218 800h0M259 843h0M237 841h0M224 805h0M243 816h0M215 837h0M240 815h0M248 839h0M254 803h0M230 815h0M242 832h0M218 827h0M262 839h0M223 814h0M266 815h0M214 802h0M258 829h0M259 839h0M272 827h0M219 835h0M219 846h0M266 805h0M214 842h0M251 833h0M269 833h0M250 819h0M262 833h0M227 849h0M246 834h0M272 823h0M220 845h0M201 822h0M244 815h0M239 835h0M238 819h0M267 813h0M237 813h0M218 843h0M225 817h0M229 819h0M219 804h0M239 831h0M216 810h0M222 800h0M228 802h0M237 802h0M246 835h0M230 849h0M251 834h0M265 829h0M262 807h0M212 838h0M244 838h0M246 819h0M230 807h0M241 834h0M218 839h0M240 796h0M231 841h0M241 807h0M271 809h0M243 809h0M233 802h0M221 845h0M215 817h0M210 838h0M251 801h0M214 824h0M238 820h0M253 804h0M240 808h0M240 830h0M228 846h0M262 819h0M236 803h0M266 843h0M205 835h0M225 799h0M252 821h0M206 814h0M269 840h0M245 852h0M252 819h0M214 829h0M247 808h0M204 815h0M232 812h0M255 829h0M247 807h0M267 822h0M232 813h0M259 849h0M233 841h0M250 812h0M248 846h0M267 843h0M209 807h0M254 804h0M242 798h0M254 804h0M223 824h0M209 826h0M230 816h0M221 805h0M206 830h0M237 851h0M249 837h0M231 835h0M253 824h0M233 801h0M232 803h0M207 809h0M232 798h0M262 815h0M216 816h0M215 823h0M202 809h0M244 820h0M236 824h0M263 805h0M215 819h0M259 804h0M237 842h0M259 843h0M251 826h0M207 838h0M233 820h0M236 835h0M230 850h0M204 812h0M208 841h0M238 829h0M230 796h0M230 819h0M233 823h0M236 822h0M244 836h0M235 845h0M222 837h0M223 803h0M243 840h0M275 821h0M277 830h0M239 831h0M252 799h0M255 806h0M237 840h0M250 803h0M263 808h0M204 825h0M213 812h0M207 807h0M212 827h0M234 821h0M254 851h0M221 844h0M243 820h0M258 841h0M235 814h0M253 827h0M222 800h0M265 799h0M252 845h0M234 814h0M206 834h0M230 811h0M248 843h0M232 849h0M222 810h0M231 825h0M262 836h0M229 803h0M241 827h0M232 843h0M257 823h0M267 815h0M231 831h0M237 819h0M217 815h0M267 809h0M237 810h0M212 823h0M230 816h0M234 847h0M240 818h0M250 820h0M233 833h0M241 820h0M243 821h0M246 811h0M256 816h0M230 822h0M215 848h0M233 860h0M219 861h0M265 792h0M277 801h0M229 869h0M191 805h0M207 849h0M295 831h0M177 873h0"/>
<path stroke="#e02018" d="M302 832h0M309 819h0M310 823h0M312 831h0M286 839h0M279 832h0M285 812h0M262 847h0M319 842h0M302 814h0M324 840h0M305 838h0M293 815h0M324 810h0M306 821h0M308 830h0M320 813h0M263 836h0M291 814h0M292 828h0M324 843h0M295 846h0M294 828h0M304 828h0M283 822h0M288 832h0M261 830h0M309 852h0M293 851h0M322 829h0M291 856h0M293 826h0M283 836h0M293 818h0M290 820h0M277 816h0M296 858h0M314 817h0M283 823h0M288 814h0M275 819h0M322 817h0M286 839h0M303 808h0M304 827h0M333 830h0M297 846h0M311 833h0M291 832h0M289 848h0M283 851h0M269 842h0M297 835h0M310 838h0M290 839h0M280 822h0M321 814h0M308 831h0M288 833h0M292 814h0M319 812h0M285 838h0M266 846h0M300 838h0M265 842h0M284 853h0M309 809h0M314 854h0M292 822h0M272 828h0M308 824h0M281 856h0M282 843h0M303 847h0M271 847h0M329 831h0M299 822h0M321 825h0M286 841h0M266 833h0M318 852h0M273 826h0M303 807h0M289 812h0M277 832h0M308 854h0M278 832h0M298 837h0M295 852h0M292 837h0M300 812h0M282 824h0M281 823h0M320 836h0M330 831h0M325 827h0M293 820h0M290 856h0M274 829h0M262 840h0M290 846h0M309 836h0M276 826h0M293 829h0M310 825h0M276 837h0M277 853h0M329 833h0M304 816h0M294 807h0M307 849h0M297 844h0M300 856h0M310 840h0M291 824h0M295 842h0M318 817h0M290 809h0M279 839h0M276 834h0M275 847h0M307 829h0M293 816h0M330 824h0M307 819h0M334 829h0M292 838h0M322 814h0M287 836h0M322 813h0M315 851h0M307 826h0M310 843h0M284 819h0M275 840h0M313 839h0M281 846h0M273 842h0M285 833h0M314 835h0M276 829h0M296 835h0M298 815h0M274 848h0M278 847h0M302 830h0M263 832h0M285 835h0M294 839h0M330 836h0M285 813h0M298 815h0M300 813h0M266 834h0M315 811h0M284 827h0M281 821h0M273 849h0M316 838h0M305 852h0M324 848h0M317 808h0M271 842h0M289 831h0M312 839h0M300 829h0M289 832h0M301 827h0M289 848h0M276 817h0M294 835h0M268 831h0M319 828h0M318 830h0M283 812h0M330 824h0M310 827h0M286 838h0M295 823h0M301 824h0M267 823h0M276 835h0M306 842h0M311 819h0M291 827h0M323 832h0M289 822h0M270 835h0M309 815h0M304 816h0M313 855h0M322 841h0M288 847h0M273 838h0M304 817h0M324 828h0M328 844h0M301 827h0M314 811h0M294 852h0M275 822h0M300 835h0M325 842h0M280 854h0M284 855h0M277 854h0M327 846h0M306 834h0M303 857h0M314 831h0M294 831h0M297 857h0M283 835h0M317 830h0M289 835h0M330 828h0M270 819h0M300 834h0M266 840h0M268 845h0M290 847h0M298 832h0M297 808h0M318 840h0M280 826h0M302 840h0M277 839h0M298 837h0M287 840h0M284 846h0M281 853h0M332 821h0M284 822h0M314 828h0M290 820h0M275 846h0M299 841h0M330 817h0M327 840h0M297 838h0M319 809h0M321 840h0M289 812h0M284 816h0M283 851h0M298 857h0M305 841h0M292 828h0M284 820h0M276 826h0M297 838h0M320 833h0M316 817h0M306 827h0M302 856h0M304 831h0M295 809h0M304 847h0M321 811h0M315 852h0M299 832h0M309 856h0M324 819h0M284 825h0M281 820h0M286 842h0M295 827h0M275 849h0M299 835h0M302 836h0M320 851h0M302 833h0M309 816h0M288 835h0M300 858h0M307 844h0M275 830h0M298 840h0M289 831h0M304 815h0M298 830h0M312 840h0M294 834h0M312 811h0M289 813h0M333 825h0M329 820h0M305 837h0M312 827h0M302 841h0M292 814h0M277 812h0M312 849h0M326 829h0M324 824h0M285 834h0M310 809h0M316 816h0M316 839h0M324 827h0M274 854h0M303 837h0M297 833h0M290 835h0M273 819h0M313 808h0M289 836h0M293 822h0M330 837h0M300 811h0M281 829h0M311 827h0M310 848h0M328 835h0M303 832h0M304 807h0M303 825h0M314 841h0M290 816h0M263 842h0M310 834h0M297 844h0M275 831h0M275 830h0M290 841h0M288 835h0M311 853h0M301 847h0M272 855h0M302 819h0M327 830h0M322 825h0M315 829h0M326 841h0M285 848h0M325 840h0M272 839h0M275 822h0M338 828h0M330 825h0M329 815h0M293 837h0M318 837h0M287 836h0M312 828h0M325 844h0M291 812h0M285 855h0M273 856h0M283 854h0M312 852h0M284 821h0M292 843h0M306 817h0M283 845h0M329 817h0M298 833h0M291 812h0M264 840h0M300 834h0M322 814h0M267 822h0M271 848h0M277 826h0M298 820h0M303 835h0M313 848h0M275 824h0M307 813h0M336 830h0M289 821h0M332 828h0M308 832h0M322 838h0M313 819h0M319 846h0M280 826h0M294 824h0M309 810h0M290 839h0M303 853h0M301 834h0M283 838h0M275 843h0M321 837h0M286 860h0M296 831h0M268 833h0M303 839h0M309 841h0M322 841h0M311 831h0M320 813h0M319 828h0M324 842h0M282 848h0M321 849h0M285 854h0M294 849h0M293 810h0M295 828h0M286 832h0M299 842h0M323 813h0M279 840h0M262 838h0M297 840h0M276 832h0M272 852h0M299 815h0M300 829h0M296 849h0M273 838h0M287 831h0M300 836h0M301 849h0M294 836h0M336 829h0M274 845h0M286 829h0M303 812h0M314 823h0M321 811h0M327 824h0M311 816h0M295 818h0M279 844h0M286 817h0M276 843h0M322 832h0M262 823h0M239 873h0M293 866h0M320 860h0M266 814h0M373 849h0M264 815h0M255 855h0M243 855h0M325 801h0"/>
<path stroke="#f8c420" d="M336 859h0M335 861h0M335 855h0M361 878h0M323 857h0M353 856h0M360 871h0M359 865h0M326 842h0M340 865h0M309 854h0M319 869h0M346 874h0M325 879h0M347 851h0M340 868h0M368 844h0M382 846h0M328 874h0M338 862h0M383 854h0M348 863h0M377 840h0M345 875h0M372 838h0M366 834h0M320 844h0M331 849h0M346 861h0M318 860h0M331 878h0M375 843h0M355 873h0M377 855h0M345 863h0M330 887h0M340 859h0M367 874h0M350 863h0M319 870h0M359 859h0M382 852h0M368 845h0M326 844h0M342 878h0M378 845h0M374 859h0M336 866h0M307 865h0M316 878h0M344 873h0M338 857h0M350 859h0M347 856h0M325 881h0M355 854h0M346 874h0M327 852h0M361 869h0M354 834h0M325 868h0M323 866h0M373 870h0M362 850h0M377 866h0M319 847h0M369 848h0M339 852h0M333 854h0M350 882h0M311 870h0M319 875h0M353 857h0M336 842h0M348 874h0M309 858h0M336 837h0M343 862h0M322 881h0M379 861h0M362 844h0M313 853h0M352 860h0M329 877h0M347 862h0M325 856h0M330 858h0M321 853h0M335 861h0M346 860h0M341 859h0M315 871h0M336 848h0M349 836h0M340 862h0M333 863h0M336 872h0M352 862h0M324 847h0M337 878h0M323 856h0M307 870h0M352 862h0M343 859h0M365 860h0M356 853h0M330 845h0M371 868h0M334 879h0M333 881h0M355 867h0M364 874h0M365 841h0M336 843h0M344 842h0M366 854h0M329 844h0M365 863h0M361 878h0M343 849h0M372 845h0M361 869h0M329 852h0M377 864h0M323 865h0M365 841h0M363 861h0M339 867h0M320 883h0M369 841h0M377 842h0M347 834h0M352 845h0M332 868h0M353 834h0M351 841h0M349 850h0M326 850h0M341 849h0M352 862h0M363 845h0M316 865h0M322 858h0M348 843h0M354 845h0M314 871h0M343 843h0M370 851h0M321 875h0M362 842h0M359 832h0M339 869h0M374 841h0M307 868h0M364 843h0M320 877h0M312 871h0M336 875h0M367 860h0M368 848h0M360 857h0M353 865h0M327 866h0M356 858h0M346 876h0M334 868h0M367 852h0M327 849h0M378 852h0M362 870h0M331 870h0M332 858h0M303 858h0M365 845h0M346 858h0M329 880h0M355 871h0M331 846h0M346 866h0M323 877h0M329 843h0M365 868h0M369 851h0M350 861h0M346 867h0M357 877h0M363 876h0M334 864h0M326 870h0M344 863h0M305 857h0M348 864h0M333 871h0M350 879h0M330 847h0M357 868h0M375 862h0M329 844h0M331 858h0M315 863h0M324 880h0M345 880h0M357 879h0M330 855h0M362 861h0M322 863h0M386 852h0M365 872h0M343 853h0M377 865h0M326 844h0M320 852h0M339 861h0M340 858h0M343 862h0M349 855h0M323 875h0M365 875h0M359 850h0M316 864h0M340 846h0M347 839h0M353 849h0M320 870h0M353 864h0M382 849h0M341 857h0M350 864h0M384 859h0M338 839h0M363 840h0M353 879h0M338 846h0M334 874h0M365 856h0M354 857h0M365 836h0M345 879h0M370 871h0M329 872h0M375 848h0M342 863h0M331 840h0M330 868h0M310 869h0M344 860h0M371 846h0M375 860h0M349 864h0M346 871h0M351 858h0M319 856h0M332 861h0M383 855h0M335 875h0M314 880h0M372 850h0M368 873h0M358 858h0M341 842h0M321 879h0M336 863h0M327 863h0M340 842h0M334 861h0M354 865h0M352 844h0M313 876h0M360 862h0M335 855h0M333 869h0M354 878h0M371 854h0M365 869h0M333 872h0M360 842h0M351 877h0M360 845h0M353 867h0M363 836h0M311 854h0M369 870h0M315 854h0M347 863h0M355 874h0M354 862h0M349 859h0M334 853h0M381 848h0M351 854h0M368 872h0M357 866h0M356 856h0M328 858h0M334 861h0M332 858h0M362 846h0M359 843h0M362 854h0M346 863h0M369 856h0M344 860h0M363 856h0M348 863h0M374 865h0M346 860h0M346 879h0M308 866h0M332 853h0M332 840h0M355 866h0M377 861h0M340 852h0M353 843h0M319 849h0M385 857h0M355 863h0M321 868h0M364 852h0M369 873h0M351 871h0M378 860h0M327 866h0M337 841h0M344 882h0M357 864h0M325 872h0M339 841h0M341 849h0M350 878h0M356 868h0M346 851h0M337 849h0M361 836h0M309 867h0M353 874h0M313 857h0M316 868h0M362 862h0M365 854h0M364 851h0M324 878h0M362 844h0M321 868h0M315 852h0M339 876h0M321 855h0M342 873h0M317 868h0M348 842h0M347 880h0M379 850h0M336 881h0M310 876h0M369 874h0M379 868h0M322 846h0M377 857h0M380 843h0M378 854h0M346 859h0M366 864h0M352 880h0M311 860h0M335 873h0M357 878h0M342 884h0M339 875h0M359 831h0M309 870h0M346 876h0M380 854h0M365 840h0M341 841h0M330 859h0M368 847h0M381 841h0M371 863h0M321 857h0M318 862h0M348 857h0M353 865h0M365 842h0M348 858h0M307 868h0M345 850h0M326 879h0M358 861h0M375 854h0M377 872h0M343 871h0M359 862h0M345 837h0M318 859h0M344 871h0M366 844h0M333 883h0M375 869h0M312 874h0M366 869h0M377 867h0M373 840h0M322 863h0M344 838h0M364 876h0M331 851h0M329 875h0M324 873h0M316 864h0M363 878h0M308 871h0M366 839h0M354 861h0M317 879h0M323 843h0M324 869h0M361 869h0M364 876h0M336 841h0M354 850h0M361 871h0M374 854h0M336 855h0M330 860h0M332 880h0M313 863h0M354 859h0M328 864h0M335 848h0M342 844h0M350 894h0M303 843h0M393 838h0M290 894h0M390 840h0M319 832h0M361 815h0M402 878h0M320 840h0M357 885h0"/>
<path stroke="#1020e0" d="M155 858h0M163 861h0M143 865h0M162 872h0M201 857h0M191 857h0M201 864h0M209 858h0M159 854h0M180 867h0M134 861h0M144 854h0M172 865h0M145 853h0M158 868h0M182 850h0M175 850h0M152 858h0M201 853h0M193 868h0M211 868h0M178 857h0M128 863h0M214 860h0M166 858h0M192 867h0M189 849h0M164 870h0M201 860h0M164 858h0M166 863h0M174 859h0M172 857h0M138 857h0M157 862h0M174 864h0M181 864h0M158 856h0M186 860h0M197 863h0M157 857h0M164 866h0M142 853h0M132 860h0M172 862h0M155 859h0M171 864h0M190 863h0M198 868h0M142 867h0M214 860h0M154 868h0M191 864h0M201 851h0M136 864h0M174 850h0M173 873h0M197 859h0M201 862h0M162 865h0M155 856h0M212 855h0M146 862h0M133 862h0M139 864h0M172 851h0M193 864h0M188 855h0M140 860h0M193 868h0M197 856h0M193 858h0M177 874h0M188 871h0M187 854h0M159 852h0M208 856h0M177 858h0M142 862h0M141 859h0M172 863h0M176 862h0M208 868h0M156 870h0M182 873h0M168 856h0M190 865h0M209 864h0M132 855h0M158 855h0M176 862h0M159 872h0M162 867h0M157 855h0M174 869h0M170 858h0M174 851h0M183 869h0M193 870h0M194 865h0M139 869h0M212 864h0M190 854h0M164 864h0M176 869h0M173 869h0M167 860h0M150 865h0M148 855h0M206 868h0M163 873h0M202 853h0M155 870h0M176 854h0M162 870h0M186 858h0M157 861h0M209 867h0M149 870h0M178 856h0M170 870h0M190 852h0M192 870h0M173 864h0M147 858h0M158 861h0M176 864h0M198 861h0M157 865h0M161 862h0M175 868h0M133 858h0M133 863h0M132 861h0M137 863h0M167 865h0M136 862h0M190 855h0M182 862h0M171 870h0M169 860h0M204 867h0M170 850h0M157 866h0M161 864h0M167 862h0M160 870h0M157 868h0M178 870h0M174 868h0M160 861h0M146 864h0M193 855h0M184 868h0M201 856h0M164 867h0M155 853h0M140 859h0M143 856h0M208 869h0M171 858h0M156 866h0M214 857h0M160 867h0M165 868h0M135 862h0M190 849h0M201 862h0M199 854h0M198 859h0M147 870h0M210 858h0M177 868h0M196 864h0M208 858h0M168 864h0M179 849h0M162 851h0M141 861h0M175 856h0M137 870h0M173 871h0M163 854h0M201 860h0M136 862h0M190 868h0M143 857h0M169 868h0M147 861h0M210 866h0M169 867h0M133 858h0M191 856h0M162 858h0M136 860h0M142 860h0M192 856h0M154 849h0M144 855h0M173 860h0M160 860h0M163 850h0M210 860h0M171 860h0M151 860h0M166 856h0M175 864h0M152 852h0M170 860h0M188 869h0M199 864h0M160 867h0M185 868h0M130 862h0M189 872h0M183 863h0M196 854h0M142 861h0M190 862h0M145 853h0M203 858h0M191 870h0M204 868h0M155 857h0M172 864h0M209 863h0M172 863h0M182 862h0M168 868h0M162 849h0M135 863h0M171 864h0M198 864h0M187 865h0M132 865h0M197 869h0M148 862h0M152 862h0M195 867h0M202 854h0M177 871h0M173 862h0M150 870h0M178 860h0M184 862h0M151 866h0M159 853h0M167 865h0M191 854h0M199 870h0M131 864h0M167 863h0M151 857h0M142 860h0M207 869h0M174 865h0M155 870h0M152 865h0M147 858h0M182 866h0M165 861h0M196 851h0M166 850h0M209 858h0M211 859h0M204 855h0M175 854h0M180 854h0M189 862h0M173 865h0M161 860h0M157 865h0M145 854h0M156 860h0M172 861h0M143 857h0M190 863h0M170 855h0M163 863h0M181 855h0M178 869h0M194 855h0M135 866h0M147 864h0M190 862h0M136 858h0M143 853h0M176 850h0M206 865h0M144 866h0M169 854h0M157 863h0M169 856h0M171 863h0M193 865h0M194 868h0M139 861h0M197 860h0M140 863h0M212 857h0M168 859h0M182 849h0M135 864h0M139 867h0M161 871h0M178 866h0M159 855h0M158 864h0M149 851h0M167 856h0M177 856h0M176 849h0M187 856h0M150 862h0M163 866h0M189 855h0M184 855h0M143 857h0M176 864h0M155 872h0M186 853h0M205 867h0M144 857h0M200 860h0M184 868h0M166 848h0M144 866h0M173 868h0M154 857h0M156 868h0M194 855h0M191 865h0M171 859h0M169 861h0M141 853h0M164 862h0M206 865h0M156 866h0M141 855h0M193 873h0M151 869h0M160 867h0M199 857h0M148 862h0M192 853h0M200 866h0M203 871h0M194 862h0M189 856h0M167 857h0M164 854h0M138 854h0M179 861h0M164 862h0M214 863h0M161 869h0M180 856h0M134 859h0M187 869h0M169 873h0M183 860h0M176 866h0M199 864h0M210 867h0M183 857h0M172 858h0M179 858h0M172 858h0M171 864h0M197 861h0M166 874h0M154 857h0M157 855h0M165 857h0M165 862h0M160 853h0M168 872h0M148 865h0M143 870h0M167 862h0M154 855h0M185 854h0M172 867h0M134 865h0M179 854h0M170 852h0M189 863h0M206 867h0M176 851h0M190 868h0M165 871h0M194 854h0M174 871h0M147 866h0M159 869h0M160 854h0M163 864h0M167 852h0M174 859h0M214 861h0M171 861h0M189 854h0M154 855h0M166 849h0M183 873h0M136 856h0M152 863h0M158 872h0M137 868h0M159 860h0M145 870h0M181 864h0M164 855h0M189 849h0M169 853h0M187 873h0M185 863h0M106 854h0M126 857h0M130 852h0M196 878h0M213 851h0M202 879h0M230 859h0M129 872h0M182 844h0M131 875h0"/>
<path stroke="#1020e0" d="M206 875h0M194 879h0M217 887h0M192 880h0M199 881h0M207 883h0M219 885h0M213 880h0M199 885h0M201 895h0M197 875h0M194 894h0M210 877h0M209 875h0M191 875h0M213 888h0M197 872h0M187 886h0M214 884h0M201 894h0M192 892h0M209 883h0M206 889h0M190 881h0M215 887h0M220 882h0M203 886h0M203 882h0M186 874h0M204 881h0M197 870h0M201 882h0M215 883h0M202 879h0M195 870h0M209 889h0M214 887h0M211 870h0M222 882h0M195 882h0M193 886h0M207 883h0M219 875h0M215 889h0M210 894h0M190 889h0M187 878h0M209 877h0M190 884h0M219 886h0M198 884h0M196 877h0M210 878h0M198 893h0M199 887h0M192 888h0M196 870h0M186 885h0M185 879h0M189 889h0M186 877h0M184 880h0M193 891h0M189 886h0M211 883h0M214 875h0M218 886h0M195 893h0M217 892h0M208 892h0M217 890h0M196 874h0M216 881h0M207 895h0M198 880h0M209 880h0M192 872h0M208 886h0M218 880h0M211 889h0M218 883h0M197 881h0M197 893h0M191 875h0M210 893h0M195 885h0M199 879h0M190 886h0M199 890h0M216 889h0M204 874h0M214 881h0M194 881h0M186 880h0M195 871h0M221 885h0M218 888h0M196 889h0M200 883h0M212 873h0M196 879h0M207 892h0M208 873h0M192 894h0M213 874h0M203 869h0M209 872h0M199 888h0M190 890h0M209 888h0M199 881h0M200 892h0M211 884h0M214 876h0M208 889h0M200 874h0M196 878h0M186 881h0M185 880h0M198 883h0M196 877h0M209 883h0M203 883h0M220 884h0M220 881h0M210 878h0M200 891h0M193 878h0M197 881h0M209 895h0M191 876h0M191 876h0M206 872h0M190 893h0M221 883h0M191 878h0M203 883h0M201 880h0M207 880h0M195 888h0M185 884h0M209 885h0M203 872h0M197 890h0M210 882h0M210 876h0M204 874h0M216 879h0M197 874h0M194 878h0M207 888h0M205 887h0M211 894h0M193 888h0M204 875h0M195 894h0M189 882h0M213 875h0M204 894h0M197 880h0M210 888h0M205 869h0M200 876h0M209 873h0M204 884h0M219 881h0M195 890h0M200 871h0M215 888h0M203 882h0M202 890h0M194 888h0M210 877h0M204 890h0M213 876h0M198 889h0M214 876h0M191 884h0M190 887h0M190 884h0M191 873h0M211 879h0M194 884h0M190 875h0M209 881h0M194 885h0M198 896h0M197 877h0M208 872h0M225 875h0M201 862h0M217 871h0M183 887h0"/>
<path stroke="#f07c28" d="M185 877h0M233 875h0M212 872h0M211 873h0M208 868h0M210 875h0M193 876h0M210 866h0M225 876h0M189 876h0M227 881h0M207 877h0M184 879h0M192 871h0M206 878h0M190 878h0M205 877h0M227 885h0M197 879h0M225 880h0M208 882h0M232 875h0M188 884h0M192 873h0M218 873h0M224 867h0M221 873h0M209 867h0M197 881h0M213 892h0M230 873h0M207 872h0M197 869h0M234 883h0M190 881h0M206 878h0M232 883h0M232 873h0M215 885h0M207 882h0M194 876h0M228 885h0M221 874h0M190 867h0M206 888h0M188 881h0M227 882h0M191 886h0M207 879h0M203 881h0M188 869h0M188 883h0M221 875h0M197 871h0M206 867h0M199 884h0M209 867h0M218 882h0M225 886h0M196 879h0M180 875h0M212 887h0M202 881h0M189 890h0"/>
<path stroke="#e02018" d="M228 883h0M212 864h0M206 864h0M231 871h0M221 877h0M202 875h0M216 879h0M202 873h0M217 865h0M214 864h0M213 874h0M207 880h0M215 878h0M214 868h0M225 869h0M216 882h0M217 873h0M218 865h0M219 872h0M226 864h0M221 865h0M226 874h0M228 869h0M239 874h0M212 875h0M209 869h0M224 872h0M215 868h0M233 864h0M212 881h0M227 873h0"/>
<path stroke="#1020e0" d="M179 830h0M167 832h0M177 837h0M175 845h0M171 826h0M178 842h0M185 833h0M191 829h0M176 828h0M168 836h0M199 830h0M174 835h0M171 826h0M191 836h0M182 833h0M196 842h0M198 826h0M199 835h0M170 827h0M178 844h0M190 830h0M182 840h0M203 831h0M177 820h0M168 827h0M177 839h0M200 832h0M184 836h0M172 840h0M184 836h0M175 835h0"/>
<path stroke="#2462e0" d="M92 885h0M131 895h0M113 880h0M146 874h0M153 898h0M103 878h0M155 888h0M156 896h0M98 877h0M115 911h0M126 895h0M169 896h0M159 900h0M131 883h0M116 886h0M134 868h0M95 889h0M119 897h0M108 897h0M131 877h0M149 906h0M90 914h0M122 871h0M118 883h0M175 897h0M151 901h0M118 878h0M110 899h0M148 911h0M125 881h0M93 888h0M101 899h0M139 881h0M113 908h0M139 895h0M171 900h0M121 874h0M105 904h0M80 880h0M133 900h0M117 899h0M162 897h0M140 877h0M129 900h0M115 913h0M146 907h0M108 878h0M131 896h0M157 882h0M126 896h0M138 919h0M156 876h0M115 874h0M114 905h0M103 892h0M118 893h0M85 903h0M92 878h0M118 916h0M157 895h0M138 893h0M134 904h0M125 885h0M116 899h0M142 892h0M156 897h0M115 903h0M83 890h0M82 903h0M87 880h0M126 904h0M80 902h0M148 884h0M110 878h0M158 881h0M152 894h0M78 907h0M135 892h0M116 875h0M127 916h0M163 881h0M157 890h0M157 899h0M105 876h0M94 911h0M134 912h0M107 901h0M143 897h0M120 890h0M124 885h0M137 916h0M133 893h0M162 894h0M113 910h0M171 886h0M110 916h0M150 888h0M113 875h0M104 879h0M119 882h0M133 905h0M169 893h0M140 902h0M122 892h0M149 905h0M85 895h0M151 915h0M85 893h0M111 887h0M81 902h0M163 886h0M127 875h0M113 888h0M88 884h0M96 907h0M118 879h0M128 903h0M133 915h0M116 883h0M135 919h0M134 915h0M80 903h0M123 892h0M126 915h0M154 878h0M82 899h0M107 885h0M130 900h0M105 886h0M144 881h0M155 911h0M130 893h0M141 884h0M136 906h0M113 884h0M94 908h0M165 888h0M122 886h0M171 894h0M88 907h0M110 911h0M81 896h0M121 911h0M109 890h0M141 899h0M86 912h0M109 909h0M171 912h0M112 876h0M144 895h0M108 902h0M114 893h0M139 920h0M150 917h0M101 919h0M87 912h0M154 900h0M130 904h0M75 887h0M155 886h0M92 891h0M141 887h0M79 896h0M85 896h0M117 880h0M111 891h0M144 921h0M95 887h0M101 883h0M112 920h0M155 900h0M129 893h0M125 886h0M157 885h0M142 883h0M122 892h0M113 907h0M99 909h0M119 896h0M112 891h0M156 906h0M139 904h0M105 888h0M83 893h0M78 897h0M128 892h0M115 887h0M91 878h0M118 900h0M149 879h0M119 871h0M161 901h0M106 878h0M97 886h0M114 921h0M94 895h0M112 908h0M121 886h0M108 911h0M158 898h0M128 896h0M134 886h0M103 894h0M122 891h0M118 892h0M95 892h0M72 895h0M108 890h0M154 896h0M125 897h0M145 893h0M95 891h0M162 912h0M162 904h0M149 914h0M132 914h0M98 885h0M129 898h0M137 912h0M80 887h0M119 881h0M124 898h0M137 879h0M88 905h0M106 885h0M163 902h0M95 908h0M136 897h0M94 881h0M85 880h0M123 879h0M80 898h0M130 872h0M118 898h0M86 880h0M125 872h0M108 889h0M108 901h0M77 902h0M145 914h0M146 893h0M154 915h0M166 883h0M127 916h0M128 918h0M123 916h0M108 918h0M170 884h0M125 883h0M174 895h0M109 877h0M103 894h0M158 874h0M111 919h0M135 895h0M103 914h0M110 873h0M139 884h0M89 889h0M73 909h0M111 903h0M101 917h0M134 907h0M170 899h0M134 913h0M128 889h0M117 915h0M136 913h0M130 892h0M125 881h0M179 896h0M132 907h0M115 877h0M160 911h0M109 908h0M96 890h0M104 888h0M95 901h0M128 911h0M114 898h0M118 876h0M150 900h0M116 888h0M151 886h0M130 895h0M108 907h0M115 885h0M125 895h0M123 900h0M113 896h0M163 907h0M164 894h0M152 912h0M164 892h0M116 881h0M106 889h0M157 919h0M130 885h0M136 882h0M153 903h0M169 892h0M146 883h0M103 908h0M121 918h0M149 881h0M132 900h0M147 894h0M92 901h0M95 903h0M150 872h0M104 914h0M127 869h0M120 870h0M100 875h0M113 888h0M146 886h0M106 876h0M152 881h0M87 900h0M81 888h0M85 894h0M81 901h0M137 906h0M105 910h0M136 920h0M84 909h0M115 890h0M171 898h0M153 887h0M143 897h0M103 918h0M122 890h0M109 916h0M118 875h0M162 896h0M164 909h0M142 892h0M151 912h0M120 885h0M145 877h0M144 917h0M166 896h0M133 878h0M138 873h0M135 877h0M155 908h0M146 890h0M162 916h0M126 902h0M90 889h0M148 874h0M106 893h0M101 910h0M95 905h0M122 917h0M164 895h0M115 915h0M169 897h0M105 887h0M169 896h0M98 892h0M98 892h0M129 888h0M91 907h0M166 911h0M102 916h0M123 873h0M137 894h0M149 880h0M124 888h0M94 904h0M122 894h0M141 904h0M169 910h0M98 899h0M162 878h0M85 887h0M135 879h0M136 896h0M114 875h0M134 905h0M128 917h0M129 901h0M108 894h0M117 906h0M106 918h0M124 883h0M129 906h0M105 908h0M138 913h0M125 897h0M91 883h0M165 882h0M108 871h0M90 911h0M123 903h0M147 879h0M126 892h0M116 904h0M132 895h0M148 880h0M102 901h0M80 880h0M124 900h0M141 893h0M112 899h0M80 881h0M116 880h0M118 899h0M150 895h0M139 879h0M121 897h0M144 877h0M104 893h0M92 890h0M85 895h0M166 898h0M100 905h0M138 901h0M135 888h0M110 901h0M148 897h0M110 896h0M132 900h0M129 920h0M164 891h0M117 897h0M153 881h0M120 879h0M125 873h0M145 914h0M124 920h0M122 883h0M76 884h0M117 915h0M148 902h0M145 884h0M116 915h0M99 881h0M163 897h0M87 901h0M154 896h0M159 899h0M92 906h0M163 889h0M122 895h0M82 883h0M133 911h0M124 878h0M93 879h0M169 908h0M122 903h0M98 891h0M128 898h0M85 907h0M138 894h0M101 909h0M98 884h0M126 874h0M130 906h0M150 886h0M152 910h0M154 897h0M149 887h0M148 899h0M103 909h0M108 873h0M118 892h0M134 905h0M119 892h0M120 883h0M100 906h0M119 902h0M97 882h0M115 899h0M102 908h0M132 900h0M136 892h0M103 904h0M95 894h0M159 876h0M73 931h0M91 942h0M155 926h0M116 861h0M175 930h0M86 865h0M91 923h0M199 902h0M121 859h0M182 890h0M73 865h0"/>
<path stroke="#f07c28" d="M271 877h0M269 871h0M254 912h0M261 887h0M265 869h0M281 873h0M293 880h0M232 882h0M241 873h0M250 883h0M246 879h0M295 899h0M254 888h0M230 890h0M228 878h0M246 909h0M252 893h0M249 872h0M237 906h0M265 901h0M260 882h0M275 885h0M247 896h0M254 879h0M236 908h0M234 874h0M272 874h0M292 881h0M258 887h0M243 901h0M246 881h0M300 887h0M260 866h0M281 902h0M233 902h0M277 884h0M288 879h0M268 905h0M270 880h0M278 879h0M221 893h0M295 884h0M252 882h0M256 879h0M226 886h0M251 901h0M240 904h0M275 864h0M252 903h0M293 873h0M227 902h0M254 886h0M259 886h0M299 899h0M250 897h0M233 897h0M251 888h0M289 886h0M248 881h0M231 883h0M236 902h0M279 902h0M226 894h0M244 880h0M258 896h0M262 866h0M262 882h0M277 883h0M246 866h0M265 903h0M238 899h0M263 875h0M269 906h0M257 907h0M247 904h0M299 879h0M249 894h0M254 861h0M257 898h0M248 880h0M293 874h0M251 881h0M298 889h0M272 900h0M275 874h0M278 877h0M223 887h0M246 882h0M220 895h0M240 879h0M237 887h0M267 892h0M268 893h0M233 883h0M286 874h0M279 908h0M283 885h0M258 891h0M264 869h0M279 869h0M244 912h0M262 887h0M236 880h0M287 884h0M271 864h0M234 905h0M249 879h0M263 911h0M255 878h0M245 867h0M245 873h0M238 907h0M275 867h0M263 891h0M242 884h0M279 874h0M255 882h0M229 890h0M276 899h0M282 877h0M244 899h0M262 888h0M298 899h0M276 900h0M227 878h0M259 891h0M273 892h0M231 901h0M226 894h0M271 893h0M234 884h0M232 872h0M287 888h0M277 906h0M241 884h0M299 897h0M268 898h0M224 902h0M243 895h0M242 868h0M265 897h0M264 905h0M267 908h0M251 869h0M242 890h0M231 881h0M269 871h0M227 877h0M261 885h0M248 898h0M254 906h0M251 904h0M230 901h0M292 900h0M259 906h0M271 877h0M286 875h0M285 879h0M249 878h0M287 874h0M294 885h0M280 892h0M232 891h0M253 877h0M261 903h0M287 884h0M234 897h0M275 891h0M292 897h0M240 901h0M251 879h0M273 888h0M231 883h0M296 902h0M286 905h0M232 872h0M273 889h0M264 881h0M246 890h0M282 877h0M286 897h0M228 896h0M229 882h0M270 881h0M244 899h0M290 900h0M281 898h0M284 897h0M246 890h0M292 874h0M237 879h0M270 897h0M235 886h0M227 884h0M244 866h0M265 885h0M251 876h0M265 897h0M237 902h0M258 873h0M224 893h0M263 894h0M283 897h0M222 882h0M246 911h0M243 897h0M229 905h0M243 888h0M294 876h0M281 885h0M276 897h0M249 898h0M255 883h0M234 876h0M285 900h0M276 884h0M251 897h0M235 875h0M249 894h0M259 893h0M224 884h0M277 909h0M263 891h0M283 903h0M232 880h0M255 881h0M268 890h0M235 893h0M229 901h0M250 888h0M286 875h0M264 898h0M254 906h0M222 884h0M230 894h0M252 886h0M267 895h0M271 894h0M234 877h0M233 874h0M286 900h0M256 890h0M265 887h0M267 879h0M227 891h0M296 879h0M250 894h0M228 896h0M247 894h0M250 889h0M292 892h0M224 881h0M228 898h0M263 906h0M282 871h0M254 871h0M248 894h0M278 868h0M268 913h0M267 878h0M249 895h0M261 898h0M243 887h0M233 896h0M240 892h0M269 900h0M251 874h0M255 888h0M246 891h0M241 881h0M242 897h0M253 898h0M262 891h0M249 893h0M261 877h0M263 889h0M243 893h0M256 893h0M280 885h0M286 892h0M261 893h0M257 911h0M238 879h0M272 885h0M253 897h0M259 886h0M248 910h0M253 908h0M283 906h0M248 891h0M235 891h0M246 870h0M223 881h0M249 883h0M291 883h0M286 901h0M242 895h0M268 871h0M241 892h0M221 899h0M247 880h0M258 886h0M231 883h0M248 909h0M273 911h0M273 863h0M245 907h0M254 876h0M272 866h0M273 883h0M276 876h0M261 901h0M255 897h0M270 864h0M249 880h0M291 879h0M247 902h0M251 878h0M276 895h0M258 891h0M279 878h0M277 867h0M263 872h0M276 905h0M291 888h0M225 875h0M244 873h0M250 911h0M239 903h0M273 885h0M260 880h0M286 890h0M247 878h0M284 902h0M273 881h0M245 876h0M259 888h0M259 911h0M243 889h0M270 879h0M238 868h0M255 889h0M298 893h0M263 885h0M269 912h0M297 881h0M264 873h0M244 901h0M252 881h0M282 878h0M287 894h0M262 864h0M231 888h0M251 897h0M264 872h0M245 905h0M273 906h0M271 876h0M246 875h0M273 876h0M256 913h0M263 877h0M258 895h0M243 870h0M256 889h0M276 899h0M225 886h0M238 900h0M251 901h0M273 897h0M272 869h0M268 876h0M245 906h0M226 883h0M231 882h0M260 891h0M295 898h0M233 868h0M251 882h0M290 876h0M254 906h0M268 896h0M246 894h0M241 887h0M302 889h0M282 873h0M236 876h0M271 868h0M264 881h0M274 870h0M273 897h0M232 872h0M298 886h0M279 889h0M256 896h0M232 885h0M241 900h0M264 900h0M239 877h0M263 881h0M269 881h0M244 901h0M253 872h0M273 883h0M278 926h0M317 916h0M208 901h0M299 902h0M302 890h0M208 886h0M246 863h0M243 860h0M216 879h0M260 853h0"/>
<path stroke="#98f098" d="M209 915h0M209 942h0M252 951h0M241 922h0M244 955h0M228 929h0M190 924h0M247 942h0M223 940h0M245 905h0M213 940h0M249 917h0M200 921h0M256 907h0M272 927h0M254 914h0M202 936h0M238 951h0M242 934h0M202 920h0M207 925h0M222 907h0M236 920h0M229 944h0M240 910h0M239 922h0M249 935h0M216 935h0M236 937h0M225 935h0M212 932h0M247 934h0M268 941h0M208 923h0M214 908h0M252 953h0M205 940h0M206 950h0M226 955h0M227 930h0M258 929h0M245 905h0M226 935h0M194 928h0M208 911h0M227 931h0M195 939h0M231 932h0M251 930h0M232 915h0M234 926h0M238 904h0M254 910h0M246 910h0M204 949h0M230 926h0M220 928h0M211 951h0M191 927h0M235 918h0M247 949h0M217 909h0M242 925h0M232 925h0M208 921h0M216 912h0M238 952h0M254 931h0M243 942h0M221 942h0M263 931h0M221 915h0M266 942h0M233 931h0M208 915h0M274 928h0M257 911h0M259 914h0M224 951h0M218 954h0M230 925h0M195 920h0M196 946h0M232 924h0M242 943h0M228 938h0M231 931h0M260 920h0M266 943h0M232 928h0M249 947h0M233 943h0M274 930h0M244 922h0M209 927h0M266 933h0M216 950h0M221 944h0M236 935h0M210 908h0M207 935h0M236 924h0M257 935h0M241 947h0M227 953h0M247 950h0M212 926h0M258 909h0M247 921h0M222 935h0M249 912h0M218 935h0M254 924h0M211 920h0M235 932h0M235 932h0M248 922h0M217 906h0M222 916h0M228 931h0M228 948h0M210 932h0M199 941h0M268 929h0M194 940h0M239 927h0M228 926h0M232 917h0M198 925h0M270 944h0M270 912h0M232 920h0M240 928h0M249 907h0M225 909h0M233 923h0M209 910h0M228 932h0M238 934h0M269 931h0M237 924h0M220 914h0M220 918h0M236 956h0M219 955h0M248 912h0M234 904h0M239 919h0M202 941h0M198 946h0M234 935h0M217 918h0M242 938h0M212 909h0M217 929h0M216 911h0M245 933h0M264 923h0M197 936h0M188 932h0M197 934h0M272 939h0M242 924h0M231 922h0M219 925h0M243 938h0M213 913h0M266 931h0M270 924h0M256 944h0M216 943h0M191 923h0M265 928h0M195 934h0M207 947h0M219 945h0M240 935h0M215 943h0M193 936h0M193 931h0M266 919h0M253 924h0M230 923h0M229 904h0M210 951h0M214 916h0M256 931h0M196 947h0M230 941h0M237 925h0M257 921h0M238 929h0M217 925h0M232 938h0M197 924h0M258 932h0M255 919h0M198 929h0M206 937h0M188 922h0M219 943h0M255 930h0M272 931h0M241 946h0M251 919h0M219 911h0M228 916h0M233 921h0M242 930h0M240 923h0M227 924h0M243 932h0M272 943h0M218 934h0M250 909h0M238 922h0M231 914h0M247 939h0M217 948h0M261 944h0M242 934h0M206 944h0M230 916h0M213 923h0M231 929h0M203 949h0M249 952h0M204 917h0M267 940h0M227 917h0M234 918h0M251 922h0M240 951h0M203 934h0M203 930h0M215 928h0M261 924h0M243 948h0M236 918h0M257 918h0M239 918h0M231 942h0M262 915h0M225 931h0M240 934h0M248 923h0M211 927h0M245 932h0M232 911h0M211 939h0M270 920h0M223 940h0M210 940h0M236 903h0M219 939h0M251 926h0M246 921h0M198 913h0M196 931h0M261 926h0M238 926h0M264 922h0M188 930h0M198 918h0M240 939h0M258 915h0M262 926h0M246 928h0M248 928h0M230 942h0M252 906h0M253 923h0M259 928h0M193 926h0M259 911h0M230 929h0M262 917h0M257 914h0M213 923h0M220 943h0M259 916h0M224 920h0M245 907h0M220 929h0M210 928h0M201 948h0M272 929h0M216 934h0M235 940h0M198 914h0M238 949h0M223 905h0M219 915h0M198 944h0M247 956h0M200 912h0M236 952h0M218 926h0M250 929h0M223 909h0M224 926h0M216 955h0M241 931h0M225 930h0M201 922h0M220 932h0M255 937h0M226 924h0M251 950h0M254 922h0M242 955h0M215 932h0M248 937h0M263 920h0M241 919h0M257 920h0M250 913h0M209 944h0M248 925h0M215 936h0M227 927h0M218 952h0M246 924h0M218 909h0M226 925h0M243 928h0M203 933h0M210 916h0M204 935h0M260 929h0M203 927h0M236 922h0M213 913h0M228 925h0M236 950h0M218 942h0M236 934h0M195 933h0M207 913h0M258 919h0M191 932h0M259 916h0M208 931h0M238 937h0M206 928h0M250 915h0M217 944h0M219 926h0M240 942h0M209 924h0M244 923h0M269 919h0M235 929h0M252 949h0M212 912h0M232 915h0M229 933h0M270 920h0M271 935h0M247 933h0M219 912h0M240 943h0M226 942h0M236 947h0M266 931h0M197 915h0M239 925h0M267 919h0M257 934h0M221 920h0M264 938h0M210 929h0M214 923h0M242 928h0M200 935h0M219 914h0M274 928h0M239 919h0M245 940h0M224 940h0M244 927h0M224 927h0M261 943h0M250 949h0M237 945h0M235 953h0M215 937h0M199 944h0M190 925h0M259 914h0M218 956h0M247 904h0M201 911h0M223 916h0M240 939h0M196 926h0M228 932h0M205 917h0M207 914h0M238 938h0M249 939h0M236 934h0M209 911h0M215 934h0M271 941h0M237 930h0M242 913h0M204 929h0M247 942h0M217 912h0M227 956h0M250 950h0M198 933h0M257 934h0M245 951h0M255 942h0M246 940h0M207 901h0M231 962h0M281 939h0M249 964h0M218 967h0M241 883h0M261 951h0M272 961h0M257 888h0M194 965h0"/>
<path stroke="#2cb0ea" d="M326 935h0M334 915h0M336 930h0M285 912h0M305 919h0M296 904h0M312 946h0M337 950h0M343 936h0M334 921h0M307 934h0M333 920h0M349 939h0M324 913h0M291 921h0M308 929h0M319 916h0M346 943h0M299 936h0M304 949h0M315 941h0M337 945h0M339 917h0M343 913h0M319 924h0M290 908h0M292 935h0M291 947h0M289 949h0M279 913h0M279 925h0M298 905h0M334 912h0M292 920h0M295 944h0M304 914h0M280 915h0M317 910h0M302 903h0M320 949h0M326 950h0M340 912h0M338 924h0M332 918h0M312 932h0M301 945h0M299 948h0M335 933h0M336 934h0M304 929h0M314 925h0M319 925h0M302 954h0M313 954h0M341 920h0M316 939h0M297 910h0M323 927h0M317 914h0M303 915h0M346 920h0M303 931h0M300 926h0M305 902h0M311 919h0M286 943h0M286 907h0M302 937h0M278 943h0M328 920h0M316 920h0M324 925h0M321 942h0M335 937h0M321 903h0M294 911h0M306 900h0M290 907h0M289 957h0M348 931h0M311 943h0M310 900h0M312 913h0M343 916h0M321 900h0M294 948h0M283 942h0M339 937h0M280 929h0M305 912h0M288 928h0M284 938h0M278 916h0M301 917h0M311 939h0M326 939h0M305 959h0M303 917h0M335 930h0M274 929h0M297 951h0M329 936h0M298 902h0M325 937h0M314 938h0M302 930h0M327 905h0M330 908h0M301 907h0M290 909h0M303 906h0M312 923h0M314 937h0M319 957h0M293 928h0M304 921h0M301 941h0M313 913h0M323 924h0M291 923h0M292 916h0M306 957h0M313 941h0M345 927h0M288 911h0M309 927h0M340 915h0M320 925h0M318 927h0M316 918h0M293 951h0M338 944h0M342 914h0M286 954h0M331 943h0M302 934h0M340 915h0M300 914h0M338 929h0M302 921h0M312 920h0M304 924h0M299 953h0M334 943h0M318 912h0M345 941h0M328 949h0M302 921h0M341 930h0M309 910h0M296 903h0M295 954h0M283 939h0M338 914h0M330 923h0M322 911h0M300 950h0M317 930h0M320 930h0M319 957h0M293 920h0M291 934h0M322 920h0M331 903h0M320 951h0M318 943h0M316 926h0M313 930h0M325 953h0M313 923h0M319 954h0M309 938h0M321 959h0M305 899h0M308 931h0M318 927h0M342 929h0M311 923h0M325 931h0M315 915h0M328 956h0M314 925h0M292 929h0M347 932h0M321 930h0M320 935h0M284 940h0M304 944h0M322 924h0M314 928h0M289 937h0M322 953h0M339 944h0M309 938h0M291 920h0M302 945h0M299 938h0M336 917h0M289 918h0M332 921h0M293 940h0M305 902h0M322 961h0M303 926h0M338 933h0M309 959h0M326 954h0M342 923h0M315 925h0M303 959h0M285 935h0M304 952h0M294 918h0M322 919h0M335 955h0M339 939h0M273 925h0M306 953h0M286 945h0M335 952h0M324 951h0M297 929h0M276 915h0M329 899h0M305 924h0M333 913h0M310 921h0M327 940h0M278 931h0M313 934h0M313 922h0M319 904h0M346 929h0M287 949h0M296 930h0M323 924h0M301 912h0M277 929h0M325 947h0M321 904h0M312 936h0M337 924h0M311 946h0M344 922h0M308 953h0M317 935h0M314 925h0M311 929h0M318 932h0M313 916h0M317 959h0M291 906h0M335 913h0M315 926h0M347 928h0M301 911h0M314 906h0M337 937h0M303 958h0M319 934h0M294 939h0M310 922h0M305 925h0M310 932h0M328 906h0M309 939h0M334 929h0M346 919h0M338 943h0M330 931h0M295 932h0M297 944h0M288 912h0M342 949h0M318 907h0M345 919h0M304 944h0M322 934h0M300 941h0M307 914h0M333 929h0M294 909h0M292 936h0M287 939h0M303 925h0M318 903h0M308 922h0M305 938h0M318 908h0M316 934h0M303 932h0M311 937h0M319 956h0M299 926h0M319 914h0M309 924h0M274 922h0M328 936h0M302 902h0M278 918h0M324 937h0M275 924h0M315 908h0M307 957h0M324 946h0M285 944h0M283 925h0M335 921h0M335 910h0M319 947h0M344 941h0M313 920h0M346 919h0M277 936h0M346 931h0M312 934h0M282 918h0M294 911h0M301 928h0M322 961h0M315 928h0M297 903h0M314 938h0M308 915h0M346 924h0M297 930h0M272 927h0M340 944h0M303 958h0M329 902h0M325 913h0M351 923h0M330 951h0M304 947h0M298 950h0M333 943h0M315 931h0M313 960h0M291 939h0M312 914h0M291 934h0M277 925h0M345 936h0M306 904h0M311 931h0M339 910h0M306 913h0M280 943h0M278 939h0M345 940h0M331 903h0M286 934h0M299 917h0M278 940h0M300 929h0M315 936h0M284 914h0M315 935h0M303 914h0M324 936h0M317 959h0M297 954h0M284 923h0M313 938h0M281 923h0M323 902h0M303 924h0M326 944h0M314 943h0M302 910h0M344 917h0M343 934h0M324 947h0M322 917h0M324 905h0M315 932h0M293 911h0M317 931h0M314 903h0M319 957h0M301 922h0M336 953h0M290 932h0M285 905h0M305 926h0M341 932h0M305 916h0M326 938h0M323 921h0M326 959h0M275 936h0M330 917h0M283 920h0M293 927h0M340 922h0M308 896h0M306 946h0M315 955h0M304 932h0M305 909h0M289 922h0M276 939h0M310 914h0M338 955h0M308 929h0M321 953h0M299 923h0M292 924h0M286 931h0M291 948h0M309 935h0M323 912h0M331 923h0M310 942h0M310 937h0M302 948h0M286 940h0M320 900h0M292 944h0M288 941h0M288 919h0M344 918h0M337 925h0M313 943h0M315 922h0M328 911h0M285 925h0M308 939h0M306 906h0M327 904h0M324 956h0M335 901h0M335 915h0M319 898h0M304 933h0M317 914h0M339 946h0M329 916h0M322 956h0M324 920h0M276 930h0M279 940h0M349 913h0M350 909h0M280 969h0M314 887h0M333 883h0M332 898h0M361 916h0M295 981h0M295 974h0M309 890h0M361 940h0"/>
<path stroke="#c8f040" d="M136 935h0M115 939h0M123 946h0M133 940h0M102 923h0M120 923h0M106 920h0M124 945h0M152 942h0M111 923h0M114 935h0M118 929h0M94 944h0M111 926h0M87 934h0M127 950h0M151 946h0M128 940h0M117 923h0M144 934h0M158 929h0M165 939h0M154 942h0M129 923h0M152 928h0M146 947h0M102 954h0M122 938h0M95 935h0M132 950h0M89 931h0M145 934h0M126 925h0M137 959h0M118 952h0M95 925h0M153 926h0M153 938h0M105 935h0M99 952h0M97 950h0M100 944h0M149 942h0M130 934h0M153 936h0M116 944h0M140 929h0M95 927h0M127 944h0M135 938h0M152 926h0M129 927h0M81 935h0M126 953h0M111 933h0M98 951h0M114 949h0M109 932h0M134 929h0M94 951h0M142 923h0M121 949h0M135 937h0M159 949h0M123 960h0M137 961h0M95 931h0M108 956h0M106 944h0M128 960h0M89 943h0M125 924h0M89 952h0M107 926h0M100 934h0M117 949h0M146 954h0M146 936h0M109 928h0M83 947h0M117 958h0M114 948h0M111 955h0M162 950h0M115 943h0M122 957h0M94 943h0M132 946h0M89 930h0M134 936h0M95 923h0M128 924h0M140 930h0M144 923h0M119 921h0M106 935h0M119 941h0M99 933h0M101 944h0M86 931h0M167 936h0M108 944h0M108 926h0M158 929h0M138 933h0M110 940h0M96 933h0M150 939h0M143 954h0M158 928h0M125 927h0M127 952h0M144 930h0M135 942h0M115 949h0M153 927h0M107 948h0M143 938h0M155 952h0M154 937h0M108 932h0M144 955h0M118 933h0M100 943h0M98 941h0M129 941h0M98 954h0M121 941h0M155 932h0M106 933h0M131 957h0M89 942h0M145 925h0M138 936h0M117 948h0M89 947h0M89 938h0M125 933h0M109 928h0M151 957h0M150 945h0M120 956h0M117 925h0M125 946h0M143 949h0M144 939h0M103 928h0M96 944h0M126 943h0M168 938h0M114 939h0M87 934h0M118 937h0M145 924h0M123 947h0M148 935h0M132 943h0M125 938h0M100 948h0M138 933h0M125 949h0M117 922h0M108 934h0M157 947h0M95 937h0M158 941h0M152 954h0M117 935h0M139 948h0M125 935h0M114 958h0M131 950h0M89 944h0M121 945h0M123 939h0M97 955h0M146 944h0M167 935h0M115 945h0M153 927h0M157 946h0M122 951h0M92 955h0M95 930h0M154 942h0M137 932h0M124 941h0M120 929h0M145 939h0M135 935h0M111 948h0M88 931h0M109 941h0M116 932h0M94 948h0M85 944h0M151 947h0M138 958h0M132 942h0M119 924h0M122 921h0M98 941h0M127 938h0M126 953h0M98 940h0M96 930h0M157 943h0M98 949h0M153 936h0M161 947h0M118 938h0M100 945h0M96 946h0M93 943h0M113 935h0M110 939h0M102 942h0M157 951h0M138 943h0M144 925h0M158 929h0M107 944h0M133 944h0M150 940h0M95 941h0M153 925h0M88 935h0M160 947h0M105 925h0M152 955h0M133 957h0M130 956h0M94 941h0M163 945h0M115 949h0M159 932h0M118 934h0M148 941h0M132 934h0M134 933h0M107 944h0M130 942h0M115 953h0M101 946h0M152 946h0M117 947h0M137 925h0M113 924h0M92 934h0M136 943h0M133 944h0M124 926h0M95 952h0M138 923h0M99 937h0M85 950h0M101 932h0M87 947h0M127 931h0M116 943h0M101 947h0M147 941h0M164 933h0M100 946h0M108 941h0M123 944h0M114 932h0M124 959h0M136 935h0M111 940h0M145 936h0M133 923h0M126 950h0M109 939h0M107 927h0M131 933h0M138 953h0M126 924h0M142 940h0M132 940h0M113 943h0M107 927h0M109 951h0M121 939h0M144 943h0M111 944h0M154 929h0M130 931h0M162 937h0M114 949h0M105 933h0M168 938h0M110 956h0M114 946h0M142 943h0M133 936h0M97 937h0M131 923h0M141 933h0M143 952h0M114 958h0M158 938h0M135 934h0M115 935h0M130 933h0M99 948h0M96 947h0M143 924h0M146 955h0M103 931h0M116 936h0M118 930h0M134 959h0M121 929h0M101 947h0M86 931h0M108 933h0M141 933h0M119 955h0M115 952h0M104 926h0M136 955h0M153 931h0M159 951h0M117 937h0M112 938h0M143 921h0M126 943h0M101 939h0M129 919h0M133 926h0M95 935h0M110 946h0M116 957h0M134 946h0M112 948h0M82 939h0M126 954h0M79 942h0M129 945h0M114 945h0M94 952h0M117 944h0M154 943h0M90 934h0M100 933h0M77 942h0M140 947h0M128 946h0M113 942h0M92 930h0M145 957h0M121 932h0M88 939h0M99 946h0M86 928h0M110 940h0M149 948h0M129 934h0M167 948h0M124 940h0M103 926h0M115 953h0M129 955h0M150 930h0M112 937h0M88 932h0M123 941h0M133 944h0M104 928h0M107 939h0M118 931h0M89 947h0M127 940h0M147 938h0M122 947h0M114 940h0M104 950h0M146 928h0M121 946h0M97 947h0M112 957h0M99 925h0M121 938h0M133 921h0M113 937h0M112 957h0M135 933h0M118 946h0M124 963h0M165 945h0M155 948h0M89 947h0M123 945h0M131 941h0M151 948h0M111 934h0M111 944h0M121 932h0M141 948h0M122 939h0M132 936h0M104 953h0M152 955h0M102 950h0M96 938h0M151 946h0M121 934h0M153 957h0M110 922h0M160 931h0M108 954h0M87 943h0M124 957h0M160 947h0M135 944h0M129 927h0M135 939h0M145 954h0M113 958h0M142 946h0M142 923h0M162 935h0M97 956h0M104 945h0M142 928h0M106 948h0M136 950h0M120 939h0M86 942h0M94 963h0M62 950h0M191 962h0M109 974h0M123 971h0M130 912h0M132 964h0M112 918h0M86 961h0M82 923h0"/>
<path stroke="#1c1c82" d="M191 987h0M190 981h0M193 970h0M193 982h0M193 975h0M210 983h0M175 976h0M169 995h0M221 1006h0M166 971h0M219 979h0M212 962h0M222 991h0M192 995h0M173 996h0M222 990h0M174 976h0M163 987h0M219 972h0M221 961h0M207 976h0M207 980h0M180 986h0M164 979h0M194 967h0M225 961h0M208 984h0M169 987h0M203 999h0M182 986h0M169 989h0M202 982h0M207 984h0M218 994h0M177 1000h0M189 989h0M190 979h0M187 987h0M185 984h0M216 963h0M174 985h0M222 958h0M186 991h0M206 959h0M197 960h0M170 972h0M195 974h0M208 973h0M229 968h0M205 993h0M179 1002h0M217 986h0M211 981h0M218 980h0M213 967h0M188 961h0M245 991h0M175 965h0M228 1000h0M205 983h0M209 956h0M233 993h0M228 963h0M238 965h0M189 993h0M206 993h0M193 1008h0M187 985h0M220 964h0M220 967h0M199 999h0M237 993h0M166 978h0M193 959h0M226 999h0M229 977h0M204 959h0M232 988h0M204 972h0M188 1000h0M214 967h0M205 964h0M211 993h0M212 987h0M189 965h0M203 960h0M224 963h0M216 964h0M180 990h0M190 983h0M198 989h0M204 970h0M173 976h0M172 988h0M241 973h0M204 987h0M212 984h0M222 999h0M198 966h0M215 1005h0M178 996h0M187 991h0M211 1006h0M215 997h0M212 996h0M197 960h0M187 1003h0M217 1001h0M174 993h0M200 986h0M187 982h0M220 988h0M229 970h0M221 983h0M187 1002h0M199 1004h0M205 1003h0M194 974h0M248 984h0M226 994h0M196 999h0M233 973h0M227 974h0M194 970h0M227 995h0M220 1003h0M191 982h0M217 975h0M201 971h0M202 974h0M195 967h0M200 996h0M192 977h0M194 996h0M219 958h0M203 990h0M218 975h0M167 989h0M196 996h0M225 960h0M175 974h0M193 1002h0M205 981h0M227 995h0M231 999h0M182 965h0M222 988h0M226 975h0M236 971h0M193 957h0M183 966h0M207 967h0M179 994h0M178 998h0M181 988h0M162 982h0M189 989h0M194 964h0M198 995h0M230 977h0M223 971h0M238 982h0M241 982h0M219 960h0M184 969h0M234 985h0M198 998h0M207 1000h0M202 994h0M225 967h0M198 1001h0M193 961h0M197 1007h0M240 979h0M191 1005h0M190 967h0M202 980h0M197 982h0M212 995h0M179 988h0M179 988h0M187 975h0M224 977h0M159 985h0M216 1006h0M202 1003h0M237 983h0M214 975h0M232 971h0M190 977h0M175 973h0M245 990h0M215 993h0M241 973h0M180 980h0M224 1002h0M209 975h0M204 986h0M228 999h0M228 986h0M195 1000h0M221 979h0M174 996h0M165 977h0M178 1004h0M187 972h0M206 987h0M225 989h0M180 975h0M222 997h0M223 960h0M191 991h0M227 973h0M232 967h0M175 995h0M198 968h0M215 999h0M200 986h0M206 1005h0M168 974h0M205 981h0M182 967h0M225 964h0M228 980h0M177 1001h0M199 991h0M202 985h0M225 994h0M196 981h0M182 1000h0M231 1000h0M209 964h0M231 995h0M187 1003h0M195 975h0M200 972h0M178 980h0M221 964h0M182 994h0M177 985h0M187 999h0M201 976h0M227 976h0M171 983h0M218 976h0M215 993h0M237 978h0M212 977h0M216 1008h0M216 975h0M199 978h0M225 970h0M209 991h0M211 1003h0M203 981h0M201 1005h0M192 997h0M205 981h0M202 986h0M202 985h0M201 992h0M223 963h0M173 976h0M173 993h0M194 1000h0M193 978h0M169 969h0M176 1000h0M210 1006h0M186 982h0M235 967h0M202 994h0M222 992h0M196 981h0M208 981h0M237 984h0M184 992h0M199 967h0M220 998h0M220 974h0M190 992h0M229 972h0M193 996h0M199 988h0M196 973h0M198 994h0M191 989h0M230 994h0M193 984h0M199 1004h0M190 972h0M199 975h0M195 981h0M205 982h0M227 1001h0M204 965h0M197 991h0M242 986h0M195 963h0M169 977h0M205 993h0M216 1003h0M233 1001h0M186 973h0M205 980h0M199 989h0M195 986h0M204 979h0M222 1003h0M229 996h0M233 964h0M227 984h0M210 976h0M186 966h0M179 982h0M210 962h0M236 981h0M189 1003h0M189 982h0M170 990h0M217 1003h0M177 979h0M200 991h0M210 996h0M188 999h0M201 991h0M227 969h0M197 977h0M211 973h0M193 961h0M191 989h0M175 998h0M221 961h0M230 985h0M190 994h0M184 987h0M243 996h0M241 982h0M199 993h0M189 982h0M216 997h0M193 968h0M204 994h0M211 968h0M226 986h0M226 961h0M208 970h0M229 963h0M209 974h0M203 1005h0M216 988h0M201 988h0M234 990h0M211 973h0M181 980h0M183 983h0M210 979h0M243 978h0M219 973h0M235 992h0M232 977h0M243 986h0M186 966h0M204 972h0M208 984h0M225 969h0M233 964h0M216 958h0M195 1001h0M205 982h0M187 984h0M239 969h0M208 969h0M189 964h0M166 974h0M175 992h0M209 978h0M220 978h0M205 1004h0M177 991h0M224 976h0M195 988h0M181 963h0M197 1003h0M202 977h0M234 962h0M236 975h0M185 972h0M226 981h0M198 1003h0M181 994h0M196 965h0M177 999h0M167 979h0M236 992h0M193 977h0M199 975h0M206 983h0M211 971h0M215 989h0M165 991h0M213 975h0M202 987h0M235 1000h0M229 977h0M219 959h0M186 984h0M205 981h0M209 984h0M196 969h0M225 965h0M221 996h0M185 959h0M191 960h0M225 973h0M183 980h0M196 996h0M176 987h0M200 993h0M232 968h0M194 961h0M199 993h0M204 981h0M212 1003h0M191 1003h0M173 982h0M214 1001h0M199 989h0M205 986h0M218 988h0M162 979h0M176 989h0M209 970h0M239 997h0M220 968h0M175 994h0M224 962h0M201 973h0M207 971h0M165 985h0M194 1000h0M187 984h0M218 958h0M208 983h0M189 993h0M169 970h0M220 982h0M231 968h0M206 979h0M245 981h0M189 982h0M192 988h0M198 974h0M221 1003h0M232 984h0M221 973h0M212 1008h0M178 975h0M212 990h0M196 997h0M207 1005h0M242 975h0M224 975h0M194 986h0M212 978h0M204 991h0M201 998h0M169 980h0M212 989h0M232 983h0M205 985h0M176 976h0M188 974h0M237 998h0M193 984h0M241 987h0M197 998h0M203 965h0M235 970h0M223 1003h0M151 982h0M229 932h0M153 995h0M174 1001h0M122 1009h0M223 1033h0M201 1021h0M258 982h0M241 1016h0M218 1009h0M245 1015h0M186 946h0"/>
</g></g>
<rect x="26.25" y="393.4" width="175.45" height="115.6" fill="none" stroke="#6a6a6a" stroke-width="0.8"/>
<path d="M26.25 401.78h-1.4" stroke="#555" stroke-width="0.6"/>
<text class="t" x="21.95" y="403.88" font-size="5.7" letter-spacing="-.25" text-anchor="end">60</text>
<path d="M26.25 417.08h-1.4" stroke="#555" stroke-width="0.6"/>
<text class="t" x="21.95" y="419.18" font-size="5.7" letter-spacing="-.25" text-anchor="end">40</text>
<path d="M26.25 432.39h-1.4" stroke="#555" stroke-width="0.6"/>
<text class="t" x="21.95" y="434.49" font-size="5.7" letter-spacing="-.25" text-anchor="end">20</text>
<path d="M26.25 447.7h-1.4" stroke="#555" stroke-width="0.6"/>
<text class="t" x="21.95" y="449.8" font-size="5.7" letter-spacing="-.25" text-anchor="end">0</text>
<path d="M26.25 463.01h-1.4" stroke="#555" stroke-width="0.6"/>
<text class="t" x="21.95" y="465.11" font-size="5.7" letter-spacing="-.25" text-anchor="end">−20</text>
<path d="M26.25 478.32h-1.4" stroke="#555" stroke-width="0.6"/>
<text class="t" x="21.95" y="480.42" font-size="5.7" letter-spacing="-.25" text-anchor="end">−40</text>
<path d="M26.25 493.62h-1.4" stroke="#555" stroke-width="0.6"/>
<text class="t" x="21.95" y="495.72" font-size="5.7" letter-spacing="-.25" text-anchor="end">−60</text>
<path d="M26.25 508.93h-1.4" stroke="#555" stroke-width="0.6"/>
<text class="t" x="21.95" y="511.03" font-size="5.7" letter-spacing="-.25" text-anchor="end">−80</text>
<path d="M36.1 509v1.4" stroke="#555" stroke-width="0.6"/>
<text class="t" x="36.1" y="516.8" font-size="5.7" letter-spacing="-.25" text-anchor="middle">−60</text>
<path d="M62.6 509v1.4" stroke="#555" stroke-width="0.6"/>
<text class="t" x="62.6" y="516.8" font-size="5.7" letter-spacing="-.25" text-anchor="middle">−40</text>
<path d="M89.1 509v1.4" stroke="#555" stroke-width="0.6"/>
<text class="t" x="89.1" y="516.8" font-size="5.7" letter-spacing="-.25" text-anchor="middle">−20</text>
<path d="M115.6 509v1.4" stroke="#555" stroke-width="0.6"/>
<text class="t" x="115.6" y="516.8" font-size="5.7" letter-spacing="-.25" text-anchor="middle">0</text>
<path d="M142.1 509v1.4" stroke="#555" stroke-width="0.6"/>
<text class="t" x="142.1" y="516.8" font-size="5.7" letter-spacing="-.25" text-anchor="middle">20</text>
<path d="M168.6 509v1.4" stroke="#555" stroke-width="0.6"/>
<text class="t" x="168.6" y="516.8" font-size="5.7" letter-spacing="-.25" text-anchor="middle">40</text>
<path d="M195.1 509v1.4" stroke="#555" stroke-width="0.6"/>
<text class="t" x="195.1" y="516.8" font-size="5.7" letter-spacing="-.25" text-anchor="middle">60</text>
<text class="t" x="113.97" y="524.9" font-size="6" text-anchor="middle" font-style="italic">x</text>
<text class="t" font-size="6" text-anchor="middle" font-style="italic" transform="translate(5.65 451.2) rotate(-90)">y</text>
<rect x="207.2" y="508.62" width="5.5" height="15.58" fill="#00007f"/>
<path d="M212.7 516.31h1.2" stroke="#555" stroke-width="0.5"/>
<text class="t" x="215.9" y="518.26" font-size="5.4">0</text>
<rect x="207.2" y="493.24" width="5.5" height="15.58" fill="#0000ff"/>
<path d="M212.7 500.93h1.2" stroke="#555" stroke-width="0.5"/>
<text class="t" x="215.9" y="502.88" font-size="5.4">1</text>
<rect x="207.2" y="477.86" width="5.5" height="15.58" fill="#0063ff"/>
<path d="M212.7 485.55h1.2" stroke="#555" stroke-width="0.5"/>
<text class="t" x="215.9" y="487.5" font-size="5.4">2</text>
<rect x="207.2" y="462.48" width="5.5" height="15.58" fill="#00d4ff"/>
<path d="M212.7 470.17h1.2" stroke="#555" stroke-width="0.5"/>
<text class="t" x="215.9" y="472.12" font-size="5.4">3</text>
<rect x="207.2" y="447.1" width="5.5" height="15.58" fill="#4dffa9"/>
<path d="M212.7 454.79h1.2" stroke="#555" stroke-width="0.5"/>
<text class="t" x="215.9" y="456.74" font-size="5.4">4</text>
<rect x="207.2" y="431.72" width="5.5" height="15.58" fill="#a9ff4d"/>
<path d="M212.7 439.41h1.2" stroke="#555" stroke-width="0.5"/>
<text class="t" x="215.9" y="441.36" font-size="5.4">5</text>
<rect x="207.2" y="416.34" width="5.5" height="15.58" fill="#ffe500"/>
<path d="M212.7 424.03h1.2" stroke="#555" stroke-width="0.5"/>
<text class="t" x="215.9" y="425.98" font-size="5.4">6</text>
<rect x="207.2" y="400.96" width="5.5" height="15.58" fill="#ff7c00"/>
<path d="M212.7 408.65h1.2" stroke="#555" stroke-width="0.5"/>
<text class="t" x="215.9" y="410.6" font-size="5.4">7</text>
<rect x="207.2" y="385.58" width="5.5" height="15.58" fill="#ff1300"/>
<path d="M212.7 393.27h1.2" stroke="#555" stroke-width="0.5"/>
<text class="t" x="215.9" y="395.22" font-size="5.4">8</text>
<rect x="207.2" y="370.2" width="5.5" height="15.58" fill="#7f0000"/>
<path d="M212.7 377.89h1.2" stroke="#555" stroke-width="0.5"/>
<text class="t" x="215.9" y="379.84" font-size="5.4">9</text>
<rect x="224" y="367" width="156.9" height="160.5" fill="#000"/>
<text class="d" text-anchor="middle" transform="translate(231.84 381.72) skewX(-15) scale(0.95 1.06)">0</text>
<text class="d" text-anchor="middle" transform="translate(247.53 381.72) skewX(-10) scale(0.95 1.06)">0</text>
<text class="d" text-anchor="middle" transform="translate(263.23 381.72) skewX(-5) scale(0.95 1.06)">0</text>
<text class="d" text-anchor="middle" transform="translate(278.91 381.72) skewX(-10) scale(0.95 1.06)">0</text>
<text class="d" text-anchor="middle" transform="translate(294.61 376.02) rotate(-75) scale(0.7 0.7) translate(0 4.1)">0</text>
<text class="d" text-anchor="middle" transform="translate(310.29 381.72) skewX(-10) scale(0.95 1.06)">0</text>
<text class="d" text-anchor="middle" transform="translate(325.99 381.72) skewX(-5) scale(0.95 1.06)">0</text>
<text class="d" text-anchor="middle" transform="translate(341.67 381.72) skewX(-5) scale(0.95 1.06)">0</text>
<text class="d" text-anchor="middle" transform="translate(357.37 381.72) skewX(0) scale(0.95 1.06)">0</text>
<text class="d" text-anchor="middle" transform="translate(373.05 381.72) skewX(0) scale(0.95 1.06)">0</text>
<text class="d" text-anchor="middle" transform="translate(231.84 398.88) skewX(5) scale(0.85 1.28)">1</text>
<text class="d" text-anchor="middle" transform="translate(247.53 398.88) skewX(-5) scale(0.85 1.28)">1</text>
<text class="d" text-anchor="middle" transform="translate(263.23 398.88) skewX(-10) scale(0.85 1.28)">1</text>
<text class="d" text-anchor="middle" transform="translate(278.91 398.88) skewX(-20) scale(0.85 1.28)">1</text>
<text class="d" text-anchor="middle" transform="translate(294.61 398.88) skewX(-25) scale(0.85 1.28)">1</text>
<text class="d" text-anchor="middle" transform="translate(310.29 398.88) skewX(-20) scale(0.85 1.28)">1</text>
<text class="d" text-anchor="middle" transform="translate(325.99 398.88) skewX(-15) scale(0.85 1.28)">1</text>
<text class="d" text-anchor="middle" transform="translate(341.67 398.88) skewX(-15) scale(0.85 1.28)">1</text>
<text class="d" text-anchor="middle" transform="translate(357.37 398.88) skewX(-5) scale(0.85 1.28)">1</text>
<text class="d" text-anchor="middle" transform="translate(373.05 398.88) skewX(0) scale(0.85 1.28)">1</text>
<rect x="225" y="396.68" width="154.9" height="2.8" fill="#000"/>
<text class="d" text-anchor="middle" transform="translate(231.84 413.82) skewX(-10) scale(1 1.06)">2</text>
<text class="d" text-anchor="middle" transform="translate(247.53 413.82) skewX(-10) scale(1 1.06)">2</text>
<text class="d" text-anchor="middle" transform="translate(263.23 413.82) skewX(0) scale(1 1.06)">2</text>
<text class="d" text-anchor="middle" transform="translate(278.91 413.82) skewX(-5) scale(1 1.06)">2</text>
<text class="d" style="stroke:#fff;stroke-width:.35px" text-anchor="middle" transform="translate(294.61 413.82) skewX(-5) scale(0.9 1.06)">2</text>
<text class="d" style="stroke:#fff;stroke-width:.35px" text-anchor="middle" transform="translate(310.29 413.82) skewX(0) scale(0.9 1.06)">2</text>
<text class="d" text-anchor="middle" transform="translate(325.99 413.82) skewX(-5) scale(1 1.06)">2</text>
<text class="d" text-anchor="middle" transform="translate(341.67 413.82) skewX(-5) scale(1 1.06)">2</text>
<text class="d" style="stroke:#fff;stroke-width:.35px" text-anchor="middle" transform="translate(357.37 413.82) skewX(0) scale(0.9 1.06)">2</text>
<text class="d" text-anchor="middle" transform="translate(373.05 413.82) skewX(0) scale(1 1.06)">2</text>
<text class="d" text-anchor="middle" transform="translate(231.84 429.88) skewX(-5) scale(0.95 1.06)">3</text>
<text class="d" text-anchor="middle" transform="translate(247.53 429.88) skewX(0) scale(0.95 1.06)">3</text>
<text class="d" text-anchor="middle" transform="translate(263.23 429.88) skewX(0) scale(0.95 1.06)">3</text>
<text class="d" text-anchor="middle" transform="translate(278.91 429.88) skewX(-5) scale(0.95 1.06)">3</text>
<text class="d" text-anchor="middle" transform="translate(294.61 429.88) skewX(-5) scale(0.95 1.06)">3</text>
<text class="d" text-anchor="middle" transform="translate(310.29 429.88) skewX(-5) scale(0.95 1.06)">3</text>
<text class="d" style="stroke:#fff;stroke-width:.35px" text-anchor="middle" transform="translate(325.99 429.88) skewX(0) scale(0.9 1.06)">3</text>
<text class="d" text-anchor="middle" transform="translate(341.67 429.88) skewX(0) scale(0.95 1.06)">3</text>
<text class="d" text-anchor="middle" transform="translate(357.37 429.88) skewX(0) scale(0.95 1.06)">3</text>
<text class="d" text-anchor="middle" transform="translate(373.05 429.88) skewX(0) scale(0.95 1.06)">3</text>
<text class="d" text-anchor="middle" transform="translate(231.84 445.93) skewX(-5) scale(1 1.06)">4</text>
<text class="d" text-anchor="middle" transform="translate(247.53 445.93) skewX(-5) scale(1 1.06)">4</text>
<text class="d" text-anchor="middle" transform="translate(263.23 445.93) skewX(-10) scale(1 1.06)">4</text>
<text class="d" text-anchor="middle" transform="translate(278.91 445.93) skewX(-15) scale(1 1.06)">4</text>
<text class="d" style="stroke:#fff;stroke-width:.35px" text-anchor="middle" transform="translate(294.61 445.93) skewX(0) scale(0.9 1.06)">4</text>
<text class="d" text-anchor="middle" transform="translate(310.29 445.93) skewX(-10) scale(1 1.06)">4</text>
<text class="d" text-anchor="middle" transform="translate(325.99 445.93) skewX(-5) scale(1 1.06)">4</text>
<text class="d" text-anchor="middle" transform="translate(341.67 445.93) skewX(-5) scale(1 1.06)">4</text>
<text class="d" text-anchor="middle" transform="translate(357.37 445.93) skewX(-10) scale(1 1.06)">4</text>
<text class="d" text-anchor="middle" transform="translate(373.05 445.93) skewX(-5) scale(1 1.06)">4</text>
<text class="d" text-anchor="middle" transform="translate(231.84 461.97) skewX(-10) scale(1.05 1.06)">5</text>
<text class="d" text-anchor="middle" transform="translate(247.53 461.97) skewX(-5) scale(1.05 1.06)">5</text>
<text class="d" text-anchor="middle" transform="translate(263.23 461.97) skewX(-10) scale(1.05 1.06)">5</text>
<text class="d" style="stroke:#fff;stroke-width:.35px" text-anchor="middle" transform="translate(278.91 461.97) skewX(0) scale(0.9 1.06)">5</text>
<text class="d" text-anchor="middle" transform="translate(294.61 461.97) skewX(-5) scale(1.05 1.06)">5</text>
<text class="d" text-anchor="middle" transform="translate(310.29 461.97) skewX(-5) scale(1.05 1.06)">5</text>
<text class="d" text-anchor="middle" transform="translate(325.99 461.97) skewX(-5) scale(1.05 1.06)">5</text>
<text class="d" text-anchor="middle" transform="translate(341.67 461.97) skewX(-10) scale(1.05 1.06)">5</text>
<text class="d" text-anchor="middle" transform="translate(357.37 461.97) skewX(-5) scale(1.05 1.06)">5</text>
<text class="d" text-anchor="middle" transform="translate(373.05 461.97) skewX(-10) scale(1.05 1.06)">5</text>
<text class="d" text-anchor="middle" transform="translate(231.84 478.02) skewX(-10) scale(0.9 1.06)">6</text>
<text class="d" text-anchor="middle" transform="translate(247.53 478.02) skewX(-10) scale(0.9 1.06)">6</text>
<text class="d" text-anchor="middle" transform="translate(263.23 478.02) skewX(-10) scale(0.9 1.06)">6</text>
<text class="d" text-anchor="middle" transform="translate(278.91 478.02) skewX(-15) scale(0.9 1.06)">6</text>
<text class="d" text-anchor="middle" transform="translate(294.61 478.02) skewX(-10) scale(0.9 1.06)">6</text>
<text class="d" text-anchor="middle" transform="translate(310.29 478.02) skewX(-10) scale(0.9 1.06)">6</text>
<text class="d" text-anchor="middle" transform="translate(325.99 478.02) skewX(-5) scale(0.9 1.06)">6</text>
<text class="d" text-anchor="middle" transform="translate(341.67 478.02) skewX(-10) scale(0.9 1.06)">6</text>
<text class="d" text-anchor="middle" transform="translate(357.37 478.02) skewX(-10) scale(0.9 1.06)">6</text>
<text class="d" text-anchor="middle" transform="translate(373.05 478.02) skewX(-5) scale(0.9 1.06)">6</text>
<text class="d" text-anchor="middle" transform="translate(231.84 494.07) skewX(-5) scale(1 1.06)">7</text>
<text class="d" text-anchor="middle" transform="translate(247.53 494.07) skewX(-20) scale(1 1.06)">7</text>
<text class="d" text-anchor="middle" transform="translate(263.23 494.07) skewX(-10) scale(1 1.06)">7</text>
<text class="d" text-anchor="middle" transform="translate(278.91 494.07) skewX(-10) scale(1 1.06)">7</text>
<text class="d" text-anchor="middle" transform="translate(294.61 494.07) skewX(-10) scale(1 1.06)">7</text>
<text class="d" text-anchor="middle" transform="translate(310.29 494.07) skewX(-10) scale(1 1.06)">7</text>
<text class="d" text-anchor="middle" transform="translate(325.99 494.07) skewX(-10) scale(1 1.06)">7</text>
<text class="d" text-anchor="middle" transform="translate(341.67 494.07) skewX(-5) scale(1 1.06)">7</text>
<text class="d" text-anchor="middle" transform="translate(357.37 494.07) skewX(-5) scale(1 1.06)">7</text>
<text class="d" text-anchor="middle" transform="translate(373.05 494.07) skewX(0) scale(1 1.06)">7</text>
<text class="d" text-anchor="middle" transform="translate(231.84 510.12) skewX(-5) scale(0.86 1.06)">8</text>
<text class="d" text-anchor="middle" transform="translate(247.53 510.12) skewX(-5) scale(0.86 1.06)">8</text>
<text class="d" text-anchor="middle" transform="translate(263.23 510.12) skewX(-5) scale(0.86 1.06)">8</text>
<text class="d" text-anchor="middle" transform="translate(278.91 510.12) skewX(-10) scale(0.86 1.06)">8</text>
<text class="d" text-anchor="middle" transform="translate(294.61 510.12) skewX(-10) scale(0.86 1.06)">8</text>
<text class="d" text-anchor="middle" transform="translate(310.29 510.12) skewX(-10) scale(0.86 1.06)">8</text>
<text class="d" text-anchor="middle" transform="translate(325.99 510.12) skewX(-15) scale(0.86 1.06)">8</text>
<text class="d" text-anchor="middle" transform="translate(341.67 510.12) skewX(-5) scale(0.86 1.06)">8</text>
<text class="d" text-anchor="middle" transform="translate(357.37 510.12) skewX(-10) scale(0.86 1.06)">8</text>
<text class="d" text-anchor="middle" transform="translate(373.05 510.12) skewX(0) scale(0.86 1.06)">8</text>
<text class="d" text-anchor="middle" transform="translate(231.84 526.18) skewX(-10) scale(0.86 1.06)">9</text>
<text class="d" text-anchor="middle" transform="translate(247.53 526.18) skewX(-10) scale(0.86 1.06)">9</text>
<text class="d" text-anchor="middle" transform="translate(263.23 526.18) skewX(-10) scale(0.86 1.06)">9</text>
<text class="d" text-anchor="middle" transform="translate(278.91 526.18) skewX(-10) scale(0.86 1.06)">9</text>
<text class="d" text-anchor="middle" transform="translate(294.61 526.18) skewX(-10) scale(0.86 1.06)">9</text>
<text class="d" text-anchor="middle" transform="translate(310.29 526.18) skewX(-5) scale(0.86 1.06)">9</text>
<text class="d" text-anchor="middle" transform="translate(325.99 526.18) skewX(-5) scale(0.86 1.06)">9</text>
<text class="d" text-anchor="middle" transform="translate(341.67 526.18) skewX(-5) scale(0.86 1.06)">9</text>
<text class="d" text-anchor="middle" transform="translate(357.37 526.18) skewX(-10) scale(0.86 1.06)">9</text>
<text class="d" text-anchor="middle" transform="translate(373.05 526.18) skewX(0) scale(0.86 1.06)">9</text>
<text class="c" x="44.3" y="544.3" font-size="13.5" textLength="292.1" lengthAdjust="spacingAndGlyphs">(<tspan font-weight="bold">c</tspan>) Proposed class-conditional denoising auto-encoder</text>
</svg></body></html>
